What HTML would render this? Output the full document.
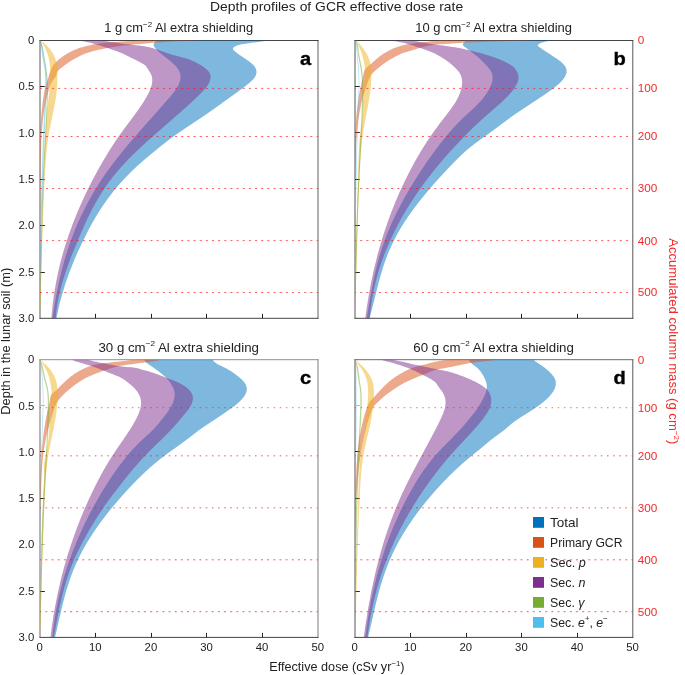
<!DOCTYPE html>
<html lang="en">
<head>
<meta charset="utf-8">
<title>Depth profiles of GCR effective dose rate</title>
<style>
html,body{margin:0;padding:0;background:#fff;}
body{width:685px;height:675px;overflow:hidden;position:relative;font-family:"Liberation Sans",sans-serif;}
svg text{font-family:"Liberation Sans",sans-serif;}
</style>
</head>
<body>
<svg width="685" height="675" viewBox="0 0 685 675" style="position:absolute;left:0;top:0">
<defs>
<clipPath id="cqa"><rect x="39.50" y="40.00" width="279.00" height="278.80"/></clipPath>
<clipPath id="cqb"><rect x="354.50" y="40.00" width="278.80" height="278.80"/></clipPath>
<clipPath id="cqc"><rect x="39.50" y="359.20" width="279.00" height="278.70"/></clipPath>
<clipPath id="cqd"><rect x="354.50" y="359.20" width="278.80" height="278.70"/></clipPath>
</defs>
<line x1="318.00" y1="40.10" x2="318.00" y2="318.70" stroke="#a8a8a8" stroke-width="1.8"/>
<line x1="40.00" y1="40.10" x2="40.00" y2="318.70" stroke="#777" stroke-width="1.2"/>
<line x1="39.50" y1="40.50" x2="318.50" y2="40.50" stroke="#444" stroke-width="1.0"/>
<line x1="39.50" y1="318.30" x2="318.50" y2="318.30" stroke="#444" stroke-width="1.0"/>
<line x1="95.50" y1="318.30" x2="95.50" y2="313.80" stroke="#222" stroke-width="1"/>
<line x1="151.50" y1="318.30" x2="151.50" y2="313.80" stroke="#222" stroke-width="1"/>
<line x1="206.50" y1="318.30" x2="206.50" y2="313.80" stroke="#222" stroke-width="1"/>
<line x1="262.50" y1="318.30" x2="262.50" y2="313.80" stroke="#222" stroke-width="1"/>
<line x1="40.00" y1="86.50" x2="44.80" y2="86.50" stroke="#222" stroke-width="1"/>
<line x1="40.00" y1="132.50" x2="44.80" y2="132.50" stroke="#222" stroke-width="1"/>
<line x1="40.00" y1="179.50" x2="44.80" y2="179.50" stroke="#222" stroke-width="1"/>
<line x1="40.00" y1="225.50" x2="44.80" y2="225.50" stroke="#222" stroke-width="1"/>
<line x1="40.00" y1="272.50" x2="44.80" y2="272.50" stroke="#222" stroke-width="1"/>
<g clip-path="url(#cqa)">
<path d="M269.0,40.5L266.1,40.9L263.0,41.3L259.8,41.8L256.6,42.2L254.3,42.5L253.3,42.6L250.1,43.0L246.9,43.5L244.0,43.9L241.5,44.3L240.6,44.5L239.6,44.7L238.1,45.2L236.9,45.6L235.8,46.0L234.9,46.4L234.8,46.5L234.2,46.9L233.8,47.3L233.4,47.7L233.2,48.1L233.0,48.5L233.0,48.6L233.0,49.0L233.1,49.4L233.3,49.8L233.7,50.2L233.9,50.5L234.1,50.7L234.6,51.1L235.1,51.5L235.7,51.9L236.2,52.4L236.4,52.5L236.7,52.8L237.3,53.2L237.8,53.6L238.3,54.1L238.9,54.5L238.9,54.5L239.5,54.9L240.1,55.3L240.8,55.8L241.4,56.2L241.9,56.5L242.1,56.6L242.7,57.0L243.4,57.4L244.0,57.9L244.6,58.3L244.9,58.5L245.2,58.7L245.8,59.1L246.4,59.6L247.0,60.0L247.6,60.4L247.7,60.5L248.2,60.8L248.8,61.3L249.4,61.7L249.9,62.1L250.4,62.5L250.5,62.5L251.0,63.0L251.6,63.4L252.1,63.8L252.5,64.2L252.8,64.5L253.0,64.7L253.4,65.1L253.8,65.5L254.6,66.5L255.8,68.5L256.4,70.5L256.5,72.5L256.1,74.5L255.3,76.5L253.9,78.5L252.0,80.5L249.8,82.5L247.4,84.5L244.9,86.5L242.3,88.5L239.6,90.5L236.8,92.5L234.0,94.5L231.2,96.5L228.4,98.5L225.6,100.5L222.8,102.5L220.1,104.5L217.3,106.5L214.5,108.5L211.7,110.4L208.8,112.4L205.9,114.4L203.0,116.4L200.0,118.4L197.0,120.4L194.0,122.4L191.0,124.4L187.9,126.4L185.0,128.4L182.0,130.4L179.1,132.4L176.2,134.4L173.5,136.4L170.8,138.4L168.1,140.4L165.5,142.4L162.9,144.4L160.4,146.4L157.9,148.4L155.5,150.4L153.0,152.4L150.6,154.4L148.2,156.4L145.8,158.4L143.5,160.4L141.2,162.4L138.9,164.4L136.7,166.4L134.6,168.4L132.5,170.4L130.5,172.4L128.5,174.4L126.5,176.4L124.6,178.4L122.8,180.4L120.9,182.4L119.2,184.4L117.5,186.4L115.8,188.4L114.1,190.4L112.5,192.4L111.0,194.4L109.4,196.4L108.0,198.4L106.5,200.4L105.1,202.4L103.7,204.4L102.3,206.4L101.0,208.4L99.7,210.4L98.5,212.4L97.2,214.4L96.0,216.4L94.8,218.4L93.7,220.4L92.5,222.4L91.4,224.4L90.3,226.4L89.3,228.4L88.2,230.4L87.2,232.4L86.2,234.4L85.2,236.4L84.2,238.4L83.2,240.4L82.2,242.4L81.3,244.4L80.4,246.4L79.4,248.4L78.5,250.3L77.6,252.3L76.8,254.3L75.9,256.3L75.0,258.3L74.2,260.3L73.4,262.3L72.6,264.3L71.8,266.3L71.0,268.3L70.2,270.3L69.5,272.3L68.7,274.3L68.0,276.3L67.3,278.3L66.6,280.3L65.9,282.3L65.2,284.3L64.6,286.3L64.0,288.3L63.4,290.3L62.8,292.3L62.2,294.3L61.6,296.3L61.1,298.3L60.5,300.3L60.0,302.3L59.5,304.3L59.0,306.3L58.6,308.3L58.1,310.3L57.7,312.3L57.3,314.3L56.9,316.3L56.5,318.3L52.5,318.3L52.8,316.3L53.1,314.3L53.4,312.3L53.7,310.3L54.0,308.3L54.3,306.3L54.7,304.3L55.0,302.3L55.4,300.3L55.7,298.3L56.1,296.3L56.5,294.3L56.9,292.3L57.2,290.3L57.6,288.3L58.1,286.3L58.5,284.3L58.9,282.3L59.4,280.3L59.8,278.3L60.3,276.3L60.8,274.3L61.3,272.3L61.8,270.3L62.3,268.3L62.8,266.3L63.4,264.3L63.9,262.3L64.5,260.3L65.1,258.3L65.7,256.3L66.3,254.3L66.9,252.3L67.5,250.3L68.2,248.4L68.9,246.4L69.5,244.4L70.2,242.4L71.0,240.4L71.7,238.4L72.4,236.4L73.2,234.4L74.0,232.4L74.8,230.4L75.6,228.4L76.4,226.4L77.3,224.4L78.2,222.4L79.0,220.4L80.0,218.4L80.9,216.4L81.8,214.4L82.8,212.4L83.8,210.4L84.8,208.4L85.8,206.4L86.8,204.4L87.9,202.4L89.0,200.4L90.1,198.4L91.2,196.4L92.4,194.4L93.5,192.4L94.7,190.4L95.9,188.4L97.2,186.4L98.4,184.4L99.7,182.4L101.0,180.4L102.3,178.4L103.7,176.4L105.0,174.4L106.4,172.4L107.9,170.4L109.3,168.4L110.8,166.4L112.3,164.4L113.8,162.4L115.3,160.4L116.9,158.4L118.5,156.4L120.1,154.4L121.7,152.4L123.3,150.4L125.0,148.4L126.6,146.4L128.3,144.4L130.0,142.4L131.7,140.4L133.4,138.4L135.2,136.4L136.9,134.4L138.6,132.4L140.4,130.4L142.1,128.4L143.9,126.4L145.7,124.4L147.4,122.4L149.2,120.4L151.0,118.4L152.8,116.4L154.5,114.4L156.3,112.4L158.1,110.4L159.8,108.5L161.6,106.5L163.3,104.5L165.1,102.5L166.8,100.5L168.6,98.5L170.3,96.5L172.0,94.5L173.6,92.5L175.1,90.5L176.4,88.5L177.7,86.5L178.7,84.5L179.5,82.5L180.1,80.5L180.5,78.5L180.5,76.5L180.3,74.5L179.8,72.5L178.9,70.5L177.7,68.5L176.1,66.5L175.2,65.5L174.8,65.1L174.4,64.7L174.2,64.5L173.9,64.2L173.5,63.8L173.0,63.4L172.6,63.0L172.1,62.5L172.0,62.5L171.6,62.1L171.1,61.7L170.6,61.3L170.1,60.8L169.7,60.5L169.6,60.4L169.0,60.0L168.5,59.6L168.0,59.1L167.4,58.7L167.1,58.5L166.9,58.3L166.3,57.9L165.8,57.4L165.2,57.0L164.7,56.6L164.5,56.5L164.1,56.2L163.6,55.8L163.0,55.3L162.5,54.9L162.0,54.5L162.0,54.5L161.4,54.1L160.9,53.6L160.4,53.2L159.9,52.8L159.5,52.5L159.4,52.4L158.9,51.9L158.4,51.5L158.0,51.1L157.5,50.7L157.3,50.5L157.1,50.2L156.7,49.8L156.3,49.4L155.9,49.0L155.5,48.6L155.5,48.5L155.2,48.1L154.9,47.7L154.6,47.3L154.4,46.9L154.2,46.5L154.1,46.4L153.9,46.0L153.8,45.6L153.7,45.2L153.7,44.7L153.6,44.5L153.7,44.3L153.7,43.9L153.9,43.5L154.1,43.0L154.4,42.6L154.5,42.5L154.8,42.2L155.4,41.8L156.0,41.3L156.9,40.9L158.0,40.5Z" fill="#0072BD" fill-opacity="0.5"/>
<path d="M205.0,40.5L188.0,40.9L176.5,41.3L168.5,41.8L162.0,42.2L157.7,42.5L156.0,42.6L150.5,43.0L145.4,43.5L140.4,43.9L135.7,44.3L133.7,44.5L131.2,44.7L127.1,45.2L123.4,45.6L120.0,46.0L116.9,46.4L116.5,46.5L114.2,46.9L111.6,47.3L109.2,47.7L106.9,48.1L105.0,48.5L104.7,48.6L102.6,49.0L100.6,49.4L98.6,49.8L96.8,50.2L95.7,50.5L95.0,50.7L93.3,51.1L91.8,51.5L90.3,51.9L88.9,52.4L88.5,52.5L87.7,52.8L86.4,53.2L85.3,53.6L84.2,54.1L83.2,54.5L83.2,54.5L82.2,54.9L81.3,55.3L80.4,55.8L79.6,56.2L78.9,56.5L78.7,56.6L77.9,57.0L77.1,57.4L76.3,57.9L75.5,58.3L75.2,58.5L74.7,58.7L74.0,59.1L73.3,59.6L72.5,60.0L71.8,60.4L71.7,60.5L71.1,60.8L70.5,61.3L69.8,61.7L69.2,62.1L68.6,62.5L68.5,62.5L67.9,63.0L67.3,63.4L66.7,63.8L66.1,64.2L65.8,64.5L65.5,64.7L64.9,65.1L64.4,65.5L63.1,66.5L60.5,68.5L58.1,70.5L56.9,72.5L56.6,74.5L55.8,76.5L54.2,78.5L52.7,80.5L51.5,82.5L50.6,84.5L49.9,86.5L49.2,88.5L48.6,90.5L48.1,92.5L47.5,94.5L47.0,96.5L46.5,98.5L46.1,100.5L45.7,102.5L45.3,104.5L44.9,106.5L44.5,108.5L44.2,110.4L43.9,112.4L43.6,114.4L43.3,116.4L43.1,118.4L42.8,120.4L42.6,122.4L42.4,124.4L42.2,126.4L42.1,128.4L41.9,130.4L41.8,132.4L41.7,134.4L41.5,136.4L41.4,138.4L41.3,140.4L41.2,142.4L41.2,144.4L41.1,146.4L41.0,148.4L41.0,150.4L40.9,152.4L40.9,154.4L40.8,156.4L40.8,158.4L40.7,160.4L40.7,162.4L40.6,164.4L40.6,166.4L40.5,168.4L40.5,170.4L40.5,172.4L40.4,174.4L40.4,176.4L40.4,178.4L40.3,180.4L40.3,182.4L40.3,184.4L40.3,186.4L40.2,188.4L40.2,190.4L40.2,192.4L40.2,194.4L40.2,196.4L40.1,198.4L40.1,200.4L40.1,202.4L40.1,204.4L40.1,206.4L40.1,208.4L40.0,210.4L40.0,212.4L40.0,214.4L40.0,216.4L40.0,218.4L40.0,220.4L40.0,222.4L40.0,224.4L40.0,226.4L40.0,228.4L40.0,230.4L40.0,232.4L40.0,234.4L40.0,236.4L40.0,238.4L40.0,240.4L40.0,242.4L40.0,244.4L40.0,246.4L40.0,248.4L40.0,250.3L40.0,252.3L40.0,254.3L40.0,256.3L40.0,258.3L40.0,260.3L40.0,262.3L40.0,264.3L40.0,266.3L40.0,268.3L40.0,270.3L40.0,272.3L40.0,274.3L40.0,276.3L40.0,278.3L40.0,280.3L40.0,282.3L40.0,284.3L40.0,286.3L40.0,288.3L40.0,290.3L40.0,292.3L40.0,294.3L40.0,296.3L40.0,298.3L40.0,300.3L40.0,302.3L40.0,304.3L40.0,306.3L40.0,308.3L40.0,310.3L40.0,312.3L40.0,314.3L40.0,316.3L40.0,318.3L40.0,318.3L40.0,316.3L40.0,314.3L40.0,312.3L40.0,310.3L40.0,308.3L40.0,306.3L40.0,304.3L40.0,302.3L40.0,300.3L40.0,298.3L40.0,296.3L40.0,294.3L40.0,292.3L40.0,290.3L40.0,288.3L40.0,286.3L40.0,284.3L40.0,282.3L40.0,280.3L40.0,278.3L40.0,276.3L40.0,274.3L40.0,272.3L40.0,270.3L40.0,268.3L40.0,266.3L40.0,264.3L40.0,262.3L40.0,260.3L40.0,258.3L40.0,256.3L40.0,254.3L40.0,252.3L40.0,250.3L40.0,248.4L40.0,246.4L40.0,244.4L40.0,242.4L40.0,240.4L40.0,238.4L40.0,236.4L40.0,234.4L40.0,232.4L40.0,230.4L40.0,228.4L40.0,226.4L40.0,224.4L40.0,222.4L40.0,220.4L40.0,218.4L40.0,216.4L40.0,214.4L40.0,212.4L40.0,210.4L40.0,208.4L40.0,206.4L40.0,204.4L40.0,202.4L40.0,200.4L40.0,198.4L40.0,196.4L40.0,194.4L40.0,192.4L40.0,190.4L40.0,188.4L40.0,186.4L40.0,184.4L40.0,182.4L40.0,180.4L40.0,178.4L40.0,176.4L40.0,174.4L40.1,172.4L40.1,170.4L40.1,168.4L40.1,166.4L40.1,164.4L40.1,162.4L40.1,160.4L40.1,158.4L40.1,156.4L40.1,154.4L40.1,152.4L40.1,150.4L40.1,148.4L40.2,146.4L40.2,144.4L40.2,142.4L40.2,140.4L40.3,138.4L40.3,136.4L40.4,134.4L40.4,132.4L40.5,130.4L40.6,128.4L40.7,126.4L40.8,124.4L40.9,122.4L41.0,120.4L41.1,118.4L41.3,116.4L41.4,114.4L41.6,112.4L41.8,110.4L42.0,108.5L42.2,106.5L42.4,104.5L42.7,102.5L42.9,100.5L43.2,98.5L43.5,96.5L43.8,94.5L44.2,92.5L44.5,90.5L44.9,88.5L45.4,86.5L46.0,84.5L46.6,82.5L47.3,80.5L48.0,78.5L48.7,76.5L49.3,74.5L49.9,72.5L50.6,70.5L51.4,68.5L52.5,66.5L53.1,65.5L53.4,65.1L53.7,64.7L53.9,64.5L54.1,64.2L54.4,63.8L54.8,63.4L55.2,63.0L55.6,62.5L55.6,62.5L56.0,62.1L56.4,61.7L56.8,61.3L57.3,60.8L57.7,60.5L57.7,60.4L58.2,60.0L58.7,59.6L59.2,59.1L59.8,58.7L60.1,58.5L60.3,58.3L60.9,57.9L61.4,57.4L62.0,57.0L62.6,56.6L62.8,56.5L63.2,56.2L63.9,55.8L64.5,55.3L65.2,54.9L65.9,54.5L65.9,54.5L66.6,54.1L67.3,53.6L68.0,53.2L68.7,52.8L69.3,52.5L69.5,52.4L70.3,51.9L71.1,51.5L71.9,51.1L72.8,50.7L73.2,50.5L73.7,50.2L74.7,49.8L75.7,49.4L76.8,49.0L78.0,48.6L78.1,48.5L79.2,48.1L80.5,47.7L81.9,47.3L83.4,46.9L84.7,46.5L84.9,46.4L86.5,46.0L88.3,45.6L90.1,45.2L92.0,44.7L93.1,44.5L94.0,44.3L96.3,43.9L99.1,43.5L102.6,43.0L107.1,42.6L108.6,42.5L112.6,42.2L118.9,41.8L125.7,41.3L132.8,40.9L140.0,40.5Z" fill="#D95319" fill-opacity="0.5"/>
<path d="M40.3,40.5L41.0,40.9L41.7,41.3L42.3,41.8L42.9,42.2L43.3,42.5L43.5,42.6L44.0,43.0L44.5,43.5L45.0,43.9L45.5,44.3L45.7,44.5L46.0,44.7L46.4,45.2L46.8,45.6L47.2,46.0L47.6,46.4L47.7,46.5L48.0,46.9L48.4,47.3L48.7,47.7L49.1,48.1L49.4,48.5L49.4,48.6L49.8,49.0L50.1,49.4L50.4,49.8L50.7,50.2L50.9,50.5L51.0,50.7L51.3,51.1L51.6,51.5L51.9,51.9L52.2,52.4L52.3,52.5L52.5,52.8L52.7,53.2L53.0,53.6L53.2,54.1L53.5,54.5L53.5,54.5L53.7,54.9L53.9,55.3L54.1,55.8L54.3,56.2L54.4,56.5L54.5,56.6L54.7,57.0L54.8,57.4L55.0,57.9L55.2,58.3L55.2,58.5L55.3,58.7L55.5,59.1L55.6,59.6L55.7,60.0L55.8,60.4L55.9,60.5L56.0,60.8L56.1,61.3L56.2,61.7L56.3,62.1L56.3,62.5L56.4,62.5L56.4,63.0L56.5,63.4L56.6,63.8L56.7,64.2L56.7,64.5L56.7,64.7L56.8,65.1L56.9,65.5L57.0,66.5L57.2,68.5L57.3,70.5L57.4,72.5L57.4,74.5L57.4,76.5L57.4,78.5L57.4,80.5L57.3,82.5L57.2,84.5L57.0,86.5L56.9,88.5L56.7,90.5L56.5,92.5L56.2,94.5L56.0,96.5L55.7,98.5L55.4,100.5L55.0,102.5L54.7,104.5L54.3,106.5L53.9,108.5L53.6,110.4L53.1,112.4L52.7,114.4L52.3,116.4L51.9,118.4L51.5,120.4L51.1,122.4L50.7,124.4L50.3,126.4L49.9,128.4L49.5,130.4L49.1,132.4L48.8,134.4L48.4,136.4L48.1,138.4L47.8,140.4L47.5,142.4L47.3,144.4L47.1,146.4L46.8,148.4L46.6,150.4L46.4,152.4L46.2,154.4L46.1,156.4L45.9,158.4L45.8,160.4L45.6,162.4L45.5,164.4L45.4,166.4L45.2,168.4L45.1,170.4L45.0,172.4L44.9,174.4L44.8,176.4L44.7,178.4L44.6,180.4L44.5,182.4L44.4,184.4L44.3,186.4L44.2,188.4L44.1,190.4L44.0,192.4L43.9,194.4L43.8,196.4L43.7,198.4L43.6,200.4L43.5,202.4L43.5,204.4L43.4,206.4L43.3,208.4L43.2,210.4L43.2,212.4L43.1,214.4L43.0,216.4L43.0,218.4L42.9,220.4L42.8,222.4L42.8,224.4L42.7,226.4L42.6,228.4L42.6,230.4L42.5,232.4L42.5,234.4L42.4,236.4L42.3,238.4L42.3,240.4L42.2,242.4L42.2,244.4L42.1,246.4L42.1,248.4L42.0,250.3L42.0,252.3L41.9,254.3L41.9,256.3L41.8,258.3L41.8,260.3L41.7,262.3L41.7,264.3L41.6,266.3L41.6,268.3L41.5,270.3L41.5,272.3L41.4,274.3L41.4,276.3L41.3,278.3L41.2,280.3L41.2,282.3L41.1,284.3L41.1,286.3L41.0,288.3L41.0,290.3L40.9,292.3L40.9,294.3L40.8,296.3L40.8,298.3L40.7,300.3L40.7,302.3L40.6,304.3L40.5,306.3L40.5,308.3L40.4,310.3L40.4,312.3L40.3,314.3L40.2,316.3L40.2,318.3L40.2,318.3L40.2,316.3L40.2,314.3L40.2,312.3L40.2,310.3L40.2,308.3L40.2,306.3L40.2,304.3L40.2,302.3L40.2,300.3L40.2,298.3L40.2,296.3L40.2,294.3L40.2,292.3L40.2,290.3L40.3,288.3L40.3,286.3L40.3,284.3L40.3,282.3L40.4,280.3L40.4,278.3L40.4,276.3L40.4,274.3L40.5,272.3L40.5,270.3L40.6,268.3L40.6,266.3L40.6,264.3L40.7,262.3L40.7,260.3L40.8,258.3L40.8,256.3L40.9,254.3L40.9,252.3L41.0,250.3L41.0,248.4L41.1,246.4L41.1,244.4L41.2,242.4L41.2,240.4L41.3,238.4L41.4,236.4L41.4,234.4L41.5,232.4L41.5,230.4L41.6,228.4L41.7,226.4L41.7,224.4L41.8,222.4L41.9,220.4L41.9,218.4L42.0,216.4L42.1,214.4L42.1,212.4L42.2,210.4L42.3,208.4L42.4,206.4L42.4,204.4L42.5,202.4L42.6,200.4L42.7,198.4L42.7,196.4L42.8,194.4L42.9,192.4L42.9,190.4L43.0,188.4L43.1,186.4L43.2,184.4L43.2,182.4L43.3,180.4L43.4,178.4L43.5,176.4L43.5,174.4L43.6,172.4L43.7,170.4L43.8,168.4L43.8,166.4L43.9,164.4L44.0,162.4L44.1,160.4L44.1,158.4L44.2,156.4L44.3,154.4L44.4,152.4L44.5,150.4L44.6,148.4L44.7,146.4L44.8,144.4L44.9,142.4L45.0,140.4L45.1,138.4L45.2,136.4L45.3,134.4L45.4,132.4L45.5,130.4L45.7,128.4L45.8,126.4L45.9,124.4L46.1,122.4L46.3,120.4L46.4,118.4L46.6,116.4L46.8,114.4L47.0,112.4L47.1,110.4L47.3,108.5L47.6,106.5L47.8,104.5L48.0,102.5L48.2,100.5L48.5,98.5L48.7,96.5L49.0,94.5L49.2,92.5L49.4,90.5L49.6,88.5L49.8,86.5L50.0,84.5L50.1,82.5L50.2,80.5L50.3,78.5L50.4,76.5L50.4,74.5L50.4,72.5L50.3,70.5L50.2,68.5L50.0,66.5L49.9,65.5L49.9,65.1L49.8,64.7L49.8,64.5L49.8,64.2L49.7,63.8L49.7,63.4L49.6,63.0L49.5,62.5L49.5,62.5L49.5,62.1L49.4,61.7L49.3,61.3L49.2,60.8L49.2,60.5L49.2,60.4L49.1,60.0L49.0,59.6L48.9,59.1L48.8,58.7L48.7,58.5L48.7,58.3L48.6,57.9L48.5,57.4L48.4,57.0L48.3,56.6L48.2,56.5L48.2,56.2L48.0,55.8L47.9,55.3L47.8,54.9L47.7,54.5L47.7,54.5L47.5,54.1L47.4,53.6L47.3,53.2L47.1,52.8L47.0,52.5L47.0,52.4L46.8,51.9L46.6,51.5L46.5,51.1L46.3,50.7L46.2,50.5L46.1,50.2L46.0,49.8L45.8,49.4L45.6,49.0L45.4,48.6L45.4,48.5L45.2,48.1L45.0,47.7L44.8,47.3L44.6,46.9L44.4,46.5L44.4,46.4L44.2,46.0L43.9,45.6L43.7,45.2L43.4,44.7L43.3,44.5L43.2,44.3L42.9,43.9L42.6,43.5L42.3,43.0L41.9,42.6L41.9,42.5L41.6,42.2L41.2,41.8L40.8,41.3L40.4,40.9L40.0,40.5Z" fill="#EDB120" fill-opacity="0.5"/>
<path d="M101.0,40.5L103.7,40.9L106.5,41.3L109.4,41.8L112.4,42.2L114.5,42.5L115.4,42.6L118.5,43.0L121.7,43.5L125.0,43.9L128.4,44.3L130.0,44.5L131.9,44.7L135.5,45.2L139.2,45.6L142.5,46.0L145.5,46.4L145.8,46.5L147.7,46.9L149.5,47.3L151.0,47.7L152.5,48.1L153.7,48.5L153.9,48.6L155.3,49.0L156.6,49.4L157.9,49.8L159.2,50.2L159.9,50.5L160.4,50.7L161.6,51.1L162.8,51.5L164.0,51.9L165.2,52.4L165.5,52.5L166.3,52.8L167.5,53.2L168.7,53.6L170.0,54.1L171.3,54.5L171.4,54.5L172.7,54.9L174.3,55.3L175.8,55.8L177.5,56.2L178.7,56.5L179.2,56.6L180.8,57.0L182.5,57.4L184.1,57.9L185.6,58.3L186.3,58.5L187.0,58.7L188.3,59.1L189.5,59.6L190.6,60.0L191.6,60.4L191.8,60.5L192.5,60.8L193.4,61.3L194.3,61.7L195.2,62.1L195.9,62.5L196.0,62.5L196.8,63.0L197.6,63.4L198.4,63.8L199.2,64.2L199.6,64.5L199.9,64.7L200.7,65.1L201.4,65.5L202.9,66.5L205.7,68.5L207.8,70.5L209.3,72.5L210.2,74.5L210.6,76.5L210.5,78.5L210.0,80.5L209.3,82.5L208.2,84.5L206.8,86.5L205.3,88.5L203.5,90.5L201.6,92.5L199.6,94.5L197.6,96.5L195.5,98.5L193.3,100.5L191.2,102.5L189.0,104.5L186.8,106.5L184.6,108.5L182.3,110.4L180.1,112.4L177.8,114.4L175.5,116.4L173.2,118.4L170.9,120.4L168.6,122.4L166.3,124.4L164.0,126.4L161.7,128.4L159.4,130.4L157.2,132.4L154.9,134.4L152.6,136.4L150.4,138.4L148.1,140.4L145.9,142.4L143.7,144.4L141.5,146.4L139.4,148.4L137.3,150.4L135.2,152.4L133.1,154.4L131.1,156.4L129.1,158.4L127.2,160.4L125.3,162.4L123.4,164.4L121.6,166.4L119.8,168.4L118.1,170.4L116.4,172.4L114.8,174.4L113.2,176.4L111.6,178.4L110.1,180.4L108.6,182.4L107.2,184.4L105.8,186.4L104.4,188.4L103.1,190.4L101.8,192.4L100.6,194.4L99.3,196.4L98.1,198.4L97.0,200.4L95.8,202.4L94.7,204.4L93.6,206.4L92.5,208.4L91.5,210.4L90.5,212.4L89.5,214.4L88.5,216.4L87.5,218.4L86.6,220.4L85.7,222.4L84.8,224.4L83.9,226.4L83.0,228.4L82.1,230.4L81.2,232.4L80.4,234.4L79.5,236.4L78.7,238.4L77.9,240.4L77.0,242.4L76.2,244.4L75.4,246.4L74.6,248.4L73.8,250.3L73.0,252.3L72.2,254.3L71.4,256.3L70.7,258.3L69.9,260.3L69.1,262.3L68.4,264.3L67.7,266.3L67.0,268.3L66.3,270.3L65.6,272.3L64.9,274.3L64.3,276.3L63.6,278.3L63.0,280.3L62.4,282.3L61.9,284.3L61.3,286.3L60.8,288.3L60.2,290.3L59.8,292.3L59.3,294.3L58.8,296.3L58.4,298.3L58.0,300.3L57.7,302.3L57.3,304.3L57.0,306.3L56.7,308.3L56.5,310.3L56.2,312.3L56.0,314.3L55.9,316.3L55.7,318.3L51.4,318.3L51.6,316.3L51.7,314.3L51.9,312.3L52.1,310.3L52.3,308.3L52.5,306.3L52.7,304.3L53.0,302.3L53.2,300.3L53.5,298.3L53.8,296.3L54.1,294.3L54.4,292.3L54.7,290.3L55.0,288.3L55.4,286.3L55.7,284.3L56.1,282.3L56.5,280.3L56.9,278.3L57.3,276.3L57.7,274.3L58.1,272.3L58.6,270.3L59.0,268.3L59.5,266.3L60.0,264.3L60.5,262.3L61.0,260.3L61.6,258.3L62.1,256.3L62.7,254.3L63.2,252.3L63.8,250.3L64.4,248.4L65.0,246.4L65.6,244.4L66.3,242.4L66.9,240.4L67.6,238.4L68.2,236.4L68.9,234.4L69.6,232.4L70.3,230.4L71.1,228.4L71.8,226.4L72.5,224.4L73.3,222.4L74.1,220.4L74.9,218.4L75.7,216.4L76.5,214.4L77.3,212.4L78.2,210.4L79.0,208.4L79.9,206.4L80.8,204.4L81.7,202.4L82.6,200.4L83.5,198.4L84.4,196.4L85.4,194.4L86.3,192.4L87.3,190.4L88.3,188.4L89.3,186.4L90.3,184.4L91.3,182.4L92.3,180.4L93.4,178.4L94.4,176.4L95.5,174.4L96.6,172.4L97.7,170.4L98.8,168.4L99.9,166.4L101.1,164.4L102.2,162.4L103.4,160.4L104.6,158.4L105.8,156.4L107.0,154.4L108.2,152.4L109.4,150.4L110.7,148.4L112.0,146.4L113.3,144.4L114.6,142.4L115.9,140.4L117.3,138.4L118.7,136.4L120.1,134.4L121.5,132.4L123.0,130.4L124.4,128.4L125.9,126.4L127.4,124.4L128.9,122.4L130.4,120.4L131.9,118.4L133.4,116.4L134.9,114.4L136.3,112.4L137.8,110.4L139.2,108.5L140.5,106.5L141.9,104.5L143.2,102.5L144.4,100.5L145.6,98.5L146.8,96.5L147.9,94.5L148.9,92.5L149.8,90.5L150.6,88.5L151.3,86.5L151.8,84.5L152.1,82.5L152.3,80.5L152.2,78.5L151.9,76.5L151.1,74.5L150.1,72.5L148.8,70.5L147.5,68.5L146.2,66.5L145.4,65.5L144.9,65.1L144.3,64.7L144.0,64.5L143.6,64.2L142.9,63.8L142.1,63.4L141.4,63.0L140.6,62.5L140.5,62.5L139.8,62.1L139.0,61.7L138.2,61.3L137.4,60.8L136.7,60.5L136.5,60.4L135.7,60.0L134.8,59.6L134.0,59.1L133.1,58.7L132.6,58.5L132.2,58.3L131.4,57.9L130.5,57.4L129.7,57.0L128.8,56.6L128.6,56.5L128.0,56.2L127.1,55.8L126.3,55.3L125.5,54.9L124.6,54.5L124.6,54.5L123.7,54.1L122.8,53.6L121.8,53.2L120.8,52.8L120.1,52.5L119.8,52.4L118.7,51.9L117.6,51.5L116.4,51.1L115.2,50.7L114.7,50.5L114.0,50.2L112.8,49.8L111.6,49.4L110.4,49.0L109.1,48.6L109.0,48.5L107.9,48.1L106.6,47.7L105.4,47.3L104.1,46.9L102.9,46.5L102.7,46.4L101.4,46.0L100.0,45.6L98.7,45.2L97.3,44.7L96.6,44.5L96.0,44.3L94.5,43.9L93.0,43.5L91.4,43.0L89.6,42.6L89.1,42.5L87.7,42.2L85.5,41.8L83.1,41.3L80.5,40.9L77.5,40.5Z" fill="#7E2F8E" fill-opacity="0.5"/>
<path d="M40.0,40.5L40.3,40.9L40.6,41.3L40.9,41.8L41.1,42.2L41.3,42.5L41.3,42.6L41.5,43.0L41.7,43.5L41.9,43.9L42.0,44.3L42.1,44.5L42.2,44.7L42.3,45.2L42.4,45.6L42.5,46.0L42.6,46.4L42.6,46.5L42.7,46.9L42.8,47.3L42.9,47.7L42.9,48.1L43.0,48.5L43.0,48.6L43.1,49.0L43.1,49.4L43.2,49.8L43.3,50.2L43.3,50.5L43.3,50.7L43.4,51.1L43.5,51.5L43.5,51.9L43.6,52.4L43.6,52.5L43.7,52.8L43.7,53.2L43.8,53.6L43.9,54.1L44.0,54.5L44.0,54.5L44.0,54.9L44.1,55.3L44.2,55.8L44.2,56.2L44.3,56.5L44.3,56.6L44.4,57.0L44.5,57.4L44.5,57.9L44.6,58.3L44.7,58.5L44.7,58.7L44.8,59.1L44.9,59.6L44.9,60.0L45.0,60.4L45.0,60.5L45.1,60.8L45.2,61.3L45.2,61.7L45.3,62.1L45.4,62.5L45.4,62.5L45.5,63.0L45.5,63.4L45.6,63.8L45.7,64.2L45.7,64.5L45.8,64.7L45.8,65.1L45.9,65.5L46.1,66.5L46.4,68.5L46.7,70.5L46.9,72.5L47.2,74.5L47.3,76.5L47.5,78.5L47.6,80.5L47.7,82.5L47.8,84.5L47.8,86.5L47.9,88.5L47.9,90.5L47.9,92.5L47.8,94.5L47.8,96.5L47.8,98.5L47.7,100.5L47.6,102.5L47.5,104.5L47.5,106.5L47.4,108.5L47.3,110.4L47.2,112.4L47.1,114.4L47.0,116.4L46.9,118.4L46.8,120.4L46.7,122.4L46.6,124.4L46.5,126.4L46.4,128.4L46.3,130.4L46.2,132.4L46.1,134.4L46.0,136.4L45.9,138.4L45.8,140.4L45.7,142.4L45.6,144.4L45.5,146.4L45.4,148.4L45.3,150.4L45.2,152.4L45.1,154.4L45.0,156.4L44.9,158.4L44.7,160.4L44.6,162.4L44.5,164.4L44.4,166.4L44.3,168.4L44.2,170.4L44.2,172.4L44.1,174.4L44.0,176.4L43.9,178.4L43.8,180.4L43.7,182.4L43.6,184.4L43.6,186.4L43.5,188.4L43.4,190.4L43.3,192.4L43.3,194.4L43.2,196.4L43.1,198.4L43.0,200.4L43.0,202.4L42.9,204.4L42.8,206.4L42.8,208.4L42.7,210.4L42.7,212.4L42.6,214.4L42.5,216.4L42.5,218.4L42.4,220.4L42.4,222.4L42.3,224.4L42.3,226.4L42.2,228.4L42.2,230.4L42.1,232.4L42.1,234.4L42.0,236.4L42.0,238.4L41.9,240.4L41.9,242.4L41.8,244.4L41.8,246.4L41.7,248.4L41.7,250.3L41.6,252.3L41.6,254.3L41.5,256.3L41.5,258.3L41.4,260.3L41.4,262.3L41.3,264.3L41.3,266.3L41.2,268.3L41.2,270.3L41.1,272.3L41.1,274.3L41.0,276.3L41.0,278.3L40.9,280.3L40.9,282.3L40.8,284.3L40.7,286.3L40.7,288.3L40.6,290.3L40.6,292.3L40.5,294.3L40.5,296.3L40.4,298.3L40.3,300.3L40.3,302.3L40.2,304.3L40.1,306.3L40.1,308.3L40.0,310.3L40.0,312.3L40.0,314.3L40.0,316.3L40.0,318.3L40.0,318.3L40.0,316.3L40.0,314.3L40.0,312.3L40.0,310.3L40.0,308.3L40.1,306.3L40.1,304.3L40.1,302.3L40.2,300.3L40.2,298.3L40.2,296.3L40.3,294.3L40.3,292.3L40.3,290.3L40.4,288.3L40.4,286.3L40.4,284.3L40.5,282.3L40.5,280.3L40.5,278.3L40.6,276.3L40.6,274.3L40.6,272.3L40.7,270.3L40.7,268.3L40.7,266.3L40.7,264.3L40.8,262.3L40.8,260.3L40.8,258.3L40.9,256.3L40.9,254.3L40.9,252.3L40.9,250.3L41.0,248.4L41.0,246.4L41.0,244.4L41.1,242.4L41.1,240.4L41.1,238.4L41.2,236.4L41.2,234.4L41.2,232.4L41.3,230.4L41.3,228.4L41.4,226.4L41.4,224.4L41.4,222.4L41.5,220.4L41.5,218.4L41.6,216.4L41.6,214.4L41.7,212.4L41.7,210.4L41.8,208.4L41.8,206.4L41.9,204.4L41.9,202.4L42.0,200.4L42.1,198.4L42.1,196.4L42.2,194.4L42.3,192.4L42.3,190.4L42.4,188.4L42.5,186.4L42.6,184.4L42.6,182.4L42.7,180.4L42.8,178.4L42.9,176.4L43.0,174.4L43.1,172.4L43.2,170.4L43.3,168.4L43.4,166.4L43.5,164.4L43.6,162.4L43.7,160.4L43.8,158.4L43.9,156.4L44.0,154.4L44.1,152.4L44.3,150.4L44.4,148.4L44.5,146.4L44.6,144.4L44.7,142.4L44.8,140.4L44.9,138.4L45.0,136.4L45.2,134.4L45.3,132.4L45.4,130.4L45.5,128.4L45.6,126.4L45.7,124.4L45.8,122.4L45.9,120.4L46.0,118.4L46.1,116.4L46.2,114.4L46.3,112.4L46.4,110.4L46.4,108.5L46.5,106.5L46.6,104.5L46.7,102.5L46.7,100.5L46.8,98.5L46.8,96.5L46.9,94.5L46.9,92.5L46.9,90.5L46.9,88.5L46.8,86.5L46.8,84.5L46.7,82.5L46.6,80.5L46.5,78.5L46.3,76.5L46.1,74.5L45.9,72.5L45.7,70.5L45.4,68.5L45.1,66.5L44.9,65.5L44.8,65.1L44.8,64.7L44.7,64.5L44.7,64.2L44.6,63.8L44.5,63.4L44.5,63.0L44.4,62.5L44.4,62.5L44.3,62.1L44.3,61.7L44.2,61.3L44.1,60.8L44.0,60.5L44.0,60.4L44.0,60.0L43.9,59.6L43.8,59.1L43.7,58.7L43.7,58.5L43.7,58.3L43.6,57.9L43.5,57.4L43.4,57.0L43.4,56.6L43.3,56.5L43.3,56.2L43.2,55.8L43.1,55.3L43.1,54.9L43.0,54.5L43.0,54.5L42.9,54.1L42.9,53.6L42.8,53.2L42.7,52.8L42.7,52.5L42.7,52.4L42.6,51.9L42.5,51.5L42.4,51.1L42.4,50.7L42.3,50.5L42.3,50.2L42.2,49.8L42.1,49.4L42.0,49.0L42.0,48.6L42.0,48.5L41.9,48.1L41.8,47.7L41.7,47.3L41.6,46.9L41.5,46.5L41.5,46.4L41.4,46.0L41.3,45.6L41.3,45.2L41.2,44.7L41.1,44.5L41.1,44.3L40.9,43.9L40.8,43.5L40.7,43.0L40.6,42.6L40.6,42.5L40.5,42.2L40.4,41.8L40.3,41.3L40.1,40.9L40.0,40.5Z" fill="#77AC30" fill-opacity="0.5"/>
<path d="M40.0,40.5L40.3,40.9L40.6,41.3L40.8,41.8L41.1,42.2L41.2,42.5L41.3,42.6L41.5,43.0L41.6,43.5L41.8,43.9L41.9,44.3L42.0,44.5L42.0,44.7L42.2,45.2L42.3,45.6L42.3,46.0L42.4,46.4L42.4,46.5L42.5,46.9L42.5,47.3L42.6,47.7L42.7,48.1L42.7,48.5L42.7,48.6L42.7,49.0L42.8,49.4L42.8,49.8L42.9,50.2L42.9,50.5L42.9,50.7L43.0,51.1L43.0,51.5L43.1,51.9L43.1,52.4L43.2,52.5L43.2,52.8L43.2,53.2L43.3,53.6L43.4,54.1L43.4,54.5L43.4,54.5L43.5,54.9L43.5,55.3L43.6,55.8L43.7,56.2L43.7,56.5L43.7,56.6L43.8,57.0L43.9,57.4L44.0,57.9L44.0,58.3L44.1,58.5L44.1,58.7L44.2,59.1L44.3,59.6L44.3,60.0L44.4,60.4L44.4,60.5L44.5,60.8L44.6,61.3L44.7,61.7L44.7,62.1L44.8,62.5L44.8,62.5L44.9,63.0L45.0,63.4L45.1,63.8L45.2,64.2L45.2,64.5L45.3,64.7L45.3,65.1L45.4,65.5L45.6,66.5L45.9,68.5L46.1,70.5L46.3,72.5L46.4,74.5L46.5,76.5L46.6,78.5L46.6,80.5L46.7,82.5L46.7,84.5L46.7,86.5L46.6,88.5L46.6,90.5L46.5,92.5L46.5,94.5L46.4,96.5L46.3,98.5L46.2,100.5L46.1,102.5L46.0,104.5L45.9,106.5L45.8,108.5L45.7,110.4L45.6,112.4L45.5,114.4L45.4,116.4L45.3,118.4L45.2,120.4L45.2,122.4L45.1,124.4L45.0,126.4L44.9,128.4L44.8,130.4L44.7,132.4L44.6,134.4L44.6,136.4L44.5,138.4L44.4,140.4L44.3,142.4L44.2,144.4L44.2,146.4L44.1,148.4L44.0,150.4L43.9,152.4L43.8,154.4L43.8,156.4L43.7,158.4L43.6,160.4L43.5,162.4L43.5,164.4L43.4,166.4L43.3,168.4L43.3,170.4L43.2,172.4L43.1,174.4L43.1,176.4L43.0,178.4L42.9,180.4L42.9,182.4L42.8,184.4L42.7,186.4L42.7,188.4L42.6,190.4L42.5,192.4L42.5,194.4L42.4,196.4L42.4,198.4L42.3,200.4L42.2,202.4L42.2,204.4L42.1,206.4L42.1,208.4L42.0,210.4L41.9,212.4L41.9,214.4L41.8,216.4L41.8,218.4L41.7,220.4L41.7,222.4L41.6,224.4L41.6,226.4L41.5,228.4L41.5,230.4L41.4,232.4L41.4,234.4L41.3,236.4L41.3,238.4L41.2,240.4L41.2,242.4L41.1,244.4L41.1,246.4L41.0,248.4L41.0,250.3L41.0,252.3L40.9,254.3L40.9,256.3L40.8,258.3L40.8,260.3L40.8,262.3L40.7,264.3L40.7,266.3L40.6,268.3L40.6,270.3L40.6,272.3L40.5,274.3L40.5,276.3L40.5,278.3L40.4,280.3L40.4,282.3L40.4,284.3L40.3,286.3L40.3,288.3L40.3,290.3L40.3,292.3L40.2,294.3L40.2,296.3L40.2,298.3L40.1,300.3L40.1,302.3L40.1,304.3L40.1,306.3L40.1,308.3L40.0,310.3L40.0,312.3L40.0,314.3L40.0,316.3L40.0,318.3L40.0,318.3L40.0,316.3L40.0,314.3L40.0,312.3L40.0,310.3L40.0,308.3L40.0,306.3L40.1,304.3L40.1,302.3L40.1,300.3L40.1,298.3L40.1,296.3L40.1,294.3L40.1,292.3L40.1,290.3L40.1,288.3L40.1,286.3L40.1,284.3L40.1,282.3L40.1,280.3L40.1,278.3L40.2,276.3L40.2,274.3L40.2,272.3L40.2,270.3L40.2,268.3L40.2,266.3L40.2,264.3L40.2,262.3L40.3,260.3L40.3,258.3L40.3,256.3L40.3,254.3L40.3,252.3L40.3,250.3L40.4,248.4L40.4,246.4L40.4,244.4L40.4,242.4L40.5,240.4L40.5,238.4L40.5,236.4L40.5,234.4L40.5,232.4L40.6,230.4L40.6,228.4L40.6,226.4L40.7,224.4L40.7,222.4L40.7,220.4L40.8,218.4L40.8,216.4L40.8,214.4L40.9,212.4L40.9,210.4L40.9,208.4L41.0,206.4L41.0,204.4L41.0,202.4L41.1,200.4L41.1,198.4L41.2,196.4L41.2,194.4L41.3,192.4L41.3,190.4L41.4,188.4L41.4,186.4L41.5,184.4L41.5,182.4L41.6,180.4L41.6,178.4L41.7,176.4L41.7,174.4L41.8,172.4L41.9,170.4L41.9,168.4L42.0,166.4L42.0,164.4L42.1,162.4L42.2,160.4L42.2,158.4L42.3,156.4L42.4,154.4L42.4,152.4L42.5,150.4L42.6,148.4L42.7,146.4L42.7,144.4L42.8,142.4L42.9,140.4L43.0,138.4L43.1,136.4L43.2,134.4L43.2,132.4L43.3,130.4L43.4,128.4L43.5,126.4L43.6,124.4L43.7,122.4L43.8,120.4L43.9,118.4L44.0,116.4L44.1,114.4L44.2,112.4L44.3,110.4L44.4,108.5L44.5,106.5L44.6,104.5L44.7,102.5L44.8,100.5L44.9,98.5L45.0,96.5L45.1,94.5L45.2,92.5L45.2,90.5L45.3,88.5L45.3,86.5L45.3,84.5L45.3,82.5L45.3,80.5L45.2,78.5L45.1,76.5L45.0,74.5L44.9,72.5L44.7,70.5L44.4,68.5L44.1,66.5L44.0,65.5L43.9,65.1L43.8,64.7L43.8,64.5L43.8,64.2L43.7,63.8L43.6,63.4L43.5,63.0L43.4,62.5L43.4,62.5L43.4,62.1L43.3,61.7L43.2,61.3L43.1,60.8L43.0,60.5L43.0,60.4L42.9,60.0L42.9,59.6L42.8,59.1L42.7,58.7L42.6,58.5L42.6,58.3L42.5,57.9L42.5,57.4L42.4,57.0L42.3,56.6L42.3,56.5L42.3,56.2L42.2,55.8L42.1,55.3L42.1,54.9L42.0,54.5L42.0,54.5L42.0,54.1L41.9,53.6L41.9,53.2L41.8,52.8L41.8,52.5L41.8,52.4L41.7,51.9L41.7,51.5L41.6,51.1L41.6,50.7L41.6,50.5L41.5,50.2L41.5,49.8L41.4,49.4L41.4,49.0L41.3,48.6L41.3,48.5L41.3,48.1L41.2,47.7L41.2,47.3L41.1,46.9L41.1,46.5L41.1,46.4L41.0,46.0L41.0,45.6L40.9,45.2L40.8,44.7L40.8,44.5L40.8,44.3L40.7,43.9L40.6,43.5L40.5,43.0L40.5,42.6L40.4,42.5L40.4,42.2L40.3,41.8L40.2,41.3L40.1,40.9L40.0,40.5Z" fill="#4DBEEE" fill-opacity="0.5"/>
</g>
<line x1="40.00" y1="88.40" x2="317.70" y2="88.40" stroke="#ff1414" stroke-opacity="0.74" stroke-width="0.95" stroke-dasharray="2.00 4.15" stroke-dashoffset="0.20"/>
<line x1="40.00" y1="136.50" x2="317.70" y2="136.50" stroke="#ff1414" stroke-opacity="0.74" stroke-width="0.95" stroke-dasharray="2.00 4.15" stroke-dashoffset="0.20"/>
<line x1="40.00" y1="188.50" x2="317.70" y2="188.50" stroke="#ff1414" stroke-opacity="0.74" stroke-width="0.95" stroke-dasharray="2.00 4.15" stroke-dashoffset="0.20"/>
<line x1="40.00" y1="240.60" x2="317.70" y2="240.60" stroke="#ff1414" stroke-opacity="0.74" stroke-width="0.95" stroke-dasharray="2.00 4.15" stroke-dashoffset="0.20"/>
<line x1="40.00" y1="292.50" x2="317.70" y2="292.50" stroke="#ff1414" stroke-opacity="0.74" stroke-width="0.95" stroke-dasharray="2.00 4.15" stroke-dashoffset="0.20"/>
<line x1="632.80" y1="40.10" x2="632.80" y2="318.70" stroke="#444" stroke-width="0.9"/>
<line x1="355.00" y1="40.10" x2="355.00" y2="318.70" stroke="#444" stroke-width="0.9"/>
<line x1="354.50" y1="40.50" x2="633.30" y2="40.50" stroke="#444" stroke-width="1.0"/>
<line x1="354.50" y1="318.30" x2="633.30" y2="318.30" stroke="#444" stroke-width="1.0"/>
<line x1="410.50" y1="318.30" x2="410.50" y2="313.80" stroke="#222" stroke-width="1"/>
<line x1="466.50" y1="318.30" x2="466.50" y2="313.80" stroke="#222" stroke-width="1"/>
<line x1="521.50" y1="318.30" x2="521.50" y2="313.80" stroke="#222" stroke-width="1"/>
<line x1="577.50" y1="318.30" x2="577.50" y2="313.80" stroke="#222" stroke-width="1"/>
<line x1="355.00" y1="86.50" x2="359.80" y2="86.50" stroke="#222" stroke-width="1"/>
<line x1="355.00" y1="132.50" x2="359.80" y2="132.50" stroke="#222" stroke-width="1"/>
<line x1="355.00" y1="179.50" x2="359.80" y2="179.50" stroke="#222" stroke-width="1"/>
<line x1="355.00" y1="225.50" x2="359.80" y2="225.50" stroke="#222" stroke-width="1"/>
<line x1="355.00" y1="272.50" x2="359.80" y2="272.50" stroke="#222" stroke-width="1"/>
<g clip-path="url(#cqb)">
<path d="M552.0,40.5L549.5,40.9L547.1,41.3L545.0,41.8L543.3,42.2L542.3,42.5L541.9,42.6L540.8,43.0L539.8,43.5L539.0,43.9L538.4,44.3L538.2,44.5L538.0,44.7L537.8,45.2L537.9,45.6L538.1,46.0L538.5,46.4L538.6,46.5L539.1,46.9L539.6,47.3L540.2,47.7L540.8,48.1L541.3,48.5L541.4,48.6L542.0,49.0L542.6,49.4L543.2,49.8L543.9,50.2L544.3,50.5L544.5,50.7L545.2,51.1L545.8,51.5L546.5,51.9L547.2,52.4L547.3,52.5L547.8,52.8L548.4,53.2L549.1,53.6L549.7,54.1L550.4,54.5L550.4,54.5L551.0,54.9L551.6,55.3L552.3,55.8L552.9,56.2L553.4,56.5L553.5,56.6L554.2,57.0L554.8,57.4L555.5,57.9L556.1,58.3L556.4,58.5L556.7,58.7L557.4,59.1L558.0,59.6L558.6,60.0L559.1,60.4L559.2,60.5L559.7,60.8L560.2,61.3L560.8,61.7L561.3,62.1L561.7,62.5L561.8,62.5L562.2,63.0L562.7,63.4L563.1,63.8L563.5,64.2L563.7,64.5L563.9,64.7L564.2,65.1L564.6,65.5L565.3,66.5L566.2,68.5L566.6,70.5L566.6,72.5L566.0,74.5L565.1,76.5L563.8,78.5L562.2,80.5L560.3,82.5L558.1,84.5L555.7,86.5L553.2,88.5L550.5,90.5L547.7,92.5L544.8,94.5L541.8,96.5L538.8,98.5L535.8,100.5L532.7,102.5L529.7,104.5L526.6,106.5L523.6,108.5L520.6,110.4L517.6,112.4L514.7,114.4L511.8,116.4L509.1,118.4L506.4,120.4L503.7,122.4L501.0,124.4L498.4,126.4L495.7,128.4L493.0,130.4L490.2,132.4L487.4,134.4L484.6,136.4L481.8,138.4L479.1,140.4L476.4,142.4L473.7,144.4L471.2,146.4L468.7,148.4L466.3,150.4L464.1,152.4L461.9,154.4L459.8,156.4L457.8,158.4L455.8,160.4L453.8,162.4L451.9,164.4L450.0,166.4L448.1,168.4L446.2,170.4L444.3,172.4L442.5,174.4L440.6,176.4L438.8,178.4L437.0,180.4L435.2,182.4L433.4,184.4L431.7,186.4L430.0,188.4L428.3,190.4L426.6,192.4L424.9,194.4L423.3,196.4L421.7,198.4L420.1,200.4L418.5,202.4L417.0,204.4L415.4,206.4L413.9,208.4L412.5,210.4L411.0,212.4L409.6,214.4L408.2,216.4L406.9,218.4L405.5,220.4L404.2,222.4L403.0,224.4L401.7,226.4L400.5,228.4L399.3,230.4L398.2,232.4L397.1,234.4L396.0,236.4L395.0,238.4L393.9,240.4L393.0,242.4L392.0,244.4L391.1,246.4L390.2,248.4L389.4,250.3L388.5,252.3L387.7,254.3L387.0,256.3L386.2,258.3L385.5,260.3L384.8,262.3L384.1,264.3L383.4,266.3L382.8,268.3L382.2,270.3L381.6,272.3L381.0,274.3L380.4,276.3L379.8,278.3L379.3,280.3L378.7,282.3L378.2,284.3L377.7,286.3L377.2,288.3L376.7,290.3L376.2,292.3L375.7,294.3L375.2,296.3L374.7,298.3L374.2,300.3L373.7,302.3L373.2,304.3L372.7,306.3L372.2,308.3L371.7,310.3L371.2,312.3L370.7,314.3L370.2,316.3L369.6,318.3L366.8,318.3L367.1,316.3L367.4,314.3L367.8,312.3L368.1,310.3L368.4,308.3L368.8,306.3L369.1,304.3L369.4,302.3L369.8,300.3L370.1,298.3L370.5,296.3L370.8,294.3L371.2,292.3L371.6,290.3L372.0,288.3L372.4,286.3L372.8,284.3L373.2,282.3L373.6,280.3L374.0,278.3L374.4,276.3L374.9,274.3L375.3,272.3L375.8,270.3L376.3,268.3L376.8,266.3L377.3,264.3L377.8,262.3L378.4,260.3L378.9,258.3L379.5,256.3L380.1,254.3L380.7,252.3L381.3,250.3L381.9,248.4L382.6,246.4L383.3,244.4L384.0,242.4L384.7,240.4L385.4,238.4L386.2,236.4L386.9,234.4L387.7,232.4L388.6,230.4L389.4,228.4L390.2,226.4L391.1,224.4L392.0,222.4L392.9,220.4L393.9,218.4L394.8,216.4L395.8,214.4L396.7,212.4L397.7,210.4L398.8,208.4L399.8,206.4L400.9,204.4L401.9,202.4L403.0,200.4L404.1,198.4L405.2,196.4L406.4,194.4L407.5,192.4L408.7,190.4L409.9,188.4L411.0,186.4L412.3,184.4L413.5,182.4L414.7,180.4L416.0,178.4L417.3,176.4L418.5,174.4L419.8,172.4L421.1,170.4L422.5,168.4L423.8,166.4L425.2,164.4L426.5,162.4L427.9,160.4L429.3,158.4L430.7,156.4L432.2,154.4L433.6,152.4L435.1,150.4L436.6,148.4L438.1,146.4L439.6,144.4L441.2,142.4L442.8,140.4L444.4,138.4L446.0,136.4L447.7,134.4L449.4,132.4L451.1,130.4L452.8,128.4L454.7,126.4L456.5,124.4L458.5,122.4L460.4,120.4L462.5,118.4L464.6,116.4L466.8,114.4L469.0,112.4L471.1,110.4L473.3,108.5L475.4,106.5L477.4,104.5L479.3,102.5L481.2,100.5L482.9,98.5L484.4,96.5L485.9,94.5L487.2,92.5L488.4,90.5L489.5,88.5L490.4,86.5L491.3,84.5L491.9,82.5L492.4,80.5L492.6,78.5L492.5,76.5L492.2,74.5L491.5,72.5L490.5,70.5L489.1,68.5L487.4,66.5L486.6,65.5L486.2,65.1L485.8,64.7L485.6,64.5L485.4,64.2L485.0,63.8L484.6,63.4L484.1,63.0L483.7,62.5L483.7,62.5L483.3,62.1L482.9,61.7L482.5,61.3L482.0,60.8L481.7,60.5L481.6,60.4L481.1,60.0L480.7,59.6L480.2,59.1L479.8,58.7L479.5,58.5L479.3,58.3L478.8,57.9L478.3,57.4L477.9,57.0L477.4,56.6L477.2,56.5L476.9,56.2L476.4,55.8L475.8,55.3L475.3,54.9L474.8,54.5L474.8,54.5L474.2,54.1L473.7,53.6L473.1,53.2L472.6,52.8L472.2,52.5L472.0,52.4L471.4,51.9L470.8,51.5L470.3,51.1L469.7,50.7L469.5,50.5L469.2,50.2L468.6,49.8L468.1,49.4L467.5,49.0L466.9,48.6L466.9,48.5L466.4,48.1L465.8,47.7L465.2,47.3L464.7,46.9L464.2,46.5L464.1,46.4L463.7,46.0L463.3,45.6L463.0,45.2L462.8,44.7L462.8,44.5L462.8,44.3L462.9,43.9L463.1,43.5L463.4,43.0L463.8,42.6L463.9,42.5L464.3,42.2L464.9,41.8L465.5,41.3L466.2,40.9L467.0,40.5Z" fill="#0072BD" fill-opacity="0.5"/>
<path d="M535.0,40.5L515.9,40.9L499.7,41.3L486.2,41.8L475.4,42.2L469.0,42.5L466.8,42.6L459.3,43.0L452.2,43.5L445.4,43.9L439.3,44.3L437.1,44.5L434.7,44.7L431.7,45.2L429.2,45.6L427.1,46.0L425.2,46.4L424.9,46.5L423.5,46.9L421.9,47.3L420.4,47.7L419.0,48.1L417.8,48.5L417.6,48.6L416.3,49.0L415.0,49.4L413.7,49.8L412.4,50.2L411.6,50.5L411.0,50.7L409.5,51.1L407.9,51.5L406.3,51.9L404.9,52.4L404.5,52.5L403.6,52.8L402.5,53.2L401.5,53.6L400.5,54.1L399.6,54.5L399.6,54.5L398.7,54.9L397.9,55.3L397.0,55.8L396.2,56.2L395.6,56.5L395.4,56.6L394.6,57.0L393.8,57.4L393.1,57.9L392.3,58.3L392.0,58.5L391.6,58.7L390.8,59.1L390.1,59.6L389.4,60.0L388.7,60.4L388.6,60.5L388.1,60.8L387.4,61.3L386.8,61.7L386.1,62.1L385.6,62.5L385.5,62.5L384.9,63.0L384.3,63.4L383.7,63.8L383.1,64.2L382.7,64.5L382.5,64.7L382.0,65.1L381.4,65.5L380.1,66.5L377.7,68.5L375.3,70.5L373.2,72.5L371.5,74.5L370.2,76.5L369.2,78.5L368.4,80.5L367.7,82.5L367.0,84.5L366.3,86.5L365.6,88.5L365.0,90.5L364.3,92.5L363.7,94.5L363.1,96.5L362.6,98.5L362.1,100.5L361.6,102.5L361.1,104.5L360.7,106.5L360.3,108.5L359.9,110.4L359.5,112.4L359.2,114.4L358.9,116.4L358.6,118.4L358.3,120.4L358.0,122.4L357.8,124.4L357.6,126.4L357.4,128.4L357.2,130.4L357.0,132.4L356.8,134.4L356.7,136.4L356.6,138.4L356.4,140.4L356.3,142.4L356.2,144.4L356.1,146.4L356.0,148.4L356.0,150.4L355.9,152.4L355.8,154.4L355.8,156.4L355.7,158.4L355.6,160.4L355.6,162.4L355.5,164.4L355.5,166.4L355.4,168.4L355.4,170.4L355.3,172.4L355.3,174.4L355.3,176.4L355.2,178.4L355.2,180.4L355.2,182.4L355.1,184.4L355.1,186.4L355.1,188.4L355.1,190.4L355.1,192.4L355.0,194.4L355.0,196.4L355.0,198.4L355.0,200.4L355.0,202.4L355.0,204.4L355.0,206.4L355.0,208.4L355.0,210.4L355.0,212.4L355.0,214.4L355.0,216.4L355.0,218.4L355.0,220.4L355.0,222.4L355.0,224.4L355.0,226.4L355.0,228.4L355.0,230.4L355.0,232.4L355.0,234.4L355.0,236.4L355.0,238.4L355.0,240.4L355.0,242.4L355.0,244.4L355.0,246.4L355.0,248.4L355.0,250.3L355.0,252.3L355.0,254.3L355.0,256.3L355.1,258.3L355.1,260.3L355.1,262.3L355.1,264.3L355.1,266.3L355.1,268.3L355.1,270.3L355.1,272.3L355.1,274.3L355.1,276.3L355.1,278.3L355.1,280.3L355.1,282.3L355.1,284.3L355.1,286.3L355.1,288.3L355.1,290.3L355.1,292.3L355.1,294.3L355.1,296.3L355.0,298.3L355.0,300.3L355.0,302.3L355.0,304.3L355.0,306.3L355.0,308.3L355.0,310.3L355.0,312.3L355.0,314.3L355.0,316.3L355.0,318.3L355.0,318.3L355.0,316.3L355.0,314.3L355.0,312.3L355.0,310.3L355.0,308.3L355.0,306.3L355.0,304.3L355.0,302.3L355.0,300.3L355.0,298.3L355.0,296.3L355.0,294.3L355.0,292.3L355.0,290.3L355.0,288.3L355.0,286.3L355.0,284.3L355.0,282.3L355.0,280.3L355.0,278.3L355.0,276.3L355.0,274.3L355.0,272.3L355.0,270.3L355.0,268.3L355.0,266.3L355.0,264.3L355.0,262.3L355.0,260.3L355.0,258.3L355.0,256.3L355.0,254.3L355.0,252.3L355.0,250.3L355.0,248.4L355.0,246.4L355.0,244.4L355.0,242.4L355.0,240.4L355.0,238.4L355.0,236.4L355.0,234.4L355.0,232.4L355.0,230.4L355.0,228.4L355.0,226.4L355.0,224.4L355.0,222.4L355.0,220.4L355.0,218.4L355.0,216.4L355.0,214.4L355.0,212.4L355.0,210.4L355.0,208.4L355.0,206.4L355.0,204.4L355.0,202.4L355.0,200.4L355.0,198.4L355.0,196.4L355.0,194.4L355.0,192.4L355.0,190.4L355.0,188.4L355.0,186.4L355.0,184.4L355.0,182.4L355.0,180.4L355.0,178.4L355.0,176.4L355.0,174.4L355.0,172.4L355.0,170.4L355.0,168.4L355.0,166.4L355.0,164.4L355.0,162.4L355.0,160.4L355.0,158.4L355.1,156.4L355.1,154.4L355.1,152.4L355.1,150.4L355.1,148.4L355.1,146.4L355.2,144.4L355.2,142.4L355.2,140.4L355.3,138.4L355.3,136.4L355.4,134.4L355.4,132.4L355.5,130.4L355.6,128.4L355.7,126.4L355.8,124.4L355.9,122.4L356.1,120.4L356.2,118.4L356.4,116.4L356.5,114.4L356.7,112.4L356.9,110.4L357.1,108.5L357.4,106.5L357.6,104.5L357.9,102.5L358.2,100.5L358.5,98.5L358.8,96.5L359.1,94.5L359.5,92.5L359.9,90.5L360.3,88.5L360.7,86.5L361.2,84.5L361.6,82.5L362.0,80.5L362.5,78.5L362.9,76.5L363.4,74.5L363.8,72.5L364.4,70.5L365.6,68.5L367.8,66.5L369.0,65.5L369.5,65.1L370.0,64.7L370.2,64.5L370.5,64.2L371.0,63.8L371.6,63.4L372.1,63.0L372.6,62.5L372.6,62.5L373.0,62.1L373.5,61.7L374.0,61.3L374.5,60.8L374.9,60.5L375.0,60.4L375.4,60.0L375.9,59.6L376.4,59.1L376.9,58.7L377.1,58.5L377.4,58.3L377.8,57.9L378.4,57.4L378.9,57.0L379.4,56.6L379.6,56.5L380.0,56.2L380.5,55.8L381.1,55.3L381.7,54.9L382.4,54.5L382.4,54.5L383.0,54.1L383.7,53.6L384.4,53.2L385.1,52.8L385.6,52.5L385.8,52.4L386.6,51.9L387.3,51.5L388.0,51.1L388.8,50.7L389.1,50.5L389.6,50.2L390.4,49.8L391.3,49.4L392.2,49.0L393.1,48.6L393.3,48.5L394.2,48.1L395.2,47.7L396.4,47.3L397.6,46.9L398.7,46.5L398.9,46.4L400.3,46.0L401.7,45.6L403.3,45.2L405.1,44.7L406.3,44.5L407.2,44.3L409.7,43.9L412.4,43.5L415.5,43.0L419.0,42.6L420.1,42.5L423.0,42.2L427.2,41.8L431.5,41.3L435.9,40.9L440.0,40.5Z" fill="#D95319" fill-opacity="0.5"/>
<path d="M355.3,40.5L356.0,40.9L356.7,41.3L357.3,41.8L357.9,42.2L358.2,42.5L358.3,42.6L358.8,43.0L359.2,43.5L359.6,43.9L360.0,44.3L360.1,44.5L360.3,44.7L360.6,45.2L361.0,45.6L361.3,46.0L361.6,46.4L361.7,46.5L361.9,46.9L362.2,47.3L362.6,47.7L362.9,48.1L363.1,48.5L363.2,48.6L363.5,49.0L363.8,49.4L364.1,49.8L364.4,50.2L364.5,50.5L364.7,50.7L365.0,51.1L365.2,51.5L365.5,51.9L365.8,52.4L365.9,52.5L366.0,52.8L366.3,53.2L366.6,53.6L366.8,54.1L367.0,54.5L367.0,54.5L367.3,54.9L367.5,55.3L367.7,55.8L367.9,56.2L368.0,56.5L368.1,56.6L368.3,57.0L368.4,57.4L368.6,57.9L368.8,58.3L368.9,58.5L368.9,58.7L369.1,59.1L369.2,59.6L369.4,60.0L369.5,60.4L369.5,60.5L369.6,60.8L369.8,61.3L369.9,61.7L370.0,62.1L370.1,62.5L370.1,62.5L370.2,63.0L370.3,63.4L370.4,63.8L370.4,64.2L370.5,64.5L370.5,64.7L370.6,65.1L370.6,65.5L370.8,66.5L371.0,68.5L371.2,70.5L371.3,72.5L371.3,74.5L371.3,76.5L371.3,78.5L371.2,80.5L371.1,82.5L371.0,84.5L370.8,86.5L370.6,88.5L370.4,90.5L370.1,92.5L369.8,94.5L369.5,96.5L369.2,98.5L368.9,100.5L368.5,102.5L368.2,104.5L367.8,106.5L367.4,108.5L367.1,110.4L366.7,112.4L366.3,114.4L365.9,116.4L365.6,118.4L365.2,120.4L364.8,122.4L364.4,124.4L364.1,126.4L363.7,128.4L363.4,130.4L363.1,132.4L362.8,134.4L362.5,136.4L362.2,138.4L362.0,140.4L361.8,142.4L361.5,144.4L361.3,146.4L361.1,148.4L361.0,150.4L360.8,152.4L360.7,154.4L360.5,156.4L360.4,158.4L360.2,160.4L360.1,162.4L360.0,164.4L359.9,166.4L359.8,168.4L359.7,170.4L359.6,172.4L359.5,174.4L359.4,176.4L359.3,178.4L359.2,180.4L359.1,182.4L359.0,184.4L359.0,186.4L358.9,188.4L358.8,190.4L358.7,192.4L358.6,194.4L358.5,196.4L358.5,198.4L358.4,200.4L358.3,202.4L358.2,204.4L358.2,206.4L358.1,208.4L358.0,210.4L358.0,212.4L357.9,214.4L357.8,216.4L357.8,218.4L357.7,220.4L357.6,222.4L357.6,224.4L357.5,226.4L357.4,228.4L357.4,230.4L357.3,232.4L357.3,234.4L357.2,236.4L357.2,238.4L357.1,240.4L357.1,242.4L357.0,244.4L356.9,246.4L356.9,248.4L356.8,250.3L356.8,252.3L356.7,254.3L356.7,256.3L356.6,258.3L356.6,260.3L356.5,262.3L356.5,264.3L356.4,266.3L356.4,268.3L356.3,270.3L356.3,272.3L356.3,274.3L356.2,276.3L356.2,278.3L356.1,280.3L356.1,282.3L356.0,284.3L356.0,286.3L355.9,288.3L355.9,290.3L355.8,292.3L355.8,294.3L355.7,296.3L355.7,298.3L355.6,300.3L355.6,302.3L355.6,304.3L355.5,306.3L355.5,308.3L355.4,310.3L355.4,312.3L355.3,314.3L355.3,316.3L355.2,318.3L355.1,318.3L355.1,316.3L355.1,314.3L355.1,312.3L355.1,310.3L355.1,308.3L355.1,306.3L355.1,304.3L355.1,302.3L355.2,300.3L355.2,298.3L355.2,296.3L355.2,294.3L355.2,292.3L355.2,290.3L355.3,288.3L355.3,286.3L355.3,284.3L355.3,282.3L355.4,280.3L355.4,278.3L355.4,276.3L355.4,274.3L355.5,272.3L355.5,270.3L355.5,268.3L355.6,266.3L355.6,264.3L355.7,262.3L355.7,260.3L355.7,258.3L355.8,256.3L355.8,254.3L355.9,252.3L355.9,250.3L356.0,248.4L356.0,246.4L356.1,244.4L356.1,242.4L356.2,240.4L356.2,238.4L356.3,236.4L356.3,234.4L356.4,232.4L356.4,230.4L356.5,228.4L356.6,226.4L356.6,224.4L356.7,222.4L356.7,220.4L356.8,218.4L356.8,216.4L356.9,214.4L357.0,212.4L357.0,210.4L357.1,208.4L357.1,206.4L357.2,204.4L357.3,202.4L357.3,200.4L357.4,198.4L357.5,196.4L357.5,194.4L357.6,192.4L357.6,190.4L357.7,188.4L357.8,186.4L357.8,184.4L357.9,182.4L357.9,180.4L358.0,178.4L358.1,176.4L358.1,174.4L358.2,172.4L358.3,170.4L358.3,168.4L358.4,166.4L358.4,164.4L358.5,162.4L358.6,160.4L358.6,158.4L358.7,156.4L358.8,154.4L358.8,152.4L358.9,150.4L359.0,148.4L359.1,146.4L359.2,144.4L359.4,142.4L359.5,140.4L359.8,138.4L360.0,136.4L360.3,134.4L360.6,132.4L360.9,130.4L361.2,128.4L361.5,126.4L361.8,124.4L362.0,122.4L362.2,120.4L362.3,118.4L362.4,116.4L362.5,114.4L362.5,112.4L362.6,110.4L362.6,108.5L362.7,106.5L362.8,104.5L362.9,102.5L363.0,100.5L363.2,98.5L363.4,96.5L363.6,94.5L363.8,92.5L364.0,90.5L364.2,88.5L364.4,86.5L364.6,84.5L364.8,82.5L364.9,80.5L365.0,78.5L365.1,76.5L365.1,74.5L365.1,72.5L365.0,70.5L364.8,68.5L364.6,66.5L364.5,65.5L364.5,65.1L364.4,64.7L364.4,64.5L364.3,64.2L364.3,63.8L364.2,63.4L364.1,63.0L364.0,62.5L364.0,62.5L364.0,62.1L363.9,61.7L363.8,61.3L363.7,60.8L363.6,60.5L363.6,60.4L363.5,60.0L363.4,59.6L363.3,59.1L363.2,58.7L363.2,58.5L363.1,58.3L363.0,57.9L362.9,57.4L362.8,57.0L362.7,56.6L362.6,56.5L362.5,56.2L362.4,55.8L362.3,55.3L362.2,54.9L362.0,54.5L362.0,54.5L361.9,54.1L361.7,53.6L361.6,53.2L361.5,52.8L361.4,52.5L361.3,52.4L361.2,51.9L361.0,51.5L360.9,51.1L360.7,50.7L360.6,50.5L360.5,50.2L360.4,49.8L360.2,49.4L360.1,49.0L359.9,48.6L359.9,48.5L359.7,48.1L359.6,47.7L359.4,47.3L359.2,46.9L359.1,46.5L359.0,46.4L358.8,46.0L358.6,45.6L358.4,45.2L358.2,44.7L358.1,44.5L358.0,44.3L357.7,43.9L357.5,43.5L357.2,43.0L356.9,42.6L356.8,42.5L356.5,42.2L356.2,41.8L355.8,41.3L355.4,40.9L355.0,40.5Z" fill="#EDB120" fill-opacity="0.5"/>
<path d="M412.0,40.5L414.2,40.9L416.4,41.3L418.7,41.8L420.9,42.2L422.6,42.5L423.3,42.6L425.7,43.0L428.3,43.5L431.0,43.9L433.8,44.3L435.0,44.5L436.8,44.7L439.9,45.2L443.1,45.6L446.2,46.0L449.3,46.4L449.7,46.5L452.2,46.9L455.0,47.3L457.6,47.7L459.8,48.1L461.6,48.5L461.9,48.6L463.7,49.0L465.5,49.4L467.2,49.8L468.9,50.2L469.9,50.5L470.6,50.7L472.4,51.1L474.1,51.5L475.8,51.9L477.5,52.4L478.0,52.5L479.1,52.8L480.7,53.2L482.3,53.6L483.8,54.1L485.2,54.5L485.2,54.5L486.7,54.9L488.0,55.3L489.4,55.8L490.7,56.2L491.7,56.5L492.0,56.6L493.2,57.0L494.4,57.4L495.6,57.9L496.7,58.3L497.2,58.5L497.9,58.7L498.9,59.1L500.0,59.6L501.0,60.0L502.0,60.4L502.1,60.5L502.9,60.8L503.8,61.3L504.7,61.7L505.6,62.1L506.3,62.5L506.4,62.5L507.2,63.0L508.0,63.4L508.7,63.8L509.5,64.2L509.9,64.5L510.2,64.7L510.8,65.1L511.5,65.5L512.9,66.5L515.0,68.5L516.2,70.5L517.3,72.5L518.1,74.5L518.5,76.5L518.5,78.5L518.1,80.5L517.4,82.5L516.5,84.5L515.4,86.5L514.1,88.5L512.7,90.5L511.0,92.5L509.3,94.5L507.4,96.5L505.4,98.5L503.3,100.5L501.2,102.5L499.0,104.5L496.7,106.5L494.4,108.5L492.1,110.4L489.8,112.4L487.5,114.4L485.2,116.4L483.0,118.4L480.7,120.4L478.6,122.4L476.5,124.4L474.4,126.4L472.3,128.4L470.2,130.4L468.2,132.4L466.2,134.4L464.3,136.4L462.3,138.4L460.4,140.4L458.5,142.4L456.6,144.4L454.7,146.4L452.9,148.4L451.0,150.4L449.2,152.4L447.4,154.4L445.7,156.4L443.9,158.4L442.2,160.4L440.5,162.4L438.8,164.4L437.2,166.4L435.5,168.4L433.9,170.4L432.3,172.4L430.8,174.4L429.2,176.4L427.7,178.4L426.2,180.4L424.7,182.4L423.2,184.4L421.8,186.4L420.3,188.4L418.9,190.4L417.5,192.4L416.2,194.4L414.8,196.4L413.5,198.4L412.2,200.4L410.9,202.4L409.6,204.4L408.4,206.4L407.1,208.4L405.9,210.4L404.7,212.4L403.6,214.4L402.4,216.4L401.3,218.4L400.2,220.4L399.1,222.4L398.0,224.4L397.0,226.4L396.0,228.4L395.0,230.4L394.0,232.4L393.0,234.4L392.1,236.4L391.1,238.4L390.2,240.4L389.3,242.4L388.5,244.4L387.6,246.4L386.8,248.4L386.0,250.3L385.2,252.3L384.4,254.3L383.7,256.3L382.9,258.3L382.2,260.3L381.5,262.3L380.8,264.3L380.2,266.3L379.5,268.3L378.9,270.3L378.3,272.3L377.7,274.3L377.2,276.3L376.6,278.3L376.1,280.3L375.6,282.3L375.1,284.3L374.6,286.3L374.2,288.3L373.8,290.3L373.3,292.3L373.0,294.3L372.6,296.3L372.2,298.3L371.9,300.3L371.6,302.3L371.3,304.3L371.0,306.3L370.7,308.3L370.5,310.3L370.2,312.3L370.0,314.3L369.8,316.3L369.7,318.3L365.3,318.3L365.5,316.3L365.8,314.3L366.1,312.3L366.4,310.3L366.7,308.3L367.0,306.3L367.3,304.3L367.6,302.3L367.9,300.3L368.3,298.3L368.6,296.3L369.0,294.3L369.3,292.3L369.7,290.3L370.1,288.3L370.4,286.3L370.8,284.3L371.2,282.3L371.6,280.3L372.0,278.3L372.5,276.3L372.9,274.3L373.3,272.3L373.8,270.3L374.2,268.3L374.7,266.3L375.2,264.3L375.7,262.3L376.2,260.3L376.7,258.3L377.2,256.3L377.7,254.3L378.2,252.3L378.8,250.3L379.3,248.4L379.9,246.4L380.5,244.4L381.1,242.4L381.7,240.4L382.3,238.4L382.9,236.4L383.5,234.4L384.2,232.4L384.8,230.4L385.5,228.4L386.2,226.4L386.9,224.4L387.5,222.4L388.3,220.4L389.0,218.4L389.7,216.4L390.5,214.4L391.2,212.4L392.0,210.4L392.8,208.4L393.6,206.4L394.4,204.4L395.2,202.4L396.0,200.4L396.9,198.4L397.7,196.4L398.6,194.4L399.5,192.4L400.4,190.4L401.3,188.4L402.2,186.4L403.2,184.4L404.1,182.4L405.1,180.4L406.1,178.4L407.1,176.4L408.1,174.4L409.1,172.4L410.1,170.4L411.2,168.4L412.2,166.4L413.3,164.4L414.4,162.4L415.5,160.4L416.7,158.4L417.8,156.4L419.0,154.4L420.2,152.4L421.4,150.4L422.6,148.4L423.9,146.4L425.1,144.4L426.4,142.4L427.7,140.4L429.1,138.4L430.4,136.4L431.8,134.4L433.2,132.4L434.6,130.4L436.1,128.4L437.6,126.4L439.0,124.4L440.5,122.4L442.1,120.4L443.6,118.4L445.2,116.4L446.7,114.4L448.2,112.4L449.8,110.4L451.2,108.5L452.6,106.5L454.0,104.5L455.3,102.5L456.5,100.5L457.5,98.5L458.5,96.5L459.4,94.5L460.2,92.5L460.8,90.5L461.4,88.5L461.8,86.5L462.0,84.5L462.1,82.5L462.0,80.5L461.8,78.5L461.3,76.5L460.5,74.5L459.3,72.5L457.7,70.5L455.8,68.5L453.8,66.5L452.7,65.5L452.3,65.1L451.8,64.7L451.6,64.5L451.3,64.2L450.8,63.8L450.2,63.4L449.7,63.0L449.2,62.5L449.1,62.5L448.6,62.1L448.0,61.7L447.5,61.3L446.9,60.8L446.4,60.5L446.3,60.4L445.6,60.0L445.0,59.6L444.4,59.1L443.7,58.7L443.4,58.5L443.1,58.3L442.4,57.9L441.7,57.4L441.0,57.0L440.3,56.6L440.1,56.5L439.5,56.2L438.8,55.8L438.1,55.3L437.3,54.9L436.6,54.5L436.5,54.5L435.8,54.1L434.9,53.6L434.1,53.2L433.1,52.8L432.5,52.5L432.2,52.4L431.1,51.9L430.0,51.5L428.9,51.1L427.8,50.7L427.3,50.5L426.6,50.2L425.5,49.8L424.3,49.4L423.1,49.0L422.0,48.6L421.8,48.5L420.8,48.1L419.6,47.7L418.3,47.3L417.1,46.9L416.0,46.5L415.8,46.4L414.5,46.0L413.2,45.6L411.9,45.2L410.5,44.7L409.7,44.5L409.1,44.3L407.6,43.9L406.1,43.5L404.3,43.0L402.4,42.6L401.9,42.5L400.4,42.2L398.1,41.8L395.5,41.3L392.7,40.9L389.5,40.5Z" fill="#7E2F8E" fill-opacity="0.5"/>
<path d="M355.0,40.5L355.5,40.9L355.9,41.3L356.3,41.8L356.6,42.2L356.8,42.5L356.9,42.6L357.1,43.0L357.3,43.5L357.5,43.9L357.7,44.3L357.7,44.5L357.8,44.7L357.9,45.2L358.0,45.6L358.1,46.0L358.2,46.4L358.2,46.5L358.3,46.9L358.3,47.3L358.4,47.7L358.4,48.1L358.5,48.5L358.5,48.6L358.5,49.0L358.6,49.4L358.6,49.8L358.6,50.2L358.7,50.5L358.7,50.7L358.7,51.1L358.8,51.5L358.8,51.9L358.9,52.4L358.9,52.5L359.0,52.8L359.0,53.2L359.1,53.6L359.2,54.1L359.2,54.5L359.2,54.5L359.3,54.9L359.4,55.3L359.4,55.8L359.5,56.2L359.6,56.5L359.6,56.6L359.7,57.0L359.8,57.4L359.8,57.9L359.9,58.3L360.0,58.5L360.0,58.7L360.1,59.1L360.2,59.6L360.2,60.0L360.3,60.4L360.3,60.5L360.4,60.8L360.5,61.3L360.6,61.7L360.7,62.1L360.7,62.5L360.7,62.5L360.8,63.0L360.9,63.4L361.0,63.8L361.1,64.2L361.1,64.5L361.1,64.7L361.2,65.1L361.3,65.5L361.5,66.5L361.8,68.5L362.1,70.5L362.3,72.5L362.6,74.5L362.8,76.5L362.9,78.5L363.1,80.5L363.2,82.5L363.2,84.5L363.3,86.5L363.3,88.5L363.4,90.5L363.4,92.5L363.4,94.5L363.3,96.5L363.3,98.5L363.2,100.5L363.2,102.5L363.1,104.5L363.1,106.5L363.0,108.5L362.9,110.4L362.8,112.4L362.7,114.4L362.7,116.4L362.6,118.4L362.5,120.4L362.4,122.4L362.3,124.4L362.2,126.4L362.1,128.4L362.0,130.4L361.9,132.4L361.8,134.4L361.7,136.4L361.6,138.4L361.5,140.4L361.4,142.4L361.3,144.4L361.1,146.4L361.0,148.4L360.9,150.4L360.8,152.4L360.7,154.4L360.6,156.4L360.5,158.4L360.4,160.4L360.3,162.4L360.2,164.4L360.1,166.4L360.0,168.4L359.8,170.4L359.7,172.4L359.6,174.4L359.6,176.4L359.5,178.4L359.4,180.4L359.3,182.4L359.2,184.4L359.1,186.4L359.0,188.4L358.9,190.4L358.8,192.4L358.7,194.4L358.7,196.4L358.6,198.4L358.5,200.4L358.4,202.4L358.4,204.4L358.3,206.4L358.2,208.4L358.1,210.4L358.1,212.4L358.0,214.4L357.9,216.4L357.9,218.4L357.8,220.4L357.7,222.4L357.7,224.4L357.6,226.4L357.5,228.4L357.5,230.4L357.4,232.4L357.4,234.4L357.3,236.4L357.2,238.4L357.2,240.4L357.1,242.4L357.1,244.4L357.0,246.4L356.9,248.4L356.9,250.3L356.8,252.3L356.8,254.3L356.7,256.3L356.7,258.3L356.6,260.3L356.5,262.3L356.5,264.3L356.4,266.3L356.4,268.3L356.3,270.3L356.3,272.3L356.2,274.3L356.1,276.3L356.1,278.3L356.0,280.3L356.0,282.3L355.9,284.3L355.8,286.3L355.8,288.3L355.7,290.3L355.6,292.3L355.6,294.3L355.5,296.3L355.5,298.3L355.4,300.3L355.3,302.3L355.2,304.3L355.2,306.3L355.1,308.3L355.0,310.3L355.0,312.3L355.0,314.3L355.0,316.3L355.0,318.3L355.0,318.3L355.0,316.3L355.0,314.3L355.0,312.3L355.0,310.3L355.1,308.3L355.1,306.3L355.1,304.3L355.1,302.3L355.2,300.3L355.2,298.3L355.2,296.3L355.2,294.3L355.2,292.3L355.3,290.3L355.3,288.3L355.3,286.3L355.4,284.3L355.4,282.3L355.4,280.3L355.4,278.3L355.5,276.3L355.5,274.3L355.5,272.3L355.6,270.3L355.6,268.3L355.6,266.3L355.7,264.3L355.7,262.3L355.7,260.3L355.8,258.3L355.8,256.3L355.9,254.3L355.9,252.3L355.9,250.3L356.0,248.4L356.0,246.4L356.1,244.4L356.1,242.4L356.2,240.4L356.2,238.4L356.3,236.4L356.3,234.4L356.4,232.4L356.4,230.4L356.5,228.4L356.5,226.4L356.6,224.4L356.6,222.4L356.7,220.4L356.8,218.4L356.8,216.4L356.9,214.4L357.0,212.4L357.0,210.4L357.1,208.4L357.2,206.4L357.2,204.4L357.3,202.4L357.4,200.4L357.4,198.4L357.5,196.4L357.6,194.4L357.7,192.4L357.8,190.4L357.8,188.4L357.9,186.4L358.0,184.4L358.1,182.4L358.2,180.4L358.3,178.4L358.4,176.4L358.5,174.4L358.6,172.4L358.7,170.4L358.7,168.4L358.8,166.4L358.9,164.4L359.1,162.4L359.2,160.4L359.3,158.4L359.4,156.4L359.5,154.4L359.6,152.4L359.7,150.4L359.8,148.4L359.9,146.4L360.0,144.4L360.1,142.4L360.2,140.4L360.3,138.4L360.4,136.4L360.5,134.4L360.6,132.4L360.7,130.4L360.8,128.4L360.9,126.4L361.0,124.4L361.1,122.4L361.2,120.4L361.3,118.4L361.4,116.4L361.5,114.4L361.6,112.4L361.7,110.4L361.7,108.5L361.8,106.5L361.9,104.5L362.0,102.5L362.0,100.5L362.1,98.5L362.2,96.5L362.2,94.5L362.2,92.5L362.2,90.5L362.2,88.5L362.2,86.5L362.1,84.5L362.0,82.5L361.9,80.5L361.8,78.5L361.6,76.5L361.4,74.5L361.1,72.5L360.9,70.5L360.5,68.5L360.2,66.5L360.0,65.5L359.9,65.1L359.9,64.7L359.8,64.5L359.8,64.2L359.7,63.8L359.6,63.4L359.5,63.0L359.5,62.5L359.5,62.5L359.4,62.1L359.3,61.7L359.2,61.3L359.2,60.8L359.1,60.5L359.1,60.4L359.0,60.0L358.9,59.6L358.8,59.1L358.8,58.7L358.7,58.5L358.7,58.3L358.6,57.9L358.6,57.4L358.5,57.0L358.4,56.6L358.4,56.5L358.3,56.2L358.3,55.8L358.2,55.3L358.1,54.9L358.1,54.5L358.1,54.5L358.0,54.1L358.0,53.6L357.9,53.2L357.8,52.8L357.8,52.5L357.8,52.4L357.7,51.9L357.6,51.5L357.6,51.1L357.5,50.7L357.5,50.5L357.5,50.2L357.4,49.8L357.3,49.4L357.3,49.0L357.2,48.6L357.2,48.5L357.1,48.1L357.1,47.7L357.0,47.3L356.9,46.9L356.9,46.5L356.8,46.4L356.8,46.0L356.7,45.6L356.6,45.2L356.5,44.7L356.4,44.5L356.4,44.3L356.2,43.9L356.1,43.5L356.0,43.0L355.9,42.6L355.8,42.5L355.7,42.2L355.5,41.8L355.4,41.3L355.2,40.9L355.0,40.5Z" fill="#77AC30" fill-opacity="0.5"/>
<path d="M355.0,40.5L355.3,40.9L355.5,41.3L355.7,41.8L355.9,42.2L356.0,42.5L356.1,42.6L356.2,43.0L356.4,43.5L356.5,43.9L356.6,44.3L356.6,44.5L356.7,44.7L356.8,45.2L356.8,45.6L356.9,46.0L356.9,46.4L356.9,46.5L357.0,46.9L357.0,47.3L357.0,47.7L357.1,48.1L357.1,48.5L357.1,48.6L357.1,49.0L357.1,49.4L357.1,49.8L357.2,50.2L357.2,50.5L357.2,50.7L357.2,51.1L357.2,51.5L357.3,51.9L357.3,52.4L357.3,52.5L357.3,52.8L357.4,53.2L357.4,53.6L357.4,54.1L357.5,54.5L357.5,54.5L357.5,54.9L357.5,55.3L357.6,55.8L357.6,56.2L357.6,56.5L357.7,56.6L357.7,57.0L357.7,57.4L357.8,57.9L357.8,58.3L357.8,58.5L357.8,58.7L357.9,59.1L357.9,59.6L358.0,60.0L358.0,60.4L358.0,60.5L358.0,60.8L358.1,61.3L358.1,61.7L358.2,62.1L358.2,62.5L358.2,62.5L358.2,63.0L358.3,63.4L358.3,63.8L358.4,64.2L358.4,64.5L358.4,64.7L358.4,65.1L358.5,65.5L358.6,66.5L358.7,68.5L358.9,70.5L359.0,72.5L359.1,74.5L359.2,76.5L359.2,78.5L359.3,80.5L359.3,82.5L359.3,84.5L359.3,86.5L359.3,88.5L359.2,90.5L359.2,92.5L359.1,94.5L359.0,96.5L358.9,98.5L358.9,100.5L358.8,102.5L358.7,104.5L358.6,106.5L358.5,108.5L358.4,110.4L358.3,112.4L358.3,114.4L358.2,116.4L358.1,118.4L358.0,120.4L358.0,122.4L357.9,124.4L357.8,126.4L357.8,128.4L357.7,130.4L357.6,132.4L357.6,134.4L357.5,136.4L357.4,138.4L357.4,140.4L357.3,142.4L357.3,144.4L357.2,146.4L357.2,148.4L357.1,150.4L357.1,152.4L357.0,154.4L357.0,156.4L356.9,158.4L356.9,160.4L356.8,162.4L356.8,164.4L356.7,166.4L356.7,168.4L356.6,170.4L356.6,172.4L356.5,174.4L356.5,176.4L356.5,178.4L356.4,180.4L356.4,182.4L356.4,184.4L356.3,186.4L356.3,188.4L356.2,190.4L356.2,192.4L356.2,194.4L356.1,196.4L356.1,198.4L356.1,200.4L356.1,202.4L356.0,204.4L356.0,206.4L356.0,208.4L355.9,210.4L355.9,212.4L355.9,214.4L355.9,216.4L355.8,218.4L355.8,220.4L355.8,222.4L355.7,224.4L355.7,226.4L355.7,228.4L355.7,230.4L355.7,232.4L355.6,234.4L355.6,236.4L355.6,238.4L355.6,240.4L355.5,242.4L355.5,244.4L355.5,246.4L355.5,248.4L355.5,250.3L355.4,252.3L355.4,254.3L355.4,256.3L355.4,258.3L355.4,260.3L355.4,262.3L355.3,264.3L355.3,266.3L355.3,268.3L355.3,270.3L355.3,272.3L355.3,274.3L355.2,276.3L355.2,278.3L355.2,280.3L355.2,282.3L355.2,284.3L355.2,286.3L355.2,288.3L355.1,290.3L355.1,292.3L355.1,294.3L355.1,296.3L355.1,298.3L355.1,300.3L355.1,302.3L355.0,304.3L355.0,306.3L355.0,308.3L355.0,310.3L355.0,312.3L355.0,314.3L355.0,316.3L355.0,318.3L355.0,318.3L355.0,316.3L355.0,314.3L355.0,312.3L355.0,310.3L355.0,308.3L355.0,306.3L355.0,304.3L355.0,302.3L355.1,300.3L355.1,298.3L355.1,296.3L355.1,294.3L355.1,292.3L355.1,290.3L355.1,288.3L355.1,286.3L355.1,284.3L355.1,282.3L355.2,280.3L355.2,278.3L355.2,276.3L355.2,274.3L355.2,272.3L355.2,270.3L355.2,268.3L355.2,266.3L355.2,264.3L355.2,262.3L355.3,260.3L355.3,258.3L355.3,256.3L355.3,254.3L355.3,252.3L355.3,250.3L355.3,248.4L355.3,246.4L355.3,244.4L355.4,242.4L355.4,240.4L355.4,238.4L355.4,236.4L355.4,234.4L355.4,232.4L355.4,230.4L355.4,228.4L355.5,226.4L355.5,224.4L355.5,222.4L355.5,220.4L355.5,218.4L355.5,216.4L355.6,214.4L355.6,212.4L355.6,210.4L355.6,208.4L355.6,206.4L355.6,204.4L355.7,202.4L355.7,200.4L355.7,198.4L355.7,196.4L355.8,194.4L355.8,192.4L355.8,190.4L355.8,188.4L355.8,186.4L355.9,184.4L355.9,182.4L355.9,180.4L356.0,178.4L356.0,176.4L356.0,174.4L356.1,172.4L356.1,170.4L356.1,168.4L356.2,166.4L356.2,164.4L356.2,162.4L356.3,160.4L356.3,158.4L356.3,156.4L356.4,154.4L356.4,152.4L356.5,150.4L356.5,148.4L356.6,146.4L356.6,144.4L356.7,142.4L356.7,140.4L356.8,138.4L356.8,136.4L356.9,134.4L356.9,132.4L357.0,130.4L357.1,128.4L357.1,126.4L357.2,124.4L357.3,122.4L357.3,120.4L357.4,118.4L357.5,116.4L357.6,114.4L357.7,112.4L357.7,110.4L357.8,108.5L357.9,106.5L358.0,104.5L358.1,102.5L358.2,100.5L358.3,98.5L358.4,96.5L358.4,94.5L358.5,92.5L358.6,90.5L358.6,88.5L358.7,86.5L358.7,84.5L358.7,82.5L358.7,80.5L358.6,78.5L358.6,76.5L358.5,74.5L358.3,72.5L358.2,70.5L358.0,68.5L357.9,66.5L357.8,65.5L357.7,65.1L357.7,64.7L357.7,64.5L357.7,64.2L357.6,63.8L357.6,63.4L357.5,63.0L357.5,62.5L357.5,62.5L357.5,62.1L357.4,61.7L357.4,61.3L357.3,60.8L357.3,60.5L357.3,60.4L357.3,60.0L357.2,59.6L357.2,59.1L357.2,58.7L357.1,58.5L357.1,58.3L357.1,57.9L357.0,57.4L357.0,57.0L357.0,56.6L357.0,56.5L357.0,56.2L356.9,55.8L356.9,55.3L356.9,54.9L356.8,54.5L356.8,54.5L356.8,54.1L356.8,53.6L356.7,53.2L356.7,52.8L356.7,52.5L356.7,52.4L356.7,51.9L356.6,51.5L356.6,51.1L356.6,50.7L356.6,50.5L356.6,50.2L356.5,49.8L356.5,49.4L356.5,49.0L356.5,48.6L356.5,48.5L356.4,48.1L356.4,47.7L356.4,47.3L356.3,46.9L356.3,46.5L356.3,46.4L356.3,46.0L356.2,45.6L356.2,45.2L356.1,44.7L356.1,44.5L356.0,44.3L356.0,43.9L355.9,43.5L355.8,43.0L355.7,42.6L355.6,42.5L355.6,42.2L355.4,41.8L355.3,41.3L355.2,40.9L355.0,40.5Z" fill="#4DBEEE" fill-opacity="0.5"/>
</g>
<line x1="355.00" y1="88.40" x2="632.50" y2="88.40" stroke="#ff1414" stroke-opacity="0.74" stroke-width="0.95" stroke-dasharray="2.00 4.18" stroke-dashoffset="0.95"/>
<line x1="355.00" y1="136.50" x2="632.50" y2="136.50" stroke="#ff1414" stroke-opacity="0.74" stroke-width="0.95" stroke-dasharray="2.00 4.18" stroke-dashoffset="0.95"/>
<line x1="355.00" y1="188.50" x2="632.50" y2="188.50" stroke="#ff1414" stroke-opacity="0.74" stroke-width="0.95" stroke-dasharray="2.00 4.18" stroke-dashoffset="0.95"/>
<line x1="355.00" y1="240.60" x2="632.50" y2="240.60" stroke="#ff1414" stroke-opacity="0.74" stroke-width="0.95" stroke-dasharray="2.00 4.18" stroke-dashoffset="0.95"/>
<line x1="355.00" y1="292.50" x2="632.50" y2="292.50" stroke="#ff1414" stroke-opacity="0.74" stroke-width="0.95" stroke-dasharray="2.00 4.18" stroke-dashoffset="0.95"/>
<line x1="318.00" y1="359.30" x2="318.00" y2="637.80" stroke="#a8a8a8" stroke-width="1.5"/>
<line x1="40.00" y1="359.30" x2="40.00" y2="637.80" stroke="#888" stroke-width="1.2"/>
<line x1="39.50" y1="359.70" x2="318.50" y2="359.70" stroke="#909090" stroke-width="1.0"/>
<line x1="39.50" y1="637.40" x2="318.50" y2="637.40" stroke="#444" stroke-width="1.0"/>
<line x1="95.50" y1="637.40" x2="95.50" y2="632.90" stroke="#222" stroke-width="1"/>
<line x1="151.50" y1="637.40" x2="151.50" y2="632.90" stroke="#222" stroke-width="1"/>
<line x1="206.50" y1="637.40" x2="206.50" y2="632.90" stroke="#222" stroke-width="1"/>
<line x1="262.50" y1="637.40" x2="262.50" y2="632.90" stroke="#222" stroke-width="1"/>
<line x1="40.00" y1="405.50" x2="44.80" y2="405.50" stroke="#b8b8b8" stroke-width="1"/>
<line x1="40.00" y1="451.50" x2="44.80" y2="451.50" stroke="#222" stroke-width="1"/>
<line x1="40.00" y1="498.50" x2="44.80" y2="498.50" stroke="#222" stroke-width="1"/>
<line x1="40.00" y1="544.50" x2="44.80" y2="544.50" stroke="#b8b8b8" stroke-width="1"/>
<line x1="40.00" y1="591.50" x2="44.80" y2="591.50" stroke="#222" stroke-width="1"/>
<g clip-path="url(#cqc)">
<path d="M212.5,359.7L212.8,360.1L213.2,360.5L213.5,361.0L213.9,361.4L214.2,361.7L214.4,361.8L214.8,362.2L215.4,362.7L215.9,363.1L216.5,363.5L216.8,363.7L217.2,363.9L218.0,364.4L218.8,364.8L219.6,365.2L220.5,365.6L220.7,365.7L221.5,366.1L222.4,366.5L223.3,366.9L224.1,367.3L224.8,367.7L224.9,367.8L225.8,368.2L226.6,368.6L227.3,369.0L228.1,369.4L228.5,369.7L228.8,369.9L229.5,370.3L230.2,370.7L230.9,371.1L231.6,371.6L231.7,371.7L232.2,372.0L232.8,372.4L233.4,372.8L234.0,373.3L234.6,373.7L234.6,373.7L235.2,374.1L235.8,374.5L236.3,375.0L236.9,375.4L237.3,375.7L237.4,375.8L238.0,376.2L238.5,376.6L239.0,377.1L239.5,377.5L239.7,377.7L240.0,377.9L240.5,378.3L241.0,378.8L241.4,379.2L241.9,379.6L241.9,379.7L242.3,380.0L242.7,380.5L243.1,380.9L243.5,381.3L243.8,381.7L243.8,381.7L244.2,382.2L244.5,382.6L244.8,383.0L245.1,383.4L245.2,383.7L245.3,383.9L245.6,384.3L245.8,384.7L246.2,385.7L246.7,387.7L246.8,389.7L246.5,391.7L245.7,393.7L244.6,395.7L243.2,397.7L241.4,399.7L239.4,401.7L237.2,403.7L234.8,405.7L232.3,407.6L229.6,409.6L226.8,411.6L223.9,413.6L220.9,415.6L217.9,417.6L214.9,419.6L211.8,421.6L208.8,423.6L205.8,425.6L202.8,427.6L200.0,429.6L197.3,431.6L194.7,433.6L192.1,435.6L189.5,437.6L186.9,439.6L184.2,441.6L181.5,443.6L178.7,445.6L175.9,447.6L173.1,449.6L170.3,451.6L167.5,453.6L164.8,455.6L162.2,457.6L159.7,459.6L157.2,461.6L154.8,463.6L152.4,465.6L150.1,467.6L147.9,469.6L145.7,471.6L143.6,473.6L141.5,475.6L139.5,477.6L137.4,479.6L135.5,481.6L133.5,483.6L131.6,485.6L129.7,487.6L127.9,489.6L126.0,491.6L124.2,493.6L122.4,495.6L120.7,497.6L118.9,499.5L117.2,501.5L115.5,503.5L113.8,505.5L112.1,507.5L110.5,509.5L108.9,511.5L107.3,513.5L105.7,515.5L104.2,517.5L102.7,519.5L101.2,521.5L99.7,523.5L98.3,525.5L96.9,527.5L95.5,529.5L94.1,531.5L92.8,533.5L91.5,535.5L90.2,537.5L89.0,539.5L87.7,541.5L86.5,543.5L85.4,545.5L84.2,547.5L83.1,549.5L82.0,551.5L81.0,553.5L80.0,555.5L79.0,557.5L78.0,559.5L77.1,561.5L76.2,563.5L75.3,565.5L74.5,567.5L73.6,569.5L72.8,571.5L72.1,573.5L71.3,575.5L70.6,577.5L69.9,579.5L69.2,581.5L68.6,583.5L67.9,585.5L67.3,587.5L66.7,589.5L66.1,591.4L65.5,593.4L65.0,595.4L64.4,597.4L63.9,599.4L63.4,601.4L62.9,603.4L62.4,605.4L61.9,607.4L61.4,609.4L60.9,611.4L60.5,613.4L60.0,615.4L59.5,617.4L59.1,619.4L58.6,621.4L58.2,623.4L57.7,625.4L57.3,627.4L56.8,629.4L56.4,631.4L55.9,633.4L55.5,635.4L55.0,637.4L52.3,637.4L52.5,635.4L52.7,633.4L52.9,631.4L53.2,629.4L53.4,627.4L53.7,625.4L54.0,623.4L54.3,621.4L54.6,619.4L54.9,617.4L55.2,615.4L55.6,613.4L55.9,611.4L56.3,609.4L56.7,607.4L57.1,605.4L57.5,603.4L57.9,601.4L58.3,599.4L58.8,597.4L59.2,595.4L59.7,593.4L60.2,591.4L60.7,589.5L61.2,587.5L61.7,585.5L62.3,583.5L62.8,581.5L63.4,579.5L63.9,577.5L64.5,575.5L65.1,573.5L65.8,571.5L66.4,569.5L67.0,567.5L67.7,565.5L68.4,563.5L69.1,561.5L69.8,559.5L70.5,557.5L71.2,555.5L72.0,553.5L72.7,551.5L73.5,549.5L74.3,547.5L75.1,545.5L75.9,543.5L76.7,541.5L77.6,539.5L78.4,537.5L79.3,535.5L80.2,533.5L81.1,531.5L82.0,529.5L82.9,527.5L83.9,525.5L84.8,523.5L85.8,521.5L86.8,519.5L87.8,517.5L88.8,515.5L89.8,513.5L90.9,511.5L92.0,509.5L93.0,507.5L94.1,505.5L95.2,503.5L96.4,501.5L97.5,499.5L98.7,497.6L99.8,495.6L101.0,493.6L102.2,491.6L103.4,489.6L104.7,487.6L105.9,485.6L107.2,483.6L108.4,481.6L109.7,479.6L111.1,477.6L112.4,475.6L113.8,473.6L115.2,471.6L116.6,469.6L118.1,467.6L119.5,465.6L121.1,463.6L122.6,461.6L124.2,459.6L125.8,457.6L127.4,455.6L129.1,453.6L130.9,451.6L132.6,449.6L134.5,447.6L136.4,445.6L138.4,443.6L140.4,441.6L142.5,439.6L144.7,437.6L147.0,435.6L149.2,433.6L151.3,431.6L153.3,429.6L155.2,427.6L156.9,425.6L158.6,423.6L160.2,421.6L161.8,419.6L163.4,417.6L165.0,415.6L166.5,413.6L167.9,411.6L169.2,409.6L170.4,407.6L171.5,405.7L172.5,403.7L173.3,401.7L173.9,399.7L174.4,397.7L174.6,395.7L174.7,393.7L174.4,391.7L174.0,389.7L173.2,387.7L172.2,385.7L171.6,384.7L171.4,384.3L171.1,383.9L171.0,383.7L170.8,383.4L170.5,383.0L170.2,382.6L169.9,382.2L169.6,381.7L169.6,381.7L169.3,381.3L169.0,380.9L168.6,380.5L168.3,380.0L167.9,379.7L167.9,379.6L167.5,379.2L167.1,378.8L166.7,378.3L166.3,377.9L166.1,377.7L165.9,377.5L165.4,377.1L165.0,376.6L164.5,376.2L164.0,375.8L163.9,375.7L163.6,375.4L163.1,375.0L162.5,374.5L162.0,374.1L161.5,373.7L161.5,373.7L161.0,373.3L160.4,372.8L159.9,372.4L159.3,372.0L159.0,371.7L158.8,371.6L158.3,371.1L157.7,370.7L157.2,370.3L156.6,369.9L156.4,369.7L156.0,369.4L155.5,369.0L154.9,368.6L154.3,368.2L153.7,367.8L153.6,367.7L153.1,367.3L152.5,366.9L151.8,366.5L151.2,366.1L150.6,365.7L150.6,365.6L149.9,365.2L149.3,364.8L148.6,364.4L148.0,363.9L147.7,363.7L147.5,363.5L146.9,363.1L146.4,362.7L146.0,362.2L145.5,361.8L145.4,361.7L145.2,361.4L144.9,361.0L144.7,360.5L144.6,360.1L144.5,359.7Z" fill="#0072BD" fill-opacity="0.5"/>
<path d="M161.0,359.7L159.5,360.1L157.5,360.5L155.2,361.0L152.5,361.4L150.4,361.7L149.6,361.8L146.4,362.2L143.2,362.7L139.8,363.1L136.5,363.5L135.0,363.7L133.2,363.9L130.0,364.4L126.9,364.8L124.1,365.2L121.6,365.6L121.2,365.7L119.3,366.1L117.3,366.5L115.6,366.9L114.0,367.3L112.7,367.7L112.5,367.8L111.1,368.2L109.8,368.6L108.5,369.0L107.3,369.4L106.6,369.7L106.0,369.9L104.8,370.3L103.6,370.7L102.4,371.1L101.2,371.6L100.9,371.7L100.1,372.0L98.9,372.4L97.8,372.8L96.7,373.3L95.6,373.7L95.6,373.7L94.5,374.1L93.4,374.5L92.4,375.0L91.4,375.4L90.7,375.7L90.4,375.8L89.5,376.2L88.6,376.6L87.7,377.1L86.8,377.5L86.5,377.7L86.0,377.9L85.2,378.3L84.4,378.8L83.6,379.2L82.9,379.6L82.8,379.7L82.2,380.0L81.5,380.5L80.8,380.9L80.1,381.3L79.5,381.7L79.4,381.7L78.8,382.2L78.2,382.6L77.5,383.0L76.9,383.4L76.5,383.7L76.3,383.9L75.7,384.3L75.1,384.7L73.8,385.7L71.2,387.7L68.8,389.7L66.5,391.7L64.3,393.7L62.3,395.7L60.5,397.7L58.8,399.7L57.3,401.7L56.2,403.7L55.3,405.7L54.6,407.6L53.9,409.6L53.3,411.6L52.7,413.6L52.0,415.6L51.4,417.6L50.8,419.6L50.2,421.6L49.7,423.6L49.1,425.6L48.6,427.6L48.0,429.6L47.5,431.6L47.0,433.6L46.6,435.6L46.1,437.6L45.7,439.6L45.3,441.6L44.9,443.6L44.6,445.6L44.3,447.6L44.0,449.6L43.7,451.6L43.4,453.6L43.2,455.6L42.9,457.6L42.7,459.6L42.5,461.6L42.4,463.6L42.2,465.6L42.0,467.6L41.9,469.6L41.8,471.6L41.6,473.6L41.5,475.6L41.4,477.6L41.3,479.6L41.2,481.6L41.1,483.6L41.0,485.6L40.9,487.6L40.9,489.6L40.8,491.6L40.7,493.6L40.7,495.6L40.6,497.6L40.5,499.5L40.5,501.5L40.4,503.5L40.4,505.5L40.3,507.5L40.3,509.5L40.2,511.5L40.2,513.5L40.2,515.5L40.1,517.5L40.1,519.5L40.1,521.5L40.1,523.5L40.0,525.5L40.0,527.5L40.0,529.5L40.0,531.5L40.0,533.5L40.0,535.5L40.0,537.5L40.0,539.5L40.0,541.5L40.0,543.5L40.0,545.5L40.0,547.5L40.0,549.5L40.0,551.5L40.0,553.5L40.0,555.5L40.0,557.5L40.0,559.5L40.0,561.5L40.0,563.5L40.0,565.5L40.0,567.5L40.0,569.5L40.0,571.5L40.0,573.5L40.0,575.5L40.0,577.5L40.1,579.5L40.1,581.5L40.1,583.5L40.1,585.5L40.1,587.5L40.1,589.5L40.1,591.4L40.1,593.4L40.1,595.4L40.1,597.4L40.1,599.4L40.1,601.4L40.1,603.4L40.1,605.4L40.1,607.4L40.1,609.4L40.1,611.4L40.1,613.4L40.1,615.4L40.1,617.4L40.0,619.4L40.0,621.4L40.0,623.4L40.0,625.4L40.0,627.4L40.0,629.4L40.0,631.4L40.0,633.4L40.0,635.4L40.0,637.4L40.0,637.4L40.0,635.4L40.0,633.4L40.0,631.4L40.0,629.4L40.0,627.4L40.0,625.4L40.0,623.4L40.0,621.4L40.0,619.4L40.1,617.4L40.1,615.4L40.1,613.4L40.1,611.4L40.1,609.4L40.1,607.4L40.2,605.4L40.2,603.4L40.2,601.4L40.2,599.4L40.2,597.4L40.2,595.4L40.2,593.4L40.2,591.4L40.2,589.5L40.2,587.5L40.2,585.5L40.1,583.5L40.1,581.5L40.1,579.5L40.1,577.5L40.1,575.5L40.1,573.5L40.1,571.5L40.1,569.5L40.0,567.5L40.0,565.5L40.0,563.5L40.0,561.5L40.0,559.5L40.0,557.5L40.0,555.5L40.0,553.5L40.0,551.5L40.0,549.5L40.0,547.5L40.0,545.5L40.0,543.5L40.0,541.5L40.0,539.5L40.0,537.5L40.0,535.5L40.0,533.5L40.0,531.5L40.0,529.5L40.0,527.5L40.0,525.5L40.0,523.5L40.0,521.5L40.0,519.5L40.0,517.5L40.0,515.5L40.0,513.5L40.0,511.5L40.0,509.5L40.0,507.5L40.0,505.5L40.0,503.5L40.0,501.5L40.0,499.5L40.0,497.6L40.0,495.6L40.1,493.6L40.1,491.6L40.1,489.6L40.2,487.6L40.2,485.6L40.3,483.6L40.3,481.6L40.4,479.6L40.5,477.6L40.5,475.6L40.6,473.6L40.7,471.6L40.7,469.6L40.8,467.6L40.9,465.6L41.0,463.6L41.1,461.6L41.2,459.6L41.4,457.6L41.5,455.6L41.6,453.6L41.8,451.6L41.9,449.6L42.1,447.6L42.3,445.6L42.5,443.6L42.7,441.6L42.9,439.6L43.1,437.6L43.4,435.6L43.6,433.6L43.9,431.6L44.2,429.6L44.5,427.6L44.8,425.6L45.1,423.6L45.4,421.6L45.8,419.6L46.2,417.6L46.6,415.6L47.0,413.6L47.4,411.6L47.8,409.6L48.3,407.6L48.7,405.7L49.2,403.7L49.6,401.7L50.0,399.7L50.3,397.7L50.7,395.7L52.1,393.7L54.6,391.7L57.0,389.7L58.8,387.7L60.7,385.7L61.7,384.7L62.2,384.3L62.6,383.9L62.8,383.7L63.0,383.4L63.5,383.0L63.9,382.6L64.4,382.2L64.8,381.7L64.9,381.7L65.3,381.3L65.7,380.9L66.2,380.5L66.7,380.0L67.1,379.7L67.1,379.6L67.6,379.2L68.1,378.8L68.6,378.3L69.1,377.9L69.4,377.7L69.6,377.5L70.1,377.1L70.7,376.6L71.2,376.2L71.8,375.8L71.9,375.7L72.4,375.4L72.9,375.0L73.5,374.5L74.2,374.1L74.8,373.7L74.8,373.7L75.5,373.3L76.1,372.8L76.8,372.4L77.5,372.0L78.0,371.7L78.2,371.6L79.0,371.1L79.7,370.7L80.5,370.3L81.3,369.9L81.7,369.7L82.2,369.4L83.0,369.0L83.9,368.6L84.8,368.2L85.8,367.8L85.9,367.7L86.8,367.3L87.9,366.9L89.0,366.5L90.2,366.1L91.3,365.7L91.5,365.6L93.1,365.2L94.8,364.8L96.8,364.4L99.0,363.9L100.5,363.7L101.6,363.5L104.6,363.1L108.0,362.7L111.8,362.2L115.9,361.8L117.0,361.7L120.0,361.4L124.1,361.0L128.1,360.5L131.8,360.1L135.0,359.7Z" fill="#D95319" fill-opacity="0.5"/>
<path d="M40.3,359.7L40.7,360.1L41.1,360.5L41.5,361.0L41.9,361.4L42.3,361.7L42.4,361.8L42.9,362.2L43.4,362.7L43.9,363.1L44.4,363.5L44.6,363.7L44.9,363.9L45.4,364.4L45.9,364.8L46.3,365.2L46.8,365.6L46.8,365.7L47.2,366.1L47.6,366.5L48.0,366.9L48.4,367.3L48.7,367.7L48.8,367.8L49.2,368.2L49.5,368.6L49.8,369.0L50.2,369.4L50.4,369.7L50.5,369.9L50.8,370.3L51.1,370.7L51.4,371.1L51.7,371.6L51.8,371.7L52.0,372.0L52.2,372.4L52.5,372.8L52.7,373.3L53.0,373.7L53.0,373.7L53.2,374.1L53.4,374.5L53.7,375.0L53.9,375.4L54.0,375.7L54.1,375.8L54.3,376.2L54.5,376.6L54.6,377.1L54.8,377.5L54.9,377.7L55.0,377.9L55.2,378.3L55.3,378.8L55.5,379.2L55.6,379.6L55.6,379.7L55.8,380.0L55.9,380.5L56.0,380.9L56.1,381.3L56.2,381.7L56.3,381.7L56.4,382.2L56.5,382.6L56.6,383.0L56.7,383.4L56.7,383.7L56.8,383.9L56.9,384.3L56.9,384.7L57.1,385.7L57.4,387.7L57.6,389.7L57.7,391.7L57.8,393.7L57.8,395.7L57.7,397.7L57.6,399.7L57.5,401.7L57.3,403.7L57.1,405.7L56.9,407.6L56.7,409.6L56.5,411.6L56.2,413.6L55.9,415.6L55.6,417.6L55.3,419.6L55.0,421.6L54.6,423.6L54.2,425.6L53.9,427.6L53.5,429.6L53.0,431.6L52.6,433.6L52.2,435.6L51.8,437.6L51.3,439.6L50.9,441.6L50.5,443.6L50.1,445.6L49.7,447.6L49.3,449.6L48.9,451.6L48.6,453.6L48.2,455.6L47.9,457.6L47.6,459.6L47.4,461.6L47.1,463.6L46.9,465.6L46.7,467.6L46.5,469.6L46.3,471.6L46.1,473.6L46.0,475.6L45.8,477.6L45.7,479.6L45.6,481.6L45.4,483.6L45.3,485.6L45.2,487.6L45.1,489.6L45.0,491.6L44.9,493.6L44.8,495.6L44.7,497.6L44.6,499.5L44.5,501.5L44.4,503.5L44.3,505.5L44.2,507.5L44.1,509.5L44.0,511.5L44.0,513.5L43.9,515.5L43.8,517.5L43.7,519.5L43.6,521.5L43.5,523.5L43.5,525.5L43.4,527.5L43.3,529.5L43.2,531.5L43.2,533.5L43.1,535.5L43.0,537.5L42.9,539.5L42.9,541.5L42.8,543.5L42.7,545.5L42.7,547.5L42.6,549.5L42.5,551.5L42.5,553.5L42.4,555.5L42.4,557.5L42.3,559.5L42.2,561.5L42.2,563.5L42.1,565.5L42.1,567.5L42.0,569.5L41.9,571.5L41.9,573.5L41.8,575.5L41.8,577.5L41.7,579.5L41.7,581.5L41.6,583.5L41.6,585.5L41.5,587.5L41.5,589.5L41.4,591.4L41.4,593.4L41.3,595.4L41.3,597.4L41.2,599.4L41.2,601.4L41.1,603.4L41.1,605.4L41.0,607.4L41.0,609.4L40.9,611.4L40.9,613.4L40.8,615.4L40.8,617.4L40.7,619.4L40.7,621.4L40.6,623.4L40.6,625.4L40.5,627.4L40.5,629.4L40.4,631.4L40.4,633.4L40.3,635.4L40.2,637.4L40.0,637.4L40.1,635.4L40.1,633.4L40.1,631.4L40.1,629.4L40.1,627.4L40.1,625.4L40.1,623.4L40.2,621.4L40.2,619.4L40.2,617.4L40.2,615.4L40.3,613.4L40.3,611.4L40.3,609.4L40.3,607.4L40.4,605.4L40.4,603.4L40.4,601.4L40.4,599.4L40.5,597.4L40.5,595.4L40.5,593.4L40.6,591.4L40.6,589.5L40.6,587.5L40.7,585.5L40.7,583.5L40.7,581.5L40.8,579.5L40.8,577.5L40.9,575.5L40.9,573.5L41.0,571.5L41.0,569.5L41.0,567.5L41.1,565.5L41.1,563.5L41.2,561.5L41.2,559.5L41.3,557.5L41.3,555.5L41.4,553.5L41.5,551.5L41.5,549.5L41.6,547.5L41.6,545.5L41.7,543.5L41.7,541.5L41.8,539.5L41.9,537.5L41.9,535.5L42.0,533.5L42.1,531.5L42.1,529.5L42.2,527.5L42.3,525.5L42.3,523.5L42.4,521.5L42.5,519.5L42.6,517.5L42.6,515.5L42.7,513.5L42.8,511.5L42.9,509.5L42.9,507.5L43.0,505.5L43.1,503.5L43.2,501.5L43.3,499.5L43.4,497.6L43.5,495.6L43.5,493.6L43.6,491.6L43.7,489.6L43.8,487.6L43.9,485.6L44.0,483.6L44.0,481.6L44.1,479.6L44.1,477.6L44.1,475.6L44.0,473.6L43.9,471.6L43.9,469.6L43.8,467.6L43.9,465.6L44.1,463.6L44.5,461.6L44.9,459.6L45.4,457.6L45.8,455.6L46.3,453.6L46.7,451.6L47.0,449.6L47.3,447.6L47.6,445.6L47.9,443.6L48.1,441.6L48.4,439.6L48.6,437.6L48.7,435.6L48.9,433.6L49.1,431.6L49.3,429.6L49.4,427.6L49.6,425.6L49.8,423.6L50.0,421.6L50.2,419.6L50.4,417.6L50.6,415.6L50.7,413.6L50.9,411.6L51.1,409.6L51.3,407.6L51.4,405.7L51.5,403.7L51.6,401.7L51.7,399.7L51.7,397.7L51.7,395.7L51.6,393.7L51.5,391.7L51.4,389.7L51.2,387.7L50.9,385.7L50.8,384.7L50.7,384.3L50.6,383.9L50.6,383.7L50.6,383.4L50.5,383.0L50.4,382.6L50.3,382.2L50.2,381.7L50.2,381.7L50.1,381.3L50.0,380.9L49.9,380.5L49.8,380.0L49.7,379.7L49.7,379.6L49.6,379.2L49.5,378.8L49.4,378.3L49.3,377.9L49.2,377.7L49.1,377.5L49.0,377.1L48.9,376.6L48.7,376.2L48.6,375.8L48.5,375.7L48.4,375.4L48.3,375.0L48.1,374.5L48.0,374.1L47.8,373.7L47.8,373.7L47.6,373.3L47.5,372.8L47.3,372.4L47.1,372.0L47.0,371.7L46.9,371.6L46.7,371.1L46.5,370.7L46.3,370.3L46.1,369.9L46.0,369.7L45.9,369.4L45.7,369.0L45.5,368.6L45.3,368.2L45.0,367.8L45.0,367.7L44.8,367.3L44.6,366.9L44.3,366.5L44.1,366.1L43.9,365.7L43.8,365.6L43.6,365.2L43.3,364.8L43.1,364.4L42.8,363.9L42.7,363.7L42.6,363.5L42.3,363.1L42.0,362.7L41.7,362.2L41.5,361.8L41.4,361.7L41.2,361.4L40.9,361.0L40.6,360.5L40.3,360.1L40.0,359.7Z" fill="#EDB120" fill-opacity="0.5"/>
<path d="M87.0,359.7L88.9,360.1L90.8,360.5L92.6,361.0L94.4,361.4L95.6,361.7L96.2,361.8L98.1,362.2L100.1,362.7L102.3,363.1L104.6,363.5L105.6,363.7L106.9,363.9L109.3,364.4L111.5,364.8L113.3,365.2L115.3,365.6L115.6,365.7L118.0,366.1L121.9,366.5L126.8,366.9L131.6,367.3L134.7,367.7L135.1,367.8L137.3,368.2L138.7,368.6L140.0,369.0L141.4,369.4L142.3,369.7L142.9,369.9L144.5,370.3L146.1,370.7L147.6,371.1L149.1,371.6L149.5,371.7L150.5,372.0L151.9,372.4L153.2,372.8L154.5,373.3L155.7,373.7L155.7,373.7L156.9,374.1L158.0,374.5L159.1,375.0L160.2,375.4L161.0,375.7L161.3,375.8L162.3,376.2L163.4,376.6L164.4,377.1L165.5,377.5L166.0,377.7L166.6,377.9L167.7,378.3L168.9,378.8L170.0,379.2L171.1,379.6L171.3,379.7L172.3,380.0L173.4,380.5L174.4,380.9L175.5,381.3L176.3,381.7L176.5,381.7L177.4,382.2L178.3,382.6L179.2,383.0L180.1,383.4L180.5,383.7L180.9,383.9L181.7,384.3L182.4,384.7L184.0,385.7L186.9,387.7L189.1,389.7L190.8,391.7L191.9,393.7L192.6,395.7L192.9,397.7L192.8,399.7L192.4,401.7L191.7,403.7L190.7,405.7L189.5,407.6L188.2,409.6L186.7,411.6L185.1,413.6L183.5,415.6L181.8,417.6L180.1,419.6L178.4,421.6L176.7,423.6L174.9,425.6L173.2,427.6L171.3,429.6L169.4,431.6L167.5,433.6L165.5,435.6L163.5,437.6L161.5,439.6L159.4,441.6L157.3,443.6L155.2,445.6L153.2,447.6L151.1,449.6L149.1,451.6L147.2,453.6L145.2,455.6L143.3,457.6L141.5,459.6L139.7,461.6L137.9,463.6L136.2,465.6L134.4,467.6L132.7,469.6L131.1,471.6L129.4,473.6L127.8,475.6L126.2,477.6L124.6,479.6L123.0,481.6L121.4,483.6L119.9,485.6L118.3,487.6L116.8,489.6L115.2,491.6L113.7,493.6L112.2,495.6L110.7,497.6L109.2,499.5L107.8,501.5L106.3,503.5L104.9,505.5L103.5,507.5L102.2,509.5L100.8,511.5L99.5,513.5L98.2,515.5L96.9,517.5L95.7,519.5L94.4,521.5L93.2,523.5L92.0,525.5L90.8,527.5L89.6,529.5L88.5,531.5L87.3,533.5L86.2,535.5L85.1,537.5L84.0,539.5L82.9,541.5L81.8,543.5L80.8,545.5L79.8,547.5L78.8,549.5L77.8,551.5L76.9,553.5L75.9,555.5L75.0,557.5L74.2,559.5L73.3,561.5L72.5,563.5L71.7,565.5L70.9,567.5L70.2,569.5L69.4,571.5L68.7,573.5L68.0,575.5L67.4,577.5L66.7,579.5L66.1,581.5L65.5,583.5L64.9,585.5L64.3,587.5L63.8,589.5L63.3,591.4L62.7,593.4L62.2,595.4L61.7,597.4L61.3,599.4L60.8,601.4L60.3,603.4L59.9,605.4L59.5,607.4L59.0,609.4L58.6,611.4L58.2,613.4L57.8,615.4L57.4,617.4L57.1,619.4L56.7,621.4L56.3,623.4L55.9,625.4L55.6,627.4L55.2,629.4L54.9,631.4L54.5,633.4L54.2,635.4L53.8,637.4L50.4,637.4L50.7,635.4L50.9,633.4L51.2,631.4L51.4,629.4L51.7,627.4L52.0,625.4L52.3,623.4L52.6,621.4L52.9,619.4L53.2,617.4L53.5,615.4L53.9,613.4L54.2,611.4L54.6,609.4L54.9,607.4L55.3,605.4L55.7,603.4L56.1,601.4L56.5,599.4L56.9,597.4L57.3,595.4L57.7,593.4L58.1,591.4L58.6,589.5L59.0,587.5L59.5,585.5L59.9,583.5L60.4,581.5L60.9,579.5L61.4,577.5L61.9,575.5L62.4,573.5L63.0,571.5L63.5,569.5L64.0,567.5L64.6,565.5L65.2,563.5L65.7,561.5L66.3,559.5L66.9,557.5L67.5,555.5L68.1,553.5L68.8,551.5L69.4,549.5L70.1,547.5L70.7,545.5L71.4,543.5L72.1,541.5L72.8,539.5L73.5,537.5L74.2,535.5L74.9,533.5L75.6,531.5L76.4,529.5L77.1,527.5L77.9,525.5L78.6,523.5L79.4,521.5L80.2,519.5L81.0,517.5L81.9,515.5L82.7,513.5L83.5,511.5L84.4,509.5L85.2,507.5L86.1,505.5L87.0,503.5L87.9,501.5L88.8,499.5L89.7,497.6L90.7,495.6L91.6,493.6L92.6,491.6L93.5,489.6L94.5,487.6L95.5,485.6L96.5,483.6L97.5,481.6L98.6,479.6L99.6,477.6L100.7,475.6L101.8,473.6L102.9,471.6L104.0,469.6L105.2,467.6L106.3,465.6L107.5,463.6L108.7,461.6L110.0,459.6L111.2,457.6L112.5,455.6L113.8,453.6L115.1,451.6L116.5,449.6L117.8,447.6L119.2,445.6L120.6,443.6L122.0,441.6L123.4,439.6L124.7,437.6L126.1,435.6L127.4,433.6L128.7,431.6L130.0,429.6L131.3,427.6L132.5,425.6L133.7,423.6L134.8,421.6L135.9,419.6L136.9,417.6L137.9,415.6L138.7,413.6L139.5,411.6L140.1,409.6L140.6,407.6L140.9,405.7L141.1,403.7L141.1,401.7L140.8,399.7L140.3,397.7L139.6,395.7L138.6,393.7L137.4,391.7L135.8,389.7L134.0,387.7L131.8,385.7L130.7,384.7L130.1,384.3L129.6,383.9L129.4,383.7L129.1,383.4L128.6,383.0L128.0,382.6L127.5,382.2L126.9,381.7L126.9,381.7L126.4,381.3L125.8,380.9L125.3,380.5L124.7,380.0L124.1,379.7L124.1,379.6L123.4,379.2L122.8,378.8L122.1,378.3L121.3,377.9L120.9,377.7L120.6,377.5L119.7,377.1L118.8,376.6L117.8,376.2L116.8,375.8L116.5,375.7L115.7,375.4L114.6,375.0L113.5,374.5L112.4,374.1L111.3,373.7L111.3,373.7L110.2,373.3L109.1,372.8L108.1,372.4L107.0,372.0L106.3,371.7L106.0,371.6L104.9,371.1L103.9,370.7L102.8,370.3L101.8,369.9L101.3,369.7L100.7,369.4L99.6,369.0L98.5,368.6L97.4,368.2L96.2,367.8L96.1,367.7L95.1,367.3L93.9,366.9L92.7,366.5L91.5,366.1L90.4,365.7L90.2,365.6L88.9,365.2L87.5,364.8L86.1,364.4L84.7,363.9L83.8,363.7L83.2,363.5L81.7,363.1L80.2,362.7L78.8,362.2L77.4,361.8L77.0,361.7L76.0,361.4L74.8,361.0L73.7,360.5L72.8,360.1L72.0,359.7Z" fill="#7E2F8E" fill-opacity="0.5"/>
<path d="M40.0,359.7L40.3,360.1L40.5,360.5L40.8,361.0L41.0,361.4L41.1,361.7L41.2,361.8L41.4,362.2L41.6,362.7L41.8,363.1L41.9,363.5L42.0,363.7L42.1,363.9L42.2,364.4L42.3,364.8L42.5,365.2L42.6,365.6L42.6,365.7L42.7,366.1L42.8,366.5L42.9,366.9L43.0,367.3L43.1,367.7L43.1,367.8L43.2,368.2L43.3,368.6L43.4,369.0L43.5,369.4L43.5,369.7L43.5,369.9L43.6,370.3L43.7,370.7L43.8,371.1L43.9,371.6L43.9,371.7L44.0,372.0L44.0,372.4L44.1,372.8L44.2,373.3L44.3,373.7L44.3,373.7L44.4,374.1L44.5,374.5L44.5,375.0L44.6,375.4L44.7,375.7L44.7,375.8L44.8,376.2L44.9,376.6L45.0,377.1L45.1,377.5L45.1,377.7L45.2,377.9L45.3,378.3L45.4,378.8L45.5,379.2L45.6,379.6L45.6,379.7L45.7,380.0L45.8,380.5L45.9,380.9L46.1,381.3L46.2,381.7L46.2,381.7L46.3,382.2L46.4,382.6L46.5,383.0L46.7,383.4L46.7,383.7L46.8,383.9L46.9,384.3L47.0,384.7L47.3,385.7L47.8,387.7L48.1,389.7L48.4,391.7L48.6,393.7L48.8,395.7L48.9,397.7L49.0,399.7L49.1,401.7L49.1,403.7L49.2,405.7L49.2,407.6L49.2,409.6L49.1,411.6L49.1,413.6L49.0,415.6L48.9,417.6L48.8,419.6L48.8,421.6L48.7,423.6L48.6,425.6L48.5,427.6L48.3,429.6L48.2,431.6L48.1,433.6L48.0,435.6L47.9,437.6L47.8,439.6L47.7,441.6L47.6,443.6L47.5,445.6L47.4,447.6L47.2,449.6L47.1,451.6L47.0,453.6L46.9,455.6L46.8,457.6L46.7,459.6L46.6,461.6L46.4,463.6L46.3,465.6L46.2,467.6L46.1,469.6L46.0,471.6L45.9,473.6L45.8,475.6L45.7,477.6L45.5,479.6L45.4,481.6L45.3,483.6L45.2,485.6L45.1,487.6L45.0,489.6L44.9,491.6L44.8,493.6L44.7,495.6L44.6,497.6L44.5,499.5L44.4,501.5L44.3,503.5L44.3,505.5L44.2,507.5L44.1,509.5L44.0,511.5L43.9,513.5L43.8,515.5L43.7,517.5L43.7,519.5L43.6,521.5L43.5,523.5L43.4,525.5L43.4,527.5L43.3,529.5L43.2,531.5L43.1,533.5L43.1,535.5L43.0,537.5L42.9,539.5L42.9,541.5L42.8,543.5L42.7,545.5L42.7,547.5L42.6,549.5L42.5,551.5L42.5,553.5L42.4,555.5L42.3,557.5L42.3,559.5L42.2,561.5L42.2,563.5L42.1,565.5L42.0,567.5L42.0,569.5L41.9,571.5L41.8,573.5L41.8,575.5L41.7,577.5L41.7,579.5L41.6,581.5L41.5,583.5L41.5,585.5L41.4,587.5L41.4,589.5L41.3,591.4L41.2,593.4L41.2,595.4L41.1,597.4L41.1,599.4L41.0,601.4L40.9,603.4L40.9,605.4L40.8,607.4L40.7,609.4L40.7,611.4L40.6,613.4L40.5,615.4L40.5,617.4L40.4,619.4L40.3,621.4L40.3,623.4L40.2,625.4L40.1,627.4L40.0,629.4L40.0,631.4L40.0,633.4L40.0,635.4L40.0,637.4L40.0,637.4L40.0,635.4L40.0,633.4L40.0,631.4L40.0,629.4L40.0,627.4L40.0,625.4L40.1,623.4L40.1,621.4L40.2,619.4L40.2,617.4L40.3,615.4L40.3,613.4L40.3,611.4L40.4,609.4L40.4,607.4L40.4,605.4L40.5,603.4L40.5,601.4L40.5,599.4L40.6,597.4L40.6,595.4L40.6,593.4L40.7,591.4L40.7,589.5L40.7,587.5L40.8,585.5L40.8,583.5L40.8,581.5L40.8,579.5L40.9,577.5L40.9,575.5L40.9,573.5L41.0,571.5L41.0,569.5L41.0,567.5L41.1,565.5L41.1,563.5L41.1,561.5L41.2,559.5L41.2,557.5L41.2,555.5L41.3,553.5L41.3,551.5L41.4,549.5L41.4,547.5L41.4,545.5L41.5,543.5L41.5,541.5L41.6,539.5L41.6,537.5L41.7,535.5L41.7,533.5L41.8,531.5L41.9,529.5L41.9,527.5L42.0,525.5L42.1,523.5L42.1,521.5L42.2,519.5L42.3,517.5L42.3,515.5L42.4,513.5L42.5,511.5L42.6,509.5L42.7,507.5L42.8,505.5L42.9,503.5L43.0,501.5L43.1,499.5L43.2,497.6L43.3,495.6L43.4,493.6L43.5,491.6L43.6,489.6L43.7,487.6L43.8,485.6L44.0,483.6L44.1,481.6L44.2,479.6L44.4,477.6L44.5,475.6L44.6,473.6L44.7,471.6L44.9,469.6L45.0,467.6L45.1,465.6L45.3,463.6L45.4,461.6L45.5,459.6L45.7,457.6L45.8,455.6L45.9,453.6L46.0,451.6L46.1,449.6L46.3,447.6L46.4,445.6L46.5,443.6L46.6,441.6L46.7,439.6L46.8,437.6L46.9,435.6L47.0,433.6L47.1,431.6L47.1,429.6L47.2,427.6L47.3,425.6L47.3,423.6L47.4,421.6L47.4,419.6L47.5,417.6L47.5,415.6L47.6,413.6L47.6,411.6L47.7,409.6L47.7,407.6L47.8,405.7L47.8,403.7L47.8,401.7L47.8,399.7L47.7,397.7L47.6,395.7L47.4,393.7L47.2,391.7L46.9,389.7L46.5,387.7L45.9,385.7L45.7,384.7L45.5,384.3L45.4,383.9L45.4,383.7L45.3,383.4L45.2,383.0L45.1,382.6L45.0,382.2L44.8,381.7L44.8,381.7L44.7,381.3L44.6,380.9L44.5,380.5L44.4,380.0L44.3,379.7L44.3,379.6L44.2,379.2L44.1,378.8L44.0,378.3L43.9,377.9L43.9,377.7L43.8,377.5L43.7,377.1L43.7,376.6L43.6,376.2L43.5,375.8L43.4,375.7L43.4,375.4L43.3,375.0L43.2,374.5L43.1,374.1L43.0,373.7L43.0,373.7L42.9,373.3L42.8,372.8L42.7,372.4L42.6,372.0L42.6,371.7L42.5,371.6L42.5,371.1L42.4,370.7L42.3,370.3L42.2,369.9L42.1,369.7L42.1,369.4L42.0,369.0L41.9,368.6L41.8,368.2L41.7,367.8L41.7,367.7L41.6,367.3L41.6,366.9L41.5,366.5L41.4,366.1L41.3,365.7L41.3,365.6L41.2,365.2L41.1,364.8L41.0,364.4L40.9,363.9L40.9,363.7L40.8,363.5L40.7,363.1L40.6,362.7L40.6,362.2L40.5,361.8L40.4,361.7L40.4,361.4L40.3,361.0L40.2,360.5L40.1,360.1L40.0,359.7Z" fill="#77AC30" fill-opacity="0.5"/>
<path d="M40.0,359.7L40.1,360.1L40.3,360.5L40.4,361.0L40.5,361.4L40.6,361.7L40.6,361.8L40.7,362.2L40.8,362.7L40.9,363.1L41.0,363.5L41.0,363.7L41.1,363.9L41.1,364.4L41.2,364.8L41.3,365.2L41.3,365.6L41.4,365.7L41.4,366.1L41.5,366.5L41.5,366.9L41.6,367.3L41.6,367.7L41.6,367.8L41.7,368.2L41.7,368.6L41.8,369.0L41.8,369.4L41.9,369.7L41.9,369.9L41.9,370.3L42.0,370.7L42.0,371.1L42.0,371.6L42.1,371.7L42.1,372.0L42.1,372.4L42.2,372.8L42.2,373.3L42.2,373.7L42.2,373.7L42.3,374.1L42.3,374.5L42.3,375.0L42.4,375.4L42.4,375.7L42.4,375.8L42.4,376.2L42.5,376.6L42.5,377.1L42.5,377.5L42.5,377.7L42.6,377.9L42.6,378.3L42.6,378.8L42.6,379.2L42.7,379.6L42.7,379.7L42.7,380.0L42.7,380.5L42.8,380.9L42.8,381.3L42.8,381.7L42.8,381.7L42.8,382.2L42.9,382.6L42.9,383.0L42.9,383.4L42.9,383.7L43.0,383.9L43.0,384.3L43.0,384.7L43.1,385.7L43.2,387.7L43.3,389.7L43.3,391.7L43.4,393.7L43.4,395.7L43.5,397.7L43.5,399.7L43.5,401.7L43.4,403.7L43.4,405.7L43.4,407.6L43.3,409.6L43.3,411.6L43.2,413.6L43.1,415.6L43.0,417.6L43.0,419.6L42.9,421.6L42.8,423.6L42.7,425.6L42.6,427.6L42.6,429.6L42.5,431.6L42.4,433.6L42.4,435.6L42.3,437.6L42.2,439.6L42.2,441.6L42.1,443.6L42.1,445.6L42.0,447.6L42.0,449.6L41.9,451.6L41.9,453.6L41.8,455.6L41.8,457.6L41.7,459.6L41.7,461.6L41.6,463.6L41.6,465.6L41.5,467.6L41.5,469.6L41.5,471.6L41.4,473.6L41.4,475.6L41.4,477.6L41.3,479.6L41.3,481.6L41.3,483.6L41.2,485.6L41.2,487.6L41.2,489.6L41.1,491.6L41.1,493.6L41.1,495.6L41.1,497.6L41.0,499.5L41.0,501.5L41.0,503.5L41.0,505.5L40.9,507.5L40.9,509.5L40.9,511.5L40.9,513.5L40.8,515.5L40.8,517.5L40.8,519.5L40.8,521.5L40.7,523.5L40.7,525.5L40.7,527.5L40.7,529.5L40.7,531.5L40.6,533.5L40.6,535.5L40.6,537.5L40.6,539.5L40.6,541.5L40.5,543.5L40.5,545.5L40.5,547.5L40.5,549.5L40.5,551.5L40.5,553.5L40.4,555.5L40.4,557.5L40.4,559.5L40.4,561.5L40.4,563.5L40.4,565.5L40.3,567.5L40.3,569.5L40.3,571.5L40.3,573.5L40.3,575.5L40.3,577.5L40.3,579.5L40.3,581.5L40.2,583.5L40.2,585.5L40.2,587.5L40.2,589.5L40.2,591.4L40.2,593.4L40.2,595.4L40.2,597.4L40.1,599.4L40.1,601.4L40.1,603.4L40.1,605.4L40.1,607.4L40.1,609.4L40.1,611.4L40.1,613.4L40.1,615.4L40.1,617.4L40.0,619.4L40.0,621.4L40.0,623.4L40.0,625.4L40.0,627.4L40.0,629.4L40.0,631.4L40.0,633.4L40.0,635.4L40.0,637.4L40.0,637.4L40.0,635.4L40.0,633.4L40.0,631.4L40.0,629.4L40.0,627.4L40.0,625.4L40.0,623.4L40.0,621.4L40.0,619.4L40.0,617.4L40.0,615.4L40.1,613.4L40.1,611.4L40.1,609.4L40.1,607.4L40.1,605.4L40.1,603.4L40.1,601.4L40.1,599.4L40.1,597.4L40.1,595.4L40.1,593.4L40.1,591.4L40.1,589.5L40.2,587.5L40.2,585.5L40.2,583.5L40.2,581.5L40.2,579.5L40.2,577.5L40.2,575.5L40.2,573.5L40.2,571.5L40.2,569.5L40.2,567.5L40.3,565.5L40.3,563.5L40.3,561.5L40.3,559.5L40.3,557.5L40.3,555.5L40.3,553.5L40.3,551.5L40.3,549.5L40.3,547.5L40.4,545.5L40.4,543.5L40.4,541.5L40.4,539.5L40.4,537.5L40.4,535.5L40.4,533.5L40.4,531.5L40.5,529.5L40.5,527.5L40.5,525.5L40.5,523.5L40.5,521.5L40.5,519.5L40.5,517.5L40.6,515.5L40.6,513.5L40.6,511.5L40.6,509.5L40.6,507.5L40.6,505.5L40.7,503.5L40.7,501.5L40.7,499.5L40.7,497.6L40.7,495.6L40.7,493.6L40.8,491.6L40.8,489.6L40.8,487.6L40.8,485.6L40.8,483.6L40.9,481.6L40.9,479.6L40.9,477.6L40.9,475.6L41.0,473.6L41.0,471.6L41.0,469.6L41.0,467.6L41.1,465.6L41.1,463.6L41.1,461.6L41.2,459.6L41.2,457.6L41.3,455.6L41.3,453.6L41.3,451.6L41.4,449.6L41.4,447.6L41.5,445.6L41.5,443.6L41.6,441.6L41.6,439.6L41.7,437.6L41.8,435.6L41.8,433.6L41.9,431.6L42.0,429.6L42.0,427.6L42.1,425.6L42.2,423.6L42.3,421.6L42.4,419.6L42.4,417.6L42.5,415.6L42.6,413.6L42.6,411.6L42.7,409.6L42.8,407.6L42.8,405.7L42.8,403.7L42.9,401.7L42.9,399.7L42.9,397.7L42.8,395.7L42.8,393.7L42.7,391.7L42.7,389.7L42.6,387.7L42.4,385.7L42.4,384.7L42.4,384.3L42.3,383.9L42.3,383.7L42.3,383.4L42.3,383.0L42.3,382.6L42.2,382.2L42.2,381.7L42.2,381.7L42.2,381.3L42.1,380.9L42.1,380.5L42.1,380.0L42.1,379.7L42.0,379.6L42.0,379.2L42.0,378.8L42.0,378.3L41.9,377.9L41.9,377.7L41.9,377.5L41.9,377.1L41.8,376.6L41.8,376.2L41.8,375.8L41.8,375.7L41.7,375.4L41.7,375.0L41.7,374.5L41.6,374.1L41.6,373.7L41.6,373.7L41.6,373.3L41.6,372.8L41.5,372.4L41.5,372.0L41.5,371.7L41.5,371.6L41.4,371.1L41.4,370.7L41.4,370.3L41.3,369.9L41.3,369.7L41.3,369.4L41.2,369.0L41.2,368.6L41.2,368.2L41.1,367.8L41.1,367.7L41.1,367.3L41.0,366.9L41.0,366.5L41.0,366.1L40.9,365.7L40.9,365.6L40.9,365.2L40.8,364.8L40.8,364.4L40.7,363.9L40.7,363.7L40.6,363.5L40.6,363.1L40.5,362.7L40.5,362.2L40.4,361.8L40.4,361.7L40.3,361.4L40.2,361.0L40.2,360.5L40.1,360.1L40.0,359.7Z" fill="#4DBEEE" fill-opacity="0.5"/>
</g>
<line x1="40.00" y1="407.60" x2="317.70" y2="407.60" stroke="#ff1414" stroke-opacity="0.50" stroke-width="1.40" stroke-dasharray="1.50 4.66" stroke-dashoffset="0.55"/>
<line x1="40.00" y1="455.70" x2="317.70" y2="455.70" stroke="#ff1414" stroke-opacity="0.50" stroke-width="1.40" stroke-dasharray="1.50 4.66" stroke-dashoffset="0.55"/>
<line x1="40.00" y1="507.70" x2="317.70" y2="507.70" stroke="#ff1414" stroke-opacity="0.50" stroke-width="1.40" stroke-dasharray="1.50 4.66" stroke-dashoffset="0.55"/>
<line x1="40.00" y1="559.80" x2="317.70" y2="559.80" stroke="#ff1414" stroke-opacity="0.74" stroke-width="0.95" stroke-dasharray="2.00 4.16" stroke-dashoffset="0.80"/>
<line x1="40.00" y1="611.70" x2="317.70" y2="611.70" stroke="#ff1414" stroke-opacity="0.74" stroke-width="0.95" stroke-dasharray="2.00 4.16" stroke-dashoffset="0.80"/>
<line x1="632.80" y1="359.30" x2="632.80" y2="637.80" stroke="#444" stroke-width="0.9"/>
<line x1="355.00" y1="359.30" x2="355.00" y2="637.80" stroke="#444" stroke-width="0.9"/>
<line x1="354.50" y1="359.70" x2="633.30" y2="359.70" stroke="#6a6a6a" stroke-width="1.0"/>
<line x1="354.50" y1="637.40" x2="633.30" y2="637.40" stroke="#444" stroke-width="1.0"/>
<line x1="410.50" y1="637.40" x2="410.50" y2="632.90" stroke="#222" stroke-width="1"/>
<line x1="466.50" y1="637.40" x2="466.50" y2="632.90" stroke="#222" stroke-width="1"/>
<line x1="521.50" y1="637.40" x2="521.50" y2="632.90" stroke="#222" stroke-width="1"/>
<line x1="577.50" y1="637.40" x2="577.50" y2="632.90" stroke="#222" stroke-width="1"/>
<line x1="355.00" y1="405.50" x2="359.80" y2="405.50" stroke="#b8b8b8" stroke-width="1"/>
<line x1="355.00" y1="451.50" x2="359.80" y2="451.50" stroke="#222" stroke-width="1"/>
<line x1="355.00" y1="498.50" x2="359.80" y2="498.50" stroke="#222" stroke-width="1"/>
<line x1="355.00" y1="544.50" x2="359.80" y2="544.50" stroke="#b8b8b8" stroke-width="1"/>
<line x1="355.00" y1="591.50" x2="359.80" y2="591.50" stroke="#222" stroke-width="1"/>
<g clip-path="url(#cqd)">
<path d="M533.0,359.7L533.6,360.1L534.2,360.5L534.9,361.0L535.5,361.4L536.0,361.7L536.1,361.8L536.8,362.2L537.4,362.7L538.0,363.1L538.7,363.5L538.9,363.7L539.3,363.9L539.9,364.4L540.5,364.8L541.2,365.2L541.8,365.6L541.9,365.7L542.4,366.1L543.0,366.5L543.5,366.9L544.1,367.3L544.6,367.7L544.7,367.8L545.2,368.2L545.7,368.6L546.2,369.0L546.8,369.4L547.0,369.7L547.2,369.9L547.7,370.3L548.2,370.7L548.7,371.1L549.1,371.6L549.2,371.7L549.6,372.0L550.0,372.4L550.4,372.8L550.8,373.3L551.2,373.7L551.2,373.7L551.6,374.1L552.0,374.5L552.4,375.0L552.7,375.4L553.0,375.7L553.1,375.8L553.4,376.2L553.7,376.6L553.9,377.1L554.2,377.5L554.3,377.7L554.4,377.9L554.7,378.3L554.8,378.8L555.0,379.2L555.2,379.6L555.2,379.7L555.3,380.0L555.5,380.5L555.6,380.9L555.7,381.3L555.7,381.7L555.7,381.7L555.8,382.2L555.8,382.6L555.8,383.0L555.8,383.4L555.8,383.7L555.8,383.9L555.8,384.3L555.8,384.7L555.6,385.7L555.0,387.7L554.2,389.7L553.0,391.7L551.6,393.7L550.0,395.7L548.1,397.7L546.0,399.7L543.7,401.7L541.2,403.7L538.6,405.7L535.8,407.6L532.9,409.6L529.9,411.6L526.8,413.6L523.6,415.6L520.4,417.6L517.3,419.6L514.5,421.6L511.9,423.6L509.5,425.6L507.2,427.6L504.8,429.6L502.3,431.6L499.6,433.6L496.9,435.6L494.2,437.6L491.5,439.6L489.0,441.6L486.6,443.6L484.2,445.6L481.9,447.6L479.5,449.6L477.0,451.6L474.5,453.6L472.0,455.6L469.6,457.6L467.2,459.6L464.8,461.6L462.5,463.6L460.3,465.6L458.1,467.6L455.9,469.6L453.8,471.6L451.8,473.6L449.7,475.6L447.7,477.6L445.8,479.6L443.8,481.6L441.9,483.6L440.1,485.6L438.2,487.6L436.4,489.6L434.7,491.6L432.9,493.6L431.2,495.6L429.5,497.6L427.8,499.5L426.1,501.5L424.5,503.5L422.9,505.5L421.4,507.5L419.8,509.5L418.3,511.5L416.8,513.5L415.4,515.5L413.9,517.5L412.5,519.5L411.2,521.5L409.8,523.5L408.5,525.5L407.2,527.5L405.9,529.5L404.7,531.5L403.4,533.5L402.2,535.5L401.1,537.5L399.9,539.5L398.8,541.5L397.7,543.5L396.7,545.5L395.6,547.5L394.6,549.5L393.7,551.5L392.7,553.5L391.8,555.5L390.9,557.5L390.0,559.5L389.2,561.5L388.3,563.5L387.5,565.5L386.8,567.5L386.0,569.5L385.3,571.5L384.6,573.5L383.9,575.5L383.2,577.5L382.6,579.5L381.9,581.5L381.3,583.5L380.7,585.5L380.1,587.5L379.6,589.5L379.0,591.4L378.5,593.4L377.9,595.4L377.4,597.4L376.9,599.4L376.4,601.4L375.9,603.4L375.4,605.4L375.0,607.4L374.5,609.4L374.0,611.4L373.6,613.4L373.1,615.4L372.7,617.4L372.2,619.4L371.8,621.4L371.3,623.4L370.9,625.4L370.4,627.4L369.9,629.4L369.5,631.4L369.0,633.4L368.5,635.4L368.1,637.4L365.2,637.4L365.4,635.4L365.7,633.4L366.0,631.4L366.3,629.4L366.6,627.4L366.9,625.4L367.2,623.4L367.5,621.4L367.8,619.4L368.1,617.4L368.5,615.4L368.8,613.4L369.2,611.4L369.5,609.4L369.9,607.4L370.3,605.4L370.6,603.4L371.0,601.4L371.4,599.4L371.9,597.4L372.3,595.4L372.7,593.4L373.1,591.4L373.6,589.5L374.1,587.5L374.5,585.5L375.0,583.5L375.5,581.5L376.0,579.5L376.5,577.5L377.0,575.5L377.6,573.5L378.1,571.5L378.7,569.5L379.2,567.5L379.8,565.5L380.4,563.5L381.0,561.5L381.6,559.5L382.2,557.5L382.9,555.5L383.5,553.5L384.2,551.5L384.8,549.5L385.5,547.5L386.2,545.5L386.9,543.5L387.7,541.5L388.4,539.5L389.2,537.5L389.9,535.5L390.7,533.5L391.5,531.5L392.3,529.5L393.1,527.5L394.0,525.5L394.8,523.5L395.7,521.5L396.6,519.5L397.5,517.5L398.4,515.5L399.3,513.5L400.2,511.5L401.2,509.5L402.2,507.5L403.2,505.5L404.2,503.5L405.2,501.5L406.2,499.5L407.3,497.6L408.3,495.6L409.4,493.6L410.5,491.6L411.7,489.6L412.8,487.6L414.0,485.6L415.1,483.6L416.3,481.6L417.6,479.6L418.8,477.6L420.1,475.6L421.5,473.6L422.8,471.6L424.2,469.6L425.7,467.6L427.2,465.6L428.7,463.6L430.3,461.6L431.9,459.6L433.6,457.6L435.3,455.6L437.1,453.6L439.0,451.6L440.8,449.6L442.7,447.6L444.7,445.6L446.6,443.6L448.6,441.6L450.6,439.6L452.5,437.6L454.5,435.6L456.4,433.6L458.3,431.6L460.2,429.6L462.0,427.6L463.8,425.6L465.5,423.6L467.2,421.6L468.8,419.6L470.4,417.6L472.0,415.6L473.7,413.6L475.3,411.6L476.7,409.6L478.0,407.6L479.1,405.7L480.3,403.7L481.4,401.7L482.5,399.7L483.6,397.7L484.5,395.7L485.3,393.7L486.0,391.7L486.5,389.7L486.8,387.7L486.8,385.7L486.7,384.7L486.6,384.3L486.6,383.9L486.5,383.7L486.5,383.4L486.4,383.0L486.3,382.6L486.1,382.2L486.0,381.7L486.0,381.7L485.9,381.3L485.7,380.9L485.5,380.5L485.4,380.0L485.2,379.7L485.2,379.6L485.0,379.2L484.8,378.8L484.6,378.3L484.4,377.9L484.3,377.7L484.2,377.5L484.0,377.1L483.8,376.6L483.5,376.2L483.3,375.8L483.2,375.7L483.1,375.4L482.8,375.0L482.6,374.5L482.3,374.1L482.1,373.7L482.1,373.7L481.8,373.3L481.5,372.8L481.2,372.4L480.9,372.0L480.7,371.7L480.6,371.6L480.3,371.1L479.9,370.7L479.6,370.3L479.2,369.9L479.0,369.7L478.8,369.4L478.4,369.0L478.0,368.6L477.5,368.2L477.0,367.8L477.0,367.7L476.5,367.3L476.0,366.9L475.5,366.5L474.9,366.1L474.4,365.7L474.3,365.6L473.8,365.2L473.2,364.8L472.7,364.4L472.2,363.9L471.9,363.7L471.7,363.5L471.3,363.1L470.9,362.7L470.5,362.2L470.1,361.8L470.0,361.7L469.8,361.4L469.4,361.0L469.1,360.5L468.8,360.1L468.5,359.7Z" fill="#0072BD" fill-opacity="0.5"/>
<path d="M495.0,359.7L494.0,360.1L491.1,360.5L487.0,361.0L482.7,361.4L480.0,361.7L478.9,361.8L475.6,362.2L472.5,362.7L469.8,363.1L467.4,363.5L466.5,363.7L465.3,363.9L463.3,364.4L461.3,364.8L459.3,365.2L457.2,365.6L456.9,365.7L455.2,366.1L453.1,366.5L450.9,366.9L448.7,367.3L446.8,367.7L446.5,367.8L444.2,368.2L442.0,368.6L439.8,369.0L437.8,369.4L436.7,369.7L435.9,369.9L434.3,370.3L432.9,370.7L431.7,371.1L430.7,371.6L430.4,371.7L429.7,372.0L428.8,372.4L427.9,372.8L427.0,373.3L425.9,373.7L425.9,373.7L424.8,374.1L423.7,374.5L422.6,375.0L421.5,375.4L420.8,375.7L420.5,375.8L419.4,376.2L418.4,376.6L417.3,377.1L416.3,377.5L415.8,377.7L415.2,377.9L414.2,378.3L413.2,378.8L412.2,379.2L411.2,379.6L411.1,379.7L410.3,380.0L409.3,380.5L408.4,380.9L407.4,381.3L406.7,381.7L406.6,381.7L405.7,382.2L404.8,382.6L404.0,383.0L403.2,383.4L402.8,383.7L402.4,383.9L401.7,384.3L401.0,384.7L399.3,385.7L396.2,387.7L393.2,389.7L390.3,391.7L387.5,393.7L384.9,395.7L382.5,397.7L380.4,399.7L378.3,401.7L376.1,403.7L374.1,405.7L372.9,407.6L372.1,409.6L371.3,411.6L370.6,413.6L369.8,415.6L369.2,417.6L368.5,419.6L367.9,421.6L367.3,423.6L366.7,425.6L366.2,427.6L365.7,429.6L365.2,431.6L364.7,433.6L364.2,435.6L363.8,437.6L363.4,439.6L363.0,441.6L362.6,443.6L362.2,445.6L361.9,447.6L361.5,449.6L361.2,451.6L360.9,453.6L360.6,455.6L360.3,457.6L360.0,459.6L359.7,461.6L359.4,463.6L359.2,465.6L359.0,467.6L358.7,469.6L358.5,471.6L358.3,473.6L358.1,475.6L357.9,477.6L357.7,479.6L357.5,481.6L357.4,483.6L357.2,485.6L357.0,487.6L356.9,489.6L356.7,491.6L356.6,493.6L356.5,495.6L356.4,497.6L356.3,499.5L356.1,501.5L356.0,503.5L355.9,505.5L355.9,507.5L355.8,509.5L355.7,511.5L355.6,513.5L355.6,515.5L355.5,517.5L355.4,519.5L355.4,521.5L355.3,523.5L355.3,525.5L355.3,527.5L355.2,529.5L355.2,531.5L355.2,533.5L355.1,535.5L355.1,537.5L355.1,539.5L355.1,541.5L355.1,543.5L355.1,545.5L355.0,547.5L355.0,549.5L355.0,551.5L355.0,553.5L355.0,555.5L355.0,557.5L355.0,559.5L355.1,561.5L355.1,563.5L355.1,565.5L355.1,567.5L355.1,569.5L355.1,571.5L355.1,573.5L355.1,575.5L355.1,577.5L355.1,579.5L355.2,581.5L355.2,583.5L355.2,585.5L355.2,587.5L355.2,589.5L355.2,591.4L355.2,593.4L355.2,595.4L355.2,597.4L355.2,599.4L355.2,601.4L355.2,603.4L355.2,605.4L355.2,607.4L355.2,609.4L355.2,611.4L355.1,613.4L355.1,615.4L355.1,617.4L355.1,619.4L355.0,621.4L355.0,623.4L355.0,625.4L355.0,627.4L355.0,629.4L355.0,631.4L355.0,633.4L355.0,635.4L355.0,637.4L355.0,637.4L355.0,635.4L355.0,633.4L355.0,631.4L355.0,629.4L355.0,627.4L355.0,625.4L355.0,623.4L355.0,621.4L355.0,619.4L355.1,617.4L355.1,615.4L355.1,613.4L355.1,611.4L355.1,609.4L355.1,607.4L355.1,605.4L355.1,603.4L355.1,601.4L355.1,599.4L355.1,597.4L355.1,595.4L355.1,593.4L355.1,591.4L355.1,589.5L355.1,587.5L355.1,585.5L355.1,583.5L355.1,581.5L355.1,579.5L355.0,577.5L355.0,575.5L355.0,573.5L355.0,571.5L355.0,569.5L355.0,567.5L355.0,565.5L355.0,563.5L355.0,561.5L355.0,559.5L355.0,557.5L355.0,555.5L355.0,553.5L355.0,551.5L355.0,549.5L355.0,547.5L355.0,545.5L355.0,543.5L355.0,541.5L355.0,539.5L355.0,537.5L355.0,535.5L355.0,533.5L355.0,531.5L355.0,529.5L355.0,527.5L355.0,525.5L355.0,523.5L355.0,521.5L355.0,519.5L355.0,517.5L355.0,515.5L355.1,513.5L355.1,511.5L355.1,509.5L355.2,507.5L355.2,505.5L355.2,503.5L355.3,501.5L355.3,499.5L355.3,497.6L355.4,495.6L355.4,493.6L355.5,491.6L355.6,489.6L355.6,487.6L355.7,485.6L355.8,483.6L355.8,481.6L355.9,479.6L356.0,477.6L356.1,475.6L356.2,473.6L356.3,471.6L356.4,469.6L356.5,467.6L356.6,465.6L356.7,463.6L356.9,461.6L357.0,459.6L357.2,457.6L357.3,455.6L357.5,453.6L357.7,451.6L357.9,449.6L358.2,447.6L358.4,445.6L358.7,443.6L358.9,441.6L359.2,439.6L359.5,437.6L359.9,435.6L360.2,433.6L360.6,431.6L361.0,429.6L361.4,427.6L361.9,425.6L362.3,423.6L362.8,421.6L363.3,419.6L363.9,417.6L364.4,415.6L365.0,413.6L365.7,411.6L366.3,409.6L367.0,407.6L367.8,405.7L368.6,403.7L369.8,401.7L371.6,399.7L373.5,397.7L375.3,395.7L377.1,393.7L378.9,391.7L380.8,389.7L382.6,387.7L384.6,385.7L385.7,384.7L386.1,384.3L386.6,383.9L386.8,383.7L387.0,383.4L387.5,383.0L388.0,382.6L388.5,382.2L389.0,381.7L389.1,381.7L389.5,381.3L390.0,380.9L390.5,380.5L391.1,380.0L391.6,379.7L391.6,379.6L392.2,379.2L392.8,378.8L393.3,378.3L393.9,377.9L394.3,377.7L394.5,377.5L395.2,377.1L395.8,376.6L396.4,376.2L397.1,375.8L397.3,375.7L397.7,375.4L398.4,375.0L399.1,374.5L399.8,374.1L400.5,373.7L400.5,373.7L401.3,373.3L402.0,372.8L402.8,372.4L403.6,372.0L404.2,371.7L404.4,371.6L405.2,371.1L406.0,370.7L406.9,370.3L407.8,369.9L408.2,369.7L408.7,369.4L409.7,369.0L410.7,368.6L411.8,368.2L413.0,367.8L413.2,367.7L414.3,367.3L415.6,366.9L417.1,366.5L418.6,366.1L419.9,365.7L420.1,365.6L421.8,365.2L423.4,364.8L425.1,364.4L426.7,363.9L427.6,363.7L428.3,363.5L429.9,363.1L431.5,362.7L433.2,362.2L435.0,361.8L435.5,361.7L437.0,361.4L439.3,361.0L442.2,360.5L445.7,360.1L450.0,359.7Z" fill="#D95319" fill-opacity="0.5"/>
<path d="M355.3,359.7L355.7,360.1L356.1,360.5L356.6,361.0L357.0,361.4L357.3,361.7L357.5,361.8L357.9,362.2L358.4,362.7L358.9,363.1L359.4,363.5L359.6,363.7L359.9,363.9L360.3,364.4L360.8,364.8L361.3,365.2L361.7,365.6L361.8,365.7L362.2,366.1L362.6,366.5L363.1,366.9L363.5,367.3L363.8,367.7L363.9,367.8L364.3,368.2L364.7,368.6L365.1,369.0L365.4,369.4L365.6,369.7L365.8,369.9L366.1,370.3L366.5,370.7L366.8,371.1L367.1,371.6L367.2,371.7L367.4,372.0L367.7,372.4L368.0,372.8L368.3,373.3L368.6,373.7L368.6,373.7L368.9,374.1L369.2,374.5L369.4,375.0L369.7,375.4L369.9,375.7L369.9,375.8L370.2,376.2L370.4,376.6L370.6,377.1L370.9,377.5L370.9,377.7L371.1,377.9L371.3,378.3L371.5,378.8L371.7,379.2L371.8,379.6L371.9,379.7L372.0,380.0L372.2,380.5L372.3,380.9L372.5,381.3L372.6,381.7L372.6,381.7L372.7,382.2L372.9,382.6L373.0,383.0L373.1,383.4L373.1,383.7L373.2,383.9L373.3,384.3L373.3,384.7L373.5,385.7L373.7,387.7L373.8,389.7L373.9,391.7L373.9,393.7L373.9,395.7L373.8,397.7L373.8,399.7L373.6,401.7L373.5,403.7L373.3,405.7L373.1,407.6L372.8,409.6L372.5,411.6L372.2,413.6L371.9,415.6L371.5,417.6L371.2,419.6L370.8,421.6L370.4,423.6L369.9,425.6L369.5,427.6L369.1,429.6L368.6,431.6L368.1,433.6L367.7,435.6L367.2,437.6L366.7,439.6L366.3,441.6L365.8,443.6L365.4,445.6L365.0,447.6L364.5,449.6L364.1,451.6L363.8,453.6L363.4,455.6L363.1,457.6L362.8,459.6L362.5,461.6L362.2,463.6L362.0,465.6L361.8,467.6L361.5,469.6L361.3,471.6L361.2,473.6L361.0,475.6L360.8,477.6L360.7,479.6L360.6,481.6L360.4,483.6L360.3,485.6L360.2,487.6L360.1,489.6L360.0,491.6L359.9,493.6L359.8,495.6L359.7,497.6L359.6,499.5L359.5,501.5L359.4,503.5L359.3,505.5L359.2,507.5L359.1,509.5L359.0,511.5L358.9,513.5L358.8,515.5L358.7,517.5L358.7,519.5L358.6,521.5L358.5,523.5L358.4,525.5L358.3,527.5L358.3,529.5L358.2,531.5L358.1,533.5L358.1,535.5L358.0,537.5L357.9,539.5L357.8,541.5L357.8,543.5L357.7,545.5L357.7,547.5L357.6,549.5L357.5,551.5L357.5,553.5L357.4,555.5L357.3,557.5L357.3,559.5L357.2,561.5L357.2,563.5L357.1,565.5L357.1,567.5L357.0,569.5L357.0,571.5L356.9,573.5L356.8,575.5L356.8,577.5L356.7,579.5L356.7,581.5L356.6,583.5L356.6,585.5L356.5,587.5L356.5,589.5L356.4,591.4L356.4,593.4L356.3,595.4L356.3,597.4L356.2,599.4L356.2,601.4L356.1,603.4L356.1,605.4L356.0,607.4L356.0,609.4L355.9,611.4L355.9,613.4L355.8,615.4L355.8,617.4L355.7,619.4L355.7,621.4L355.6,623.4L355.5,625.4L355.5,627.4L355.4,629.4L355.4,631.4L355.3,633.4L355.3,635.4L355.2,637.4L355.1,637.4L355.1,635.4L355.1,633.4L355.1,631.4L355.1,629.4L355.1,627.4L355.1,625.4L355.1,623.4L355.2,621.4L355.2,619.4L355.2,617.4L355.2,615.4L355.2,613.4L355.2,611.4L355.3,609.4L355.3,607.4L355.3,605.4L355.3,603.4L355.4,601.4L355.4,599.4L355.4,597.4L355.5,595.4L355.5,593.4L355.5,591.4L355.6,589.5L355.6,587.5L355.7,585.5L355.7,583.5L355.7,581.5L355.8,579.5L355.8,577.5L355.9,575.5L355.9,573.5L356.0,571.5L356.0,569.5L356.1,567.5L356.1,565.5L356.2,563.5L356.2,561.5L356.3,559.5L356.3,557.5L356.4,555.5L356.4,553.5L356.5,551.5L356.6,549.5L356.6,547.5L356.7,545.5L356.7,543.5L356.8,541.5L356.9,539.5L356.9,537.5L357.0,535.5L357.0,533.5L357.1,531.5L357.2,529.5L357.2,527.5L357.3,525.5L357.4,523.5L357.4,521.5L357.5,519.5L357.6,517.5L357.6,515.5L357.7,513.5L357.8,511.5L357.8,509.5L357.9,507.5L358.0,505.5L358.0,503.5L358.1,501.5L358.2,499.5L358.2,497.6L358.3,495.6L358.4,493.6L358.4,491.6L358.5,489.6L358.6,487.6L358.6,485.6L358.7,483.6L358.8,481.6L358.9,479.6L359.0,477.6L359.1,475.6L359.2,473.6L359.3,471.6L359.4,469.6L359.5,467.6L359.7,465.6L359.9,463.6L360.0,461.6L360.2,459.6L360.4,457.6L360.7,455.6L360.9,453.6L361.2,451.6L361.5,449.6L361.8,447.6L362.1,445.6L362.4,443.6L362.7,441.6L363.0,439.6L363.3,437.6L363.7,435.6L364.0,433.6L364.3,431.6L364.6,429.6L364.9,427.6L365.2,425.6L365.5,423.6L365.7,421.6L365.9,419.6L366.1,417.6L366.4,415.6L366.5,413.6L366.7,411.6L366.9,409.6L367.1,407.6L367.3,405.7L367.5,403.7L367.7,401.7L367.8,399.7L368.0,397.7L368.1,395.7L368.1,393.7L368.1,391.7L368.1,389.7L368.0,387.7L367.9,385.7L367.7,384.7L367.7,384.3L367.6,383.9L367.6,383.7L367.5,383.4L367.5,383.0L367.4,382.6L367.3,382.2L367.2,381.7L367.2,381.7L367.1,381.3L367.0,380.9L366.9,380.5L366.8,380.0L366.7,379.7L366.7,379.6L366.5,379.2L366.4,378.8L366.3,378.3L366.1,377.9L366.0,377.7L366.0,377.5L365.8,377.1L365.6,376.6L365.5,376.2L365.3,375.8L365.2,375.7L365.1,375.4L364.9,375.0L364.7,374.5L364.5,374.1L364.3,373.7L364.3,373.7L364.1,373.3L363.8,372.8L363.6,372.4L363.4,372.0L363.2,371.7L363.1,371.6L362.9,371.1L362.6,370.7L362.4,370.3L362.1,369.9L362.0,369.7L361.8,369.4L361.6,369.0L361.3,368.6L361.0,368.2L360.7,367.8L360.7,367.7L360.4,367.3L360.1,366.9L359.8,366.5L359.5,366.1L359.3,365.7L359.2,365.6L358.9,365.2L358.6,364.8L358.3,364.4L358.0,363.9L357.8,363.7L357.7,363.5L357.4,363.1L357.0,362.7L356.7,362.2L356.4,361.8L356.3,361.7L356.1,361.4L355.8,361.0L355.6,360.5L355.3,360.1L355.0,359.7Z" fill="#EDB120" fill-opacity="0.5"/>
<path d="M391.0,359.7L393.8,360.1L396.2,360.5L398.4,361.0L400.7,361.4L402.3,361.7L402.9,361.8L404.9,362.2L406.6,362.7L408.1,363.1L409.7,363.5L410.4,363.7L411.5,363.9L413.4,364.4L415.4,364.8L417.6,365.2L419.7,365.6L420.0,365.7L421.8,366.1L423.8,366.5L425.8,366.9L427.7,367.3L429.3,367.7L429.6,367.8L431.5,368.2L433.5,368.6L435.6,369.0L437.7,369.4L439.0,369.7L439.9,369.9L442.1,370.3L444.3,370.7L446.3,371.1L448.1,371.6L448.7,371.7L449.8,372.0L451.4,372.4L452.8,372.8L454.1,373.3L455.4,373.7L455.4,373.7L456.7,374.1L457.9,374.5L459.1,375.0L460.2,375.4L461.0,375.7L461.4,375.8L462.5,376.2L463.6,376.6L464.7,377.1L465.7,377.5L466.2,377.7L466.8,377.9L467.8,378.3L468.8,378.8L469.8,379.2L470.8,379.6L470.9,379.7L471.7,380.0L472.6,380.5L473.5,380.9L474.4,381.3L475.2,381.7L475.3,381.7L476.1,382.2L476.9,382.6L477.7,383.0L478.5,383.4L478.9,383.7L479.3,383.9L480.0,384.3L480.7,384.7L482.2,385.7L485.0,387.7L487.1,389.7L488.8,391.7L489.9,393.7L490.6,395.7L491.0,397.7L491.2,399.7L491.2,401.7L491.0,403.7L490.6,405.7L490.0,407.6L489.1,409.6L488.0,411.6L486.8,413.6L485.4,415.6L484.0,417.6L482.5,419.6L480.9,421.6L479.3,423.6L477.6,425.6L475.9,427.6L474.1,429.6L472.3,431.6L470.5,433.6L468.6,435.6L466.8,437.6L464.9,439.6L463.0,441.6L461.1,443.6L459.3,445.6L457.4,447.6L455.6,449.6L453.8,451.6L452.0,453.6L450.2,455.6L448.5,457.6L446.8,459.6L445.1,461.6L443.5,463.6L441.8,465.6L440.2,467.6L438.6,469.6L437.1,471.6L435.5,473.6L434.0,475.6L432.5,477.6L431.0,479.6L429.5,481.6L428.1,483.6L426.7,485.6L425.3,487.6L423.9,489.6L422.5,491.6L421.2,493.6L419.9,495.6L418.5,497.6L417.3,499.5L416.0,501.5L414.7,503.5L413.5,505.5L412.3,507.5L411.1,509.5L409.9,511.5L408.7,513.5L407.6,515.5L406.5,517.5L405.3,519.5L404.2,521.5L403.2,523.5L402.1,525.5L401.1,527.5L400.0,529.5L399.0,531.5L398.0,533.5L397.1,535.5L396.1,537.5L395.2,539.5L394.3,541.5L393.3,543.5L392.5,545.5L391.6,547.5L390.7,549.5L389.9,551.5L389.1,553.5L388.2,555.5L387.4,557.5L386.7,559.5L385.9,561.5L385.2,563.5L384.4,565.5L383.7,567.5L383.0,569.5L382.3,571.5L381.6,573.5L381.0,575.5L380.3,577.5L379.7,579.5L379.1,581.5L378.5,583.5L377.9,585.5L377.3,587.5L376.8,589.5L376.2,591.4L375.7,593.4L375.2,595.4L374.7,597.4L374.2,599.4L373.7,601.4L373.3,603.4L372.8,605.4L372.4,607.4L372.0,609.4L371.6,611.4L371.2,613.4L370.8,615.4L370.4,617.4L370.1,619.4L369.7,621.4L369.4,623.4L369.1,625.4L368.8,627.4L368.5,629.4L368.2,631.4L367.9,633.4L367.7,635.4L367.4,637.4L363.7,637.4L364.0,635.4L364.3,633.4L364.6,631.4L364.8,629.4L365.1,627.4L365.4,625.4L365.7,623.4L366.0,621.4L366.4,619.4L366.7,617.4L367.0,615.4L367.3,613.4L367.7,611.4L368.0,609.4L368.3,607.4L368.7,605.4L369.0,603.4L369.4,601.4L369.8,599.4L370.2,597.4L370.5,595.4L370.9,593.4L371.3,591.4L371.7,589.5L372.1,587.5L372.6,585.5L373.0,583.5L373.4,581.5L373.9,579.5L374.3,577.5L374.8,575.5L375.2,573.5L375.7,571.5L376.2,569.5L376.7,567.5L377.2,565.5L377.7,563.5L378.2,561.5L378.7,559.5L379.3,557.5L379.8,555.5L380.4,553.5L380.9,551.5L381.5,549.5L382.1,547.5L382.7,545.5L383.3,543.5L383.9,541.5L384.5,539.5L385.2,537.5L385.8,535.5L386.5,533.5L387.2,531.5L387.8,529.5L388.5,527.5L389.2,525.5L390.0,523.5L390.7,521.5L391.4,519.5L392.2,517.5L393.0,515.5L393.7,513.5L394.5,511.5L395.3,509.5L396.1,507.5L397.0,505.5L397.8,503.5L398.7,501.5L399.5,499.5L400.4,497.6L401.3,495.6L402.2,493.6L403.2,491.6L404.1,489.6L405.1,487.6L406.0,485.6L407.0,483.6L408.0,481.6L409.0,479.6L410.0,477.6L411.0,475.6L412.1,473.6L413.1,471.6L414.1,469.6L415.2,467.6L416.3,465.6L417.3,463.6L418.4,461.6L419.5,459.6L420.5,457.6L421.6,455.6L422.7,453.6L423.8,451.6L424.8,449.6L425.9,447.6L427.0,445.6L428.1,443.6L429.1,441.6L430.2,439.6L431.3,437.6L432.3,435.6L433.4,433.6L434.4,431.6L435.5,429.6L436.5,427.6L437.5,425.6L438.5,423.6L439.5,421.6L440.5,419.6L441.4,417.6L442.3,415.6L443.1,413.6L443.8,411.6L444.5,409.6L445.0,407.6L445.3,405.7L445.5,403.7L445.6,401.7L445.4,399.7L445.0,397.7L444.3,395.7L443.4,393.7L442.3,391.7L440.8,389.7L439.2,387.7L437.9,385.7L437.3,384.7L437.0,384.3L436.7,383.9L436.6,383.7L436.4,383.4L436.0,383.0L435.6,382.6L435.2,382.2L434.7,381.7L434.7,381.7L434.2,381.3L433.6,380.9L433.0,380.5L432.4,380.0L431.8,379.7L431.7,379.6L431.0,379.2L430.3,378.8L429.5,378.3L428.7,377.9L428.2,377.7L427.9,377.5L427.1,377.1L426.3,376.6L425.4,376.2L424.6,375.8L424.4,375.7L423.8,375.4L423.0,375.0L422.2,374.5L421.3,374.1L420.5,373.7L420.5,373.7L419.7,373.3L418.8,372.8L418.0,372.4L417.1,372.0L416.5,371.7L416.2,371.6L415.3,371.1L414.4,370.7L413.5,370.3L412.5,369.9L412.1,369.7L411.5,369.4L410.6,369.0L409.5,368.6L408.5,368.2L407.4,367.8L407.2,367.7L406.3,367.3L405.1,366.9L404.0,366.5L402.7,366.1L401.7,365.7L401.5,365.6L400.2,365.2L398.9,364.8L397.5,364.4L396.1,363.9L395.3,363.7L394.7,363.5L393.2,363.1L391.7,362.7L390.1,362.2L388.5,361.8L388.0,361.7L386.9,361.4L385.2,361.0L383.5,360.5L381.7,360.1L379.9,359.7Z" fill="#7E2F8E" fill-opacity="0.5"/>
<path d="M355.0,359.7L355.3,360.1L355.5,360.5L355.8,361.0L356.0,361.4L356.2,361.7L356.2,361.8L356.4,362.2L356.6,362.7L356.8,363.1L356.9,363.5L357.0,363.7L357.1,363.9L357.2,364.4L357.3,364.8L357.4,365.2L357.5,365.6L357.6,365.7L357.6,366.1L357.7,366.5L357.8,366.9L357.9,367.3L358.0,367.7L358.0,367.8L358.1,368.2L358.1,368.6L358.2,369.0L358.3,369.4L358.3,369.7L358.3,369.9L358.4,370.3L358.5,370.7L358.5,371.1L358.6,371.6L358.6,371.7L358.6,372.0L358.7,372.4L358.8,372.8L358.8,373.3L358.9,373.7L358.9,373.7L358.9,374.1L359.0,374.5L359.1,375.0L359.1,375.4L359.1,375.7L359.2,375.8L359.2,376.2L359.3,376.6L359.3,377.1L359.4,377.5L359.4,377.7L359.4,377.9L359.5,378.3L359.5,378.8L359.6,379.2L359.6,379.6L359.6,379.7L359.7,380.0L359.7,380.5L359.8,380.9L359.8,381.3L359.9,381.7L359.9,381.7L360.0,382.2L360.0,382.6L360.1,383.0L360.2,383.4L360.2,383.7L360.3,383.9L360.3,384.3L360.4,384.7L360.6,385.7L361.0,387.7L361.2,389.7L361.4,391.7L361.5,393.7L361.6,395.7L361.7,397.7L361.7,399.7L361.7,401.7L361.7,403.7L361.6,405.7L361.6,407.6L361.5,409.6L361.4,411.6L361.3,413.6L361.2,415.6L361.2,417.6L361.1,419.6L361.0,421.6L360.9,423.6L360.7,425.6L360.6,427.6L360.5,429.6L360.4,431.6L360.3,433.6L360.2,435.6L360.1,437.6L360.0,439.6L359.9,441.6L359.8,443.6L359.7,445.6L359.6,447.6L359.5,449.6L359.4,451.6L359.3,453.6L359.3,455.6L359.2,457.6L359.1,459.6L359.0,461.6L358.9,463.6L358.8,465.6L358.7,467.6L358.6,469.6L358.5,471.6L358.4,473.6L358.4,475.6L358.3,477.6L358.2,479.6L358.1,481.6L358.0,483.6L358.0,485.6L357.9,487.6L357.8,489.6L357.8,491.6L357.7,493.6L357.6,495.6L357.6,497.6L357.5,499.5L357.4,501.5L357.4,503.5L357.3,505.5L357.3,507.5L357.2,509.5L357.2,511.5L357.1,513.5L357.1,515.5L357.0,517.5L357.0,519.5L356.9,521.5L356.9,523.5L356.9,525.5L356.8,527.5L356.8,529.5L356.7,531.5L356.7,533.5L356.7,535.5L356.6,537.5L356.6,539.5L356.6,541.5L356.5,543.5L356.5,545.5L356.5,547.5L356.4,549.5L356.4,551.5L356.4,553.5L356.3,555.5L356.3,557.5L356.3,559.5L356.3,561.5L356.2,563.5L356.2,565.5L356.2,567.5L356.1,569.5L356.1,571.5L356.1,573.5L356.1,575.5L356.0,577.5L356.0,579.5L356.0,581.5L355.9,583.5L355.9,585.5L355.9,587.5L355.8,589.5L355.8,591.4L355.8,593.4L355.7,595.4L355.7,597.4L355.7,599.4L355.6,601.4L355.6,603.4L355.5,605.4L355.5,607.4L355.5,609.4L355.4,611.4L355.4,613.4L355.3,615.4L355.3,617.4L355.2,619.4L355.2,621.4L355.1,623.4L355.1,625.4L355.0,627.4L355.0,629.4L355.0,631.4L355.0,633.4L355.0,635.4L355.0,637.4L355.0,637.4L355.0,635.4L355.0,633.4L355.0,631.4L355.0,629.4L355.0,627.4L355.0,625.4L355.0,623.4L355.1,621.4L355.1,619.4L355.2,617.4L355.2,615.4L355.2,613.4L355.2,611.4L355.3,609.4L355.3,607.4L355.3,605.4L355.3,603.4L355.4,601.4L355.4,599.4L355.4,597.4L355.4,595.4L355.4,593.4L355.4,591.4L355.4,589.5L355.4,587.5L355.5,585.5L355.5,583.5L355.5,581.5L355.5,579.5L355.5,577.5L355.5,575.5L355.5,573.5L355.5,571.5L355.5,569.5L355.5,567.5L355.5,565.5L355.5,563.5L355.5,561.5L355.5,559.5L355.5,557.5L355.5,555.5L355.5,553.5L355.5,551.5L355.5,549.5L355.6,547.5L355.6,545.5L355.6,543.5L355.6,541.5L355.6,539.5L355.6,537.5L355.6,535.5L355.6,533.5L355.7,531.5L355.7,529.5L355.7,527.5L355.7,525.5L355.7,523.5L355.8,521.5L355.8,519.5L355.8,517.5L355.8,515.5L355.9,513.5L355.9,511.5L356.0,509.5L356.0,507.5L356.0,505.5L356.1,503.5L356.1,501.5L356.2,499.5L356.2,497.6L356.3,495.6L356.4,493.6L356.4,491.6L356.5,489.6L356.5,487.6L356.6,485.6L356.7,483.6L356.8,481.6L356.9,479.6L356.9,477.6L357.0,475.6L357.1,473.6L357.2,471.6L357.3,469.6L357.4,467.6L357.5,465.6L357.6,463.6L357.7,461.6L357.7,459.6L357.8,457.6L357.9,455.6L358.0,453.6L358.1,451.6L358.2,449.6L358.3,447.6L358.4,445.6L358.5,443.6L358.7,441.6L358.8,439.6L358.9,437.6L359.0,435.6L359.1,433.6L359.2,431.6L359.3,429.6L359.4,427.6L359.5,425.6L359.6,423.6L359.7,421.6L359.8,419.6L359.8,417.6L359.9,415.6L360.0,413.6L360.1,411.6L360.2,409.6L360.3,407.6L360.3,405.7L360.4,403.7L360.4,401.7L360.4,399.7L360.4,397.7L360.3,395.7L360.3,393.7L360.1,391.7L359.9,389.7L359.7,387.7L359.3,385.7L359.1,384.7L359.0,384.3L358.9,383.9L358.9,383.7L358.9,383.4L358.8,383.0L358.7,382.6L358.7,382.2L358.6,381.7L358.6,381.7L358.5,381.3L358.5,380.9L358.4,380.5L358.4,380.0L358.3,379.7L358.3,379.6L358.3,379.2L358.2,378.8L358.2,378.3L358.1,377.9L358.1,377.7L358.1,377.5L358.0,377.1L358.0,376.6L357.9,376.2L357.9,375.8L357.9,375.7L357.8,375.4L357.8,375.0L357.7,374.5L357.6,374.1L357.6,373.7L357.6,373.7L357.5,373.3L357.5,372.8L357.4,372.4L357.3,372.0L357.3,371.7L357.3,371.6L357.2,371.1L357.1,370.7L357.1,370.3L357.0,369.9L357.0,369.7L356.9,369.4L356.9,369.0L356.8,368.6L356.7,368.2L356.6,367.8L356.6,367.7L356.6,367.3L356.5,366.9L356.4,366.5L356.3,366.1L356.3,365.7L356.2,365.6L356.2,365.2L356.1,364.8L356.0,364.4L355.9,363.9L355.9,363.7L355.8,363.5L355.7,363.1L355.6,362.7L355.6,362.2L355.5,361.8L355.4,361.7L355.4,361.4L355.3,361.0L355.2,360.5L355.1,360.1L355.0,359.7Z" fill="#77AC30" fill-opacity="0.5"/>
<path d="M355.0,359.7L355.1,360.1L355.2,360.5L355.2,361.0L355.3,361.4L355.3,361.7L355.4,361.8L355.4,362.2L355.5,362.7L355.5,363.1L355.6,363.5L355.6,363.7L355.6,363.9L355.7,364.4L355.7,364.8L355.8,365.2L355.8,365.6L355.8,365.7L355.9,366.1L355.9,366.5L355.9,366.9L356.0,367.3L356.0,367.7L356.0,367.8L356.0,368.2L356.1,368.6L356.1,369.0L356.1,369.4L356.1,369.7L356.2,369.9L356.2,370.3L356.2,370.7L356.2,371.1L356.2,371.6L356.2,371.7L356.3,372.0L356.3,372.4L356.3,372.8L356.3,373.3L356.3,373.7L356.3,373.7L356.3,374.1L356.3,374.5L356.4,375.0L356.4,375.4L356.4,375.7L356.4,375.8L356.4,376.2L356.4,376.6L356.4,377.1L356.4,377.5L356.4,377.7L356.4,377.9L356.4,378.3L356.4,378.8L356.4,379.2L356.5,379.6L356.5,379.7L356.5,380.0L356.5,380.5L356.5,380.9L356.5,381.3L356.5,381.7L356.5,381.7L356.5,382.2L356.5,382.6L356.5,383.0L356.5,383.4L356.5,383.7L356.5,383.9L356.5,384.3L356.5,384.7L356.6,385.7L356.6,387.7L356.6,389.7L356.6,391.7L356.6,393.7L356.6,395.7L356.6,397.7L356.7,399.7L356.7,401.7L356.7,403.7L356.6,405.7L356.6,407.6L356.6,409.6L356.6,411.6L356.6,413.6L356.6,415.6L356.6,417.6L356.5,419.6L356.5,421.6L356.5,423.6L356.5,425.6L356.4,427.6L356.4,429.6L356.4,431.6L356.3,433.6L356.3,435.6L356.3,437.6L356.2,439.6L356.2,441.6L356.2,443.6L356.1,445.6L356.1,447.6L356.1,449.6L356.0,451.6L356.0,453.6L356.0,455.6L355.9,457.6L355.9,459.6L355.8,461.6L355.8,463.6L355.8,465.6L355.7,467.6L355.7,469.6L355.7,471.6L355.6,473.6L355.6,475.6L355.6,477.6L355.5,479.6L355.5,481.6L355.5,483.6L355.4,485.6L355.4,487.6L355.4,489.6L355.4,491.6L355.3,493.6L355.3,495.6L355.3,497.6L355.3,499.5L355.2,501.5L355.2,503.5L355.2,505.5L355.2,507.5L355.2,509.5L355.2,511.5L355.2,513.5L355.2,515.5L355.1,517.5L355.1,519.5L355.1,521.5L355.1,523.5L355.1,525.5L355.1,527.5L355.1,529.5L355.1,531.5L355.1,533.5L355.1,535.5L355.1,537.5L355.1,539.5L355.1,541.5L355.1,543.5L355.1,545.5L355.1,547.5L355.1,549.5L355.1,551.5L355.1,553.5L355.1,555.5L355.1,557.5L355.1,559.5L355.1,561.5L355.1,563.5L355.2,565.5L355.2,567.5L355.2,569.5L355.2,571.5L355.2,573.5L355.2,575.5L355.2,577.5L355.2,579.5L355.2,581.5L355.2,583.5L355.2,585.5L355.2,587.5L355.2,589.5L355.2,591.4L355.2,593.4L355.2,595.4L355.2,597.4L355.2,599.4L355.1,601.4L355.1,603.4L355.1,605.4L355.1,607.4L355.1,609.4L355.1,611.4L355.1,613.4L355.1,615.4L355.1,617.4L355.0,619.4L355.0,621.4L355.0,623.4L355.0,625.4L355.0,627.4L355.0,629.4L355.0,631.4L355.0,633.4L355.0,635.4L355.0,637.4L355.0,637.4L355.0,635.4L355.0,633.4L355.0,631.4L355.0,629.4L355.0,627.4L355.0,625.4L355.0,623.4L355.0,621.4L355.0,619.4L355.0,617.4L355.1,615.4L355.1,613.4L355.1,611.4L355.1,609.4L355.1,607.4L355.1,605.4L355.1,603.4L355.1,601.4L355.1,599.4L355.1,597.4L355.1,595.4L355.1,593.4L355.1,591.4L355.1,589.5L355.1,587.5L355.1,585.5L355.1,583.5L355.1,581.5L355.1,579.5L355.1,577.5L355.1,575.5L355.1,573.5L355.1,571.5L355.1,569.5L355.1,567.5L355.1,565.5L355.1,563.5L355.1,561.5L355.1,559.5L355.1,557.5L355.1,555.5L355.1,553.5L355.1,551.5L355.1,549.5L355.1,547.5L355.1,545.5L355.1,543.5L355.1,541.5L355.1,539.5L355.1,537.5L355.1,535.5L355.1,533.5L355.1,531.5L355.1,529.5L355.1,527.5L355.1,525.5L355.1,523.5L355.1,521.5L355.1,519.5L355.1,517.5L355.1,515.5L355.1,513.5L355.1,511.5L355.1,509.5L355.1,507.5L355.2,505.5L355.2,503.5L355.2,501.5L355.2,499.5L355.2,497.6L355.2,495.6L355.3,493.6L355.3,491.6L355.3,489.6L355.3,487.6L355.3,485.6L355.4,483.6L355.4,481.6L355.4,479.6L355.4,477.6L355.5,475.6L355.5,473.6L355.5,471.6L355.5,469.6L355.6,467.6L355.6,465.6L355.6,463.6L355.6,461.6L355.7,459.6L355.7,457.6L355.7,455.6L355.8,453.6L355.8,451.6L355.8,449.6L355.8,447.6L355.9,445.6L355.9,443.6L355.9,441.6L355.9,439.6L355.9,437.6L356.0,435.6L356.0,433.6L356.0,431.6L356.0,429.6L356.0,427.6L356.1,425.6L356.1,423.6L356.1,421.6L356.1,419.6L356.1,417.6L356.1,415.6L356.1,413.6L356.1,411.6L356.1,409.6L356.1,407.6L356.2,405.7L356.2,403.7L356.2,401.7L356.2,399.7L356.2,397.7L356.2,395.7L356.2,393.7L356.2,391.7L356.2,389.7L356.2,387.7L356.2,385.7L356.2,384.7L356.2,384.3L356.2,383.9L356.2,383.7L356.2,383.4L356.2,383.0L356.2,382.6L356.1,382.2L356.1,381.7L356.1,381.7L356.1,381.3L356.1,380.9L356.1,380.5L356.1,380.0L356.1,379.7L356.1,379.6L356.1,379.2L356.1,378.8L356.1,378.3L356.1,377.9L356.1,377.7L356.1,377.5L356.1,377.1L356.1,376.6L356.0,376.2L356.0,375.8L356.0,375.7L356.0,375.4L356.0,375.0L356.0,374.5L356.0,374.1L356.0,373.7L356.0,373.7L356.0,373.3L355.9,372.8L355.9,372.4L355.9,372.0L355.9,371.7L355.9,371.6L355.9,371.1L355.9,370.7L355.8,370.3L355.8,369.9L355.8,369.7L355.8,369.4L355.8,369.0L355.8,368.6L355.7,368.2L355.7,367.8L355.7,367.7L355.7,367.3L355.7,366.9L355.6,366.5L355.6,366.1L355.6,365.7L355.6,365.6L355.5,365.2L355.5,364.8L355.5,364.4L355.4,363.9L355.4,363.7L355.4,363.5L355.4,363.1L355.3,362.7L355.3,362.2L355.2,361.8L355.2,361.7L355.2,361.4L355.2,361.0L355.1,360.5L355.1,360.1L355.0,359.7Z" fill="#4DBEEE" fill-opacity="0.5"/>
</g>
<line x1="355.00" y1="407.60" x2="632.50" y2="407.60" stroke="#ff1414" stroke-opacity="0.50" stroke-width="1.40" stroke-dasharray="1.50 4.66" stroke-dashoffset="0.55"/>
<line x1="355.00" y1="455.70" x2="632.50" y2="455.70" stroke="#ff1414" stroke-opacity="0.50" stroke-width="1.40" stroke-dasharray="1.50 4.66" stroke-dashoffset="0.55"/>
<line x1="355.00" y1="507.70" x2="632.50" y2="507.70" stroke="#ff1414" stroke-opacity="0.50" stroke-width="1.40" stroke-dasharray="1.50 4.66" stroke-dashoffset="0.55"/>
<line x1="355.00" y1="559.80" x2="632.50" y2="559.80" stroke="#ff1414" stroke-opacity="0.74" stroke-width="0.95" stroke-dasharray="2.00 4.16" stroke-dashoffset="0.80"/>
<line x1="355.00" y1="611.70" x2="632.50" y2="611.70" stroke="#ff1414" stroke-opacity="0.74" stroke-width="0.95" stroke-dasharray="2.00 4.16" stroke-dashoffset="0.80"/>
<rect x="533" y="517.00" width="11" height="10.8" fill="#0072BD"/>
<rect x="533" y="537.00" width="11" height="10.8" fill="#D95319"/>
<rect x="533" y="557.00" width="11" height="10.8" fill="#EDB120"/>
<rect x="533" y="577.00" width="11" height="10.8" fill="#7E2F8E"/>
<rect x="533" y="597.00" width="11" height="10.8" fill="#77AC30"/>
<rect x="533" y="617.00" width="11" height="10.8" fill="#4DBEEE"/>
<g font-family="'Liberation Sans', sans-serif">
<text transform="translate(336.60 11.00) scale(1.070 1)" font-size="13" text-anchor="middle" fill="#222" >Depth profiles of GCR effective dose rate</text>
<text transform="translate(178.70 32.10) scale(0.991 1)" font-size="13" text-anchor="middle" fill="#222" >1 g cm<tspan dy="-5.46" font-size="8.06">−2</tspan><tspan dy="5.46"> Al extra shielding</tspan></text>
<text transform="translate(311.10 65.20) scale(1.060 1)" font-size="19" text-anchor="end" fill="#000" font-weight="bold" stroke="#000" stroke-width="0.35">a</text>
<text transform="translate(493.60 32.10) scale(0.997 1)" font-size="13" text-anchor="middle" fill="#222" >10 g cm<tspan dy="-5.46" font-size="8.06">−2</tspan><tspan dy="5.46"> Al extra shielding</tspan></text>
<text transform="translate(625.90 65.20) scale(1.060 1)" font-size="19" text-anchor="end" fill="#000" font-weight="bold" stroke="#000" stroke-width="0.35">b</text>
<text transform="translate(178.70 351.60) scale(1.021 1)" font-size="13" text-anchor="middle" fill="#222" >30 g cm<tspan dy="-5.46" font-size="8.06">−2</tspan><tspan dy="5.46"> Al extra shielding</tspan></text>
<text transform="translate(311.10 384.40) scale(1.060 1)" font-size="19" text-anchor="end" fill="#000" font-weight="bold" stroke="#000" stroke-width="0.35">c</text>
<text transform="translate(493.60 351.60) scale(1.021 1)" font-size="13" text-anchor="middle" fill="#222" >60 g cm<tspan dy="-5.46" font-size="8.06">−2</tspan><tspan dy="5.46"> Al extra shielding</tspan></text>
<text transform="translate(625.90 384.40) scale(1.060 1)" font-size="19" text-anchor="end" fill="#000" font-weight="bold" stroke="#000" stroke-width="0.35">d</text>
<text transform="translate(34.30 44.10) scale(1.080 1)" font-size="10.5" text-anchor="end" fill="#222" >0</text>
<text transform="translate(34.30 90.40) scale(1.080 1)" font-size="10.5" text-anchor="end" fill="#222" >0.5</text>
<text transform="translate(34.30 136.70) scale(1.080 1)" font-size="10.5" text-anchor="end" fill="#222" >1.0</text>
<text transform="translate(34.30 183.00) scale(1.080 1)" font-size="10.5" text-anchor="end" fill="#222" >1.5</text>
<text transform="translate(34.30 229.30) scale(1.080 1)" font-size="10.5" text-anchor="end" fill="#222" >2.0</text>
<text transform="translate(34.30 275.60) scale(1.080 1)" font-size="10.5" text-anchor="end" fill="#222" >2.5</text>
<text transform="translate(34.30 321.90) scale(1.080 1)" font-size="10.5" text-anchor="end" fill="#222" >3.0</text>
<text transform="translate(34.30 363.30) scale(1.080 1)" font-size="10.5" text-anchor="end" fill="#222" >0</text>
<text transform="translate(34.30 409.58) scale(1.080 1)" font-size="10.5" text-anchor="end" fill="#222" >0.5</text>
<text transform="translate(34.30 455.87) scale(1.080 1)" font-size="10.5" text-anchor="end" fill="#222" >1.0</text>
<text transform="translate(34.30 502.15) scale(1.080 1)" font-size="10.5" text-anchor="end" fill="#222" >1.5</text>
<text transform="translate(34.30 548.43) scale(1.080 1)" font-size="10.5" text-anchor="end" fill="#222" >2.0</text>
<text transform="translate(34.30 594.72) scale(1.080 1)" font-size="10.5" text-anchor="end" fill="#222" >2.5</text>
<text transform="translate(34.30 641.00) scale(1.080 1)" font-size="10.5" text-anchor="end" fill="#222" >3.0</text>
<text transform="translate(39.70 650.90) scale(1.080 1)" font-size="10.5" text-anchor="middle" fill="#222" >0</text>
<text transform="translate(95.30 650.90) scale(1.080 1)" font-size="10.5" text-anchor="middle" fill="#222" >10</text>
<text transform="translate(150.90 650.90) scale(1.080 1)" font-size="10.5" text-anchor="middle" fill="#222" >20</text>
<text transform="translate(206.50 650.90) scale(1.080 1)" font-size="10.5" text-anchor="middle" fill="#222" >30</text>
<text transform="translate(262.10 650.90) scale(1.080 1)" font-size="10.5" text-anchor="middle" fill="#222" >40</text>
<text transform="translate(317.70 650.90) scale(1.080 1)" font-size="10.5" text-anchor="middle" fill="#222" >50</text>
<text transform="translate(354.70 650.90) scale(1.080 1)" font-size="10.5" text-anchor="middle" fill="#222" >0</text>
<text transform="translate(410.26 650.90) scale(1.080 1)" font-size="10.5" text-anchor="middle" fill="#222" >10</text>
<text transform="translate(465.82 650.90) scale(1.080 1)" font-size="10.5" text-anchor="middle" fill="#222" >20</text>
<text transform="translate(521.38 650.90) scale(1.080 1)" font-size="10.5" text-anchor="middle" fill="#222" >30</text>
<text transform="translate(576.94 650.90) scale(1.080 1)" font-size="10.5" text-anchor="middle" fill="#222" >40</text>
<text transform="translate(632.50 650.90) scale(1.080 1)" font-size="10.5" text-anchor="middle" fill="#222" >50</text>
<text transform="translate(637.80 44.40) scale(1.130 1)" font-size="10.4" text-anchor="start" fill="#f52a28" >0</text>
<text transform="translate(637.80 92.30) scale(1.130 1)" font-size="10.4" text-anchor="start" fill="#f52a28" >100</text>
<text transform="translate(637.80 140.40) scale(1.130 1)" font-size="10.4" text-anchor="start" fill="#f52a28" >200</text>
<text transform="translate(637.80 192.40) scale(1.130 1)" font-size="10.4" text-anchor="start" fill="#f52a28" >300</text>
<text transform="translate(637.80 244.50) scale(1.130 1)" font-size="10.4" text-anchor="start" fill="#f52a28" >400</text>
<text transform="translate(637.80 296.40) scale(1.130 1)" font-size="10.4" text-anchor="start" fill="#f52a28" >500</text>
<text transform="translate(637.80 363.60) scale(1.130 1)" font-size="10.4" text-anchor="start" fill="#f52a28" >0</text>
<text transform="translate(637.80 411.50) scale(1.130 1)" font-size="10.4" text-anchor="start" fill="#f52a28" >100</text>
<text transform="translate(637.80 459.60) scale(1.130 1)" font-size="10.4" text-anchor="start" fill="#f52a28" >200</text>
<text transform="translate(637.80 511.60) scale(1.130 1)" font-size="10.4" text-anchor="start" fill="#f52a28" >300</text>
<text transform="translate(637.80 563.70) scale(1.130 1)" font-size="10.4" text-anchor="start" fill="#f52a28" >400</text>
<text transform="translate(637.80 615.60) scale(1.130 1)" font-size="10.4" text-anchor="start" fill="#f52a28" >500</text>
<text transform="translate(336.90 671.40) scale(0.974 1)" font-size="13" text-anchor="middle" fill="#222" >Effective dose (cSv yr<tspan dy="-5.46" font-size="8.06">−1</tspan><tspan dy="5.46">)</tspan></text>
<text transform="translate(10.40 341.20) rotate(-90) scale(0.988 1)" font-size="13" text-anchor="middle" fill="#222" >Depth in the lunar soil (m)</text>
<text transform="translate(668.50 341.30) rotate(90) scale(1.007 1)" font-size="13" text-anchor="middle" fill="#f52a28" >Accumulated column mass (g cm<tspan dy="-5.46" font-size="8.06">−2</tspan><tspan dy="5.46">)</tspan></text>
<text transform="translate(550.00 526.80) scale(1.042 1)" font-size="13" text-anchor="start" fill="#222" >Total</text>
<text transform="translate(550.00 546.80) scale(0.939 1)" font-size="13" text-anchor="start" fill="#222" >Primary GCR</text>
<text transform="translate(550.00 566.80) scale(0.974 1)" font-size="13" text-anchor="start" fill="#222" >Sec. <tspan font-style="italic">p</tspan></text>
<text transform="translate(550.00 586.80) scale(0.963 1)" font-size="13" text-anchor="start" fill="#222" >Sec. <tspan font-style="italic">n</tspan></text>
<text transform="translate(550.00 606.80) scale(0.955 1)" font-size="13" text-anchor="start" fill="#222" >Sec. <tspan font-style="italic">γ</tspan></text>
<text transform="translate(550.00 626.80) scale(0.949 1)" font-size="13" text-anchor="start" fill="#222" >Sec. <tspan font-style="italic">e</tspan><tspan dy="-5.46" font-size="8.06">+</tspan><tspan dy="5.46">, </tspan><tspan font-style="italic">e</tspan><tspan dy="-5.46" font-size="8.06">−</tspan></text>
</g>
</svg>
</body>
</html>
